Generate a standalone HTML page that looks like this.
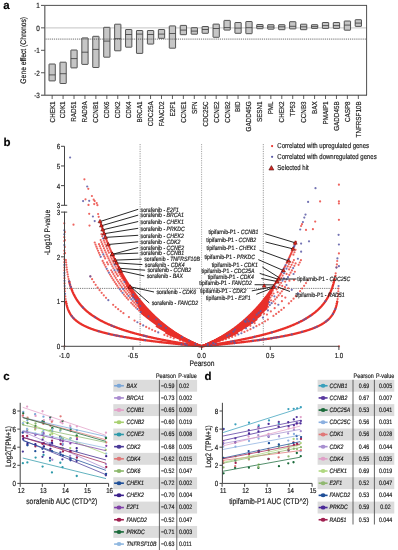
<!DOCTYPE html>
<html><head><meta charset="utf-8"><style>
html,body{margin:0;padding:0;background:#fff;}
body{width:398px;height:550px;overflow:hidden;}
svg{display:block;font-family:"Liberation Sans", sans-serif;will-change:transform;text-rendering:geometricPrecision;}
text{stroke:#1a1a1a;stroke-width:0.15px;}

</style></head><body>
<svg width="398" height="550" viewBox="0 0 398 550">
<text font-size="11.5" text-anchor="start" fill="#000" style="font-weight:bold;" transform="translate(3.30,9.00) scale(1,1.0)">a</text>
<text font-size="11.5" text-anchor="start" fill="#000" style="font-weight:bold;" transform="translate(3.50,146.10) scale(1,1.0)">b</text>
<text font-size="11.5" text-anchor="start" fill="#000" style="font-weight:bold;" transform="translate(3.30,380.00) scale(1,1.0)">c</text>
<text font-size="11.5" text-anchor="start" fill="#000" style="font-weight:bold;" transform="translate(204.40,379.80) scale(1,1.0)">d</text>
<line x1="45.50" y1="27.85" x2="366.60" y2="27.85" stroke="#cfcfcf" stroke-width="1.3"/>
<rect x="49.00" y="64.00" width="6.3" height="16.90" rx="0.4" fill="#c6c6c6" stroke="#444" stroke-width="0.9"/>
<line x1="49.00" y1="74.90" x2="55.30" y2="74.90" stroke="#3a3a3a" stroke-width="0.8"/>
<rect x="59.94" y="62.20" width="6.3" height="21.30" rx="0.4" fill="#c6c6c6" stroke="#444" stroke-width="0.9"/>
<line x1="59.94" y1="73.70" x2="66.23" y2="73.70" stroke="#3a3a3a" stroke-width="0.8"/>
<rect x="70.87" y="50.00" width="6.3" height="17.90" rx="0.4" fill="#c6c6c6" stroke="#444" stroke-width="0.9"/>
<line x1="70.87" y1="58.60" x2="77.17" y2="58.60" stroke="#3a3a3a" stroke-width="0.8"/>
<rect x="81.81" y="37.90" width="6.3" height="26.50" rx="0.4" fill="#c6c6c6" stroke="#444" stroke-width="0.9"/>
<line x1="81.81" y1="52.20" x2="88.11" y2="52.20" stroke="#3a3a3a" stroke-width="0.8"/>
<rect x="92.74" y="36.30" width="6.3" height="31.20" rx="0.4" fill="#c6c6c6" stroke="#444" stroke-width="0.9"/>
<line x1="92.74" y1="49.40" x2="99.04" y2="49.40" stroke="#3a3a3a" stroke-width="0.8"/>
<rect x="103.68" y="27.30" width="6.3" height="29.90" rx="0.4" fill="#c6c6c6" stroke="#444" stroke-width="0.9"/>
<line x1="103.68" y1="41.10" x2="109.98" y2="41.10" stroke="#3a3a3a" stroke-width="0.8"/>
<rect x="114.61" y="24.20" width="6.3" height="26.60" rx="0.4" fill="#c6c6c6" stroke="#444" stroke-width="0.9"/>
<line x1="114.61" y1="38.70" x2="120.91" y2="38.70" stroke="#3a3a3a" stroke-width="0.8"/>
<rect x="125.55" y="29.50" width="6.3" height="17.70" rx="0.4" fill="#c6c6c6" stroke="#444" stroke-width="0.9"/>
<line x1="125.55" y1="34.50" x2="131.84" y2="34.50" stroke="#3a3a3a" stroke-width="0.8"/>
<rect x="136.48" y="30.50" width="6.3" height="22.90" rx="0.4" fill="#c6c6c6" stroke="#444" stroke-width="0.9"/>
<line x1="136.48" y1="34.10" x2="142.78" y2="34.10" stroke="#3a3a3a" stroke-width="0.8"/>
<rect x="147.42" y="30.50" width="6.3" height="13.60" rx="0.4" fill="#c6c6c6" stroke="#444" stroke-width="0.9"/>
<line x1="147.42" y1="34.50" x2="153.72" y2="34.50" stroke="#3a3a3a" stroke-width="0.8"/>
<rect x="158.35" y="29.50" width="6.3" height="8.80" rx="0.4" fill="#c6c6c6" stroke="#444" stroke-width="0.9"/>
<line x1="158.35" y1="34.10" x2="164.65" y2="34.10" stroke="#3a3a3a" stroke-width="0.8"/>
<rect x="169.29" y="25.90" width="6.3" height="22.30" rx="0.4" fill="#c6c6c6" stroke="#444" stroke-width="0.9"/>
<line x1="169.29" y1="33.50" x2="175.59" y2="33.50" stroke="#3a3a3a" stroke-width="0.8"/>
<rect x="180.22" y="25.40" width="6.3" height="9.30" rx="0.4" fill="#c6c6c6" stroke="#444" stroke-width="0.9"/>
<line x1="180.22" y1="30.10" x2="186.52" y2="30.10" stroke="#3a3a3a" stroke-width="0.8"/>
<rect x="191.16" y="27.70" width="6.3" height="6.50" rx="0.4" fill="#c6c6c6" stroke="#444" stroke-width="0.9"/>
<line x1="191.16" y1="31.10" x2="197.45" y2="31.10" stroke="#3a3a3a" stroke-width="0.8"/>
<rect x="202.09" y="26.50" width="6.3" height="6.80" rx="0.4" fill="#c6c6c6" stroke="#444" stroke-width="0.9"/>
<line x1="202.09" y1="29.50" x2="208.39" y2="29.50" stroke="#3a3a3a" stroke-width="0.8"/>
<rect x="213.03" y="24.10" width="6.3" height="13.20" rx="0.4" fill="#c6c6c6" stroke="#444" stroke-width="0.9"/>
<line x1="213.03" y1="28.50" x2="219.32" y2="28.50" stroke="#3a3a3a" stroke-width="0.8"/>
<rect x="223.96" y="20.40" width="6.3" height="9.70" rx="0.4" fill="#c6c6c6" stroke="#444" stroke-width="0.9"/>
<line x1="223.96" y1="27.60" x2="230.26" y2="27.60" stroke="#3a3a3a" stroke-width="0.8"/>
<rect x="234.90" y="22.50" width="6.3" height="10.80" rx="0.4" fill="#c6c6c6" stroke="#444" stroke-width="0.9"/>
<line x1="234.90" y1="28.10" x2="241.19" y2="28.10" stroke="#3a3a3a" stroke-width="0.8"/>
<rect x="245.83" y="21.50" width="6.3" height="12.20" rx="0.4" fill="#c6c6c6" stroke="#444" stroke-width="0.9"/>
<line x1="245.83" y1="27.70" x2="252.13" y2="27.70" stroke="#3a3a3a" stroke-width="0.8"/>
<rect x="256.76" y="24.50" width="6.3" height="4.20" rx="0.4" fill="#c6c6c6" stroke="#444" stroke-width="0.9"/>
<line x1="256.76" y1="26.50" x2="263.06" y2="26.50" stroke="#3a3a3a" stroke-width="0.8"/>
<rect x="267.70" y="24.70" width="6.3" height="4.50" rx="0.4" fill="#c6c6c6" stroke="#444" stroke-width="0.9"/>
<line x1="267.70" y1="27.00" x2="274.00" y2="27.00" stroke="#3a3a3a" stroke-width="0.8"/>
<rect x="278.63" y="24.70" width="6.3" height="5.00" rx="0.4" fill="#c6c6c6" stroke="#444" stroke-width="0.9"/>
<line x1="278.63" y1="26.80" x2="284.94" y2="26.80" stroke="#3a3a3a" stroke-width="0.8"/>
<rect x="289.57" y="21.70" width="6.3" height="7.20" rx="0.4" fill="#c6c6c6" stroke="#444" stroke-width="0.9"/>
<line x1="289.57" y1="26.30" x2="295.87" y2="26.30" stroke="#3a3a3a" stroke-width="0.8"/>
<rect x="300.50" y="24.20" width="6.3" height="5.50" rx="0.4" fill="#c6c6c6" stroke="#444" stroke-width="0.9"/>
<line x1="300.50" y1="26.80" x2="306.81" y2="26.80" stroke="#3a3a3a" stroke-width="0.8"/>
<rect x="311.44" y="24.70" width="6.3" height="3.70" rx="0.4" fill="#c6c6c6" stroke="#444" stroke-width="0.9"/>
<line x1="311.44" y1="26.60" x2="317.74" y2="26.60" stroke="#3a3a3a" stroke-width="0.8"/>
<rect x="322.38" y="22.50" width="6.3" height="5.90" rx="0.4" fill="#c6c6c6" stroke="#444" stroke-width="0.9"/>
<line x1="322.38" y1="25.60" x2="328.68" y2="25.60" stroke="#3a3a3a" stroke-width="0.8"/>
<rect x="333.31" y="22.50" width="6.3" height="5.90" rx="0.4" fill="#c6c6c6" stroke="#444" stroke-width="0.9"/>
<line x1="333.31" y1="25.60" x2="339.61" y2="25.60" stroke="#3a3a3a" stroke-width="0.8"/>
<rect x="344.25" y="21.00" width="6.3" height="9.20" rx="0.4" fill="#c6c6c6" stroke="#444" stroke-width="0.9"/>
<line x1="344.25" y1="25.10" x2="350.55" y2="25.10" stroke="#3a3a3a" stroke-width="0.8"/>
<rect x="355.18" y="19.70" width="6.3" height="6.70" rx="0.4" fill="#c6c6c6" stroke="#444" stroke-width="0.9"/>
<line x1="355.18" y1="23.10" x2="361.48" y2="23.10" stroke="#3a3a3a" stroke-width="0.8"/>
<line x1="45.50" y1="39.08" x2="366.60" y2="39.08" stroke="#4a4a4a" stroke-width="0.8" stroke-dasharray="1.2,0.9"/>
<line x1="41.00" y1="5.40" x2="367.00" y2="5.40" stroke="#3c3c3c" stroke-width="0.9"/>
<line x1="366.60" y1="5.40" x2="366.60" y2="95.20" stroke="#3c3c3c" stroke-width="0.9"/>
<line x1="41.00" y1="95.20" x2="367.00" y2="95.20" stroke="#3c3c3c" stroke-width="1.0"/>
<line x1="44.80" y1="5.40" x2="44.80" y2="95.20" stroke="#6a6a6a" stroke-width="1.3"/>
<line x1="41.00" y1="27.85" x2="44.80" y2="27.85" stroke="#444" stroke-width="0.9"/>
<line x1="41.00" y1="50.30" x2="44.80" y2="50.30" stroke="#444" stroke-width="0.9"/>
<line x1="41.00" y1="72.75" x2="44.80" y2="72.75" stroke="#444" stroke-width="0.9"/>
<text font-size="6.4" text-anchor="end" fill="#1a1a1a" style="" transform="translate(39.90,8.30) scale(1,1.2)">1</text>
<text font-size="6.4" text-anchor="end" fill="#1a1a1a" style="" transform="translate(39.90,30.75) scale(1,1.2)">0</text>
<text font-size="6.4" text-anchor="end" fill="#1a1a1a" style="" transform="translate(39.90,53.20) scale(1,1.2)">-1</text>
<text font-size="6.4" text-anchor="end" fill="#1a1a1a" style="" transform="translate(39.90,75.65) scale(1,1.2)">-2</text>
<text font-size="6.4" text-anchor="end" fill="#1a1a1a" style="" transform="translate(39.90,98.10) scale(1,1.2)">-3</text>
<line x1="52.15" y1="95.20" x2="52.15" y2="99.00" stroke="#333" stroke-width="0.8"/>
<text font-size="6.3" text-anchor="end" fill="#1a1a1a" style="" transform="translate(54.55,101.40) rotate(-90) scale(1,1.15)">CHEK1</text>
<line x1="63.09" y1="95.20" x2="63.09" y2="99.00" stroke="#333" stroke-width="0.8"/>
<text font-size="6.3" text-anchor="end" fill="#1a1a1a" style="" transform="translate(65.48,101.40) rotate(-90) scale(1,1.15)">CDK1</text>
<line x1="74.02" y1="95.20" x2="74.02" y2="99.00" stroke="#333" stroke-width="0.8"/>
<text font-size="6.3" text-anchor="end" fill="#1a1a1a" style="" transform="translate(76.42,101.40) rotate(-90) scale(1,1.15)">RAD51</text>
<line x1="84.95" y1="95.20" x2="84.95" y2="99.00" stroke="#333" stroke-width="0.8"/>
<text font-size="6.3" text-anchor="end" fill="#1a1a1a" style="" transform="translate(87.36,101.40) rotate(-90) scale(1,1.15)">RAD9A</text>
<line x1="95.89" y1="95.20" x2="95.89" y2="99.00" stroke="#333" stroke-width="0.8"/>
<text font-size="6.3" text-anchor="end" fill="#1a1a1a" style="" transform="translate(98.29,101.40) rotate(-90) scale(1,1.15)">CCNB1</text>
<line x1="106.83" y1="95.20" x2="106.83" y2="99.00" stroke="#333" stroke-width="0.8"/>
<text font-size="6.3" text-anchor="end" fill="#1a1a1a" style="" transform="translate(109.23,101.40) rotate(-90) scale(1,1.15)">CDK6</text>
<line x1="117.76" y1="95.20" x2="117.76" y2="99.00" stroke="#333" stroke-width="0.8"/>
<text font-size="6.3" text-anchor="end" fill="#1a1a1a" style="" transform="translate(120.16,101.40) rotate(-90) scale(1,1.15)">CDK2</text>
<line x1="128.69" y1="95.20" x2="128.69" y2="99.00" stroke="#333" stroke-width="0.8"/>
<text font-size="6.3" text-anchor="end" fill="#1a1a1a" style="" transform="translate(131.09,101.40) rotate(-90) scale(1,1.15)">CDK4</text>
<line x1="139.63" y1="95.20" x2="139.63" y2="99.00" stroke="#333" stroke-width="0.8"/>
<text font-size="6.3" text-anchor="end" fill="#1a1a1a" style="" transform="translate(142.03,101.40) rotate(-90) scale(1,1.15)">BRCA1</text>
<line x1="150.56" y1="95.20" x2="150.56" y2="99.00" stroke="#333" stroke-width="0.8"/>
<text font-size="6.3" text-anchor="end" fill="#1a1a1a" style="" transform="translate(152.97,101.40) rotate(-90) scale(1,1.15)">CDC25A</text>
<line x1="161.50" y1="95.20" x2="161.50" y2="99.00" stroke="#333" stroke-width="0.8"/>
<text font-size="6.3" text-anchor="end" fill="#1a1a1a" style="" transform="translate(163.90,101.40) rotate(-90) scale(1,1.15)">FANCD2</text>
<line x1="172.44" y1="95.20" x2="172.44" y2="99.00" stroke="#333" stroke-width="0.8"/>
<text font-size="6.3" text-anchor="end" fill="#1a1a1a" style="" transform="translate(174.84,101.40) rotate(-90) scale(1,1.15)">E2F1</text>
<line x1="183.37" y1="95.20" x2="183.37" y2="99.00" stroke="#333" stroke-width="0.8"/>
<text font-size="6.3" text-anchor="end" fill="#1a1a1a" style="" transform="translate(185.77,101.40) rotate(-90) scale(1,1.15)">CCNE1</text>
<line x1="194.31" y1="95.20" x2="194.31" y2="99.00" stroke="#333" stroke-width="0.8"/>
<text font-size="6.3" text-anchor="end" fill="#1a1a1a" style="" transform="translate(196.71,101.40) rotate(-90) scale(1,1.15)">SFN</text>
<line x1="205.24" y1="95.20" x2="205.24" y2="99.00" stroke="#333" stroke-width="0.8"/>
<text font-size="6.3" text-anchor="end" fill="#1a1a1a" style="" transform="translate(207.64,101.40) rotate(-90) scale(1,1.15)">CDC25C</text>
<line x1="216.18" y1="95.20" x2="216.18" y2="99.00" stroke="#333" stroke-width="0.8"/>
<text font-size="6.3" text-anchor="end" fill="#1a1a1a" style="" transform="translate(218.58,101.40) rotate(-90) scale(1,1.15)">CCNE2</text>
<line x1="227.11" y1="95.20" x2="227.11" y2="99.00" stroke="#333" stroke-width="0.8"/>
<text font-size="6.3" text-anchor="end" fill="#1a1a1a" style="" transform="translate(229.51,101.40) rotate(-90) scale(1,1.15)">CCNB2</text>
<line x1="238.05" y1="95.20" x2="238.05" y2="99.00" stroke="#333" stroke-width="0.8"/>
<text font-size="6.3" text-anchor="end" fill="#1a1a1a" style="" transform="translate(240.45,101.40) rotate(-90) scale(1,1.15)">BID</text>
<line x1="248.98" y1="95.20" x2="248.98" y2="99.00" stroke="#333" stroke-width="0.8"/>
<text font-size="6.3" text-anchor="end" fill="#1a1a1a" style="" transform="translate(251.38,101.40) rotate(-90) scale(1,1.15)">GADD45G</text>
<line x1="259.92" y1="95.20" x2="259.92" y2="99.00" stroke="#333" stroke-width="0.8"/>
<text font-size="6.3" text-anchor="end" fill="#1a1a1a" style="" transform="translate(262.31,101.40) rotate(-90) scale(1,1.15)">SESN1</text>
<line x1="270.85" y1="95.20" x2="270.85" y2="99.00" stroke="#333" stroke-width="0.8"/>
<text font-size="6.3" text-anchor="end" fill="#1a1a1a" style="" transform="translate(273.25,101.40) rotate(-90) scale(1,1.15)">PML</text>
<line x1="281.79" y1="95.20" x2="281.79" y2="99.00" stroke="#333" stroke-width="0.8"/>
<text font-size="6.3" text-anchor="end" fill="#1a1a1a" style="" transform="translate(284.19,101.40) rotate(-90) scale(1,1.15)">CHEK2</text>
<line x1="292.72" y1="95.20" x2="292.72" y2="99.00" stroke="#333" stroke-width="0.8"/>
<text font-size="6.3" text-anchor="end" fill="#1a1a1a" style="" transform="translate(295.12,101.40) rotate(-90) scale(1,1.15)">TP53</text>
<line x1="303.66" y1="95.20" x2="303.66" y2="99.00" stroke="#333" stroke-width="0.8"/>
<text font-size="6.3" text-anchor="end" fill="#1a1a1a" style="" transform="translate(306.06,101.40) rotate(-90) scale(1,1.15)">CCNB3</text>
<line x1="314.59" y1="95.20" x2="314.59" y2="99.00" stroke="#333" stroke-width="0.8"/>
<text font-size="6.3" text-anchor="end" fill="#1a1a1a" style="" transform="translate(316.99,101.40) rotate(-90) scale(1,1.15)">BAX</text>
<line x1="325.52" y1="95.20" x2="325.52" y2="99.00" stroke="#333" stroke-width="0.8"/>
<text font-size="6.3" text-anchor="end" fill="#1a1a1a" style="" transform="translate(327.92,101.40) rotate(-90) scale(1,1.15)">PMAIP1</text>
<line x1="336.46" y1="95.20" x2="336.46" y2="99.00" stroke="#333" stroke-width="0.8"/>
<text font-size="6.3" text-anchor="end" fill="#1a1a1a" style="" transform="translate(338.86,101.40) rotate(-90) scale(1,1.15)">GADD45B</text>
<line x1="347.39" y1="95.20" x2="347.39" y2="99.00" stroke="#333" stroke-width="0.8"/>
<text font-size="6.3" text-anchor="end" fill="#1a1a1a" style="" transform="translate(349.79,101.40) rotate(-90) scale(1,1.15)">CASP8</text>
<line x1="358.33" y1="95.20" x2="358.33" y2="99.00" stroke="#333" stroke-width="0.8"/>
<text font-size="6.3" text-anchor="end" fill="#1a1a1a" style="" transform="translate(360.73,101.40) rotate(-90) scale(1,1.15)">TNFRSF10B</text>
<text font-size="6.75" text-anchor="middle" fill="#1a1a1a" style="" transform="translate(25.90,50.30) rotate(-90) scale(1,1.2)">Gene effect (Chronos)</text>
<line x1="140.10" y1="144.00" x2="140.10" y2="346.30" stroke="#9a9a9a" stroke-width="1.0" stroke-dasharray="1.2,1.1"/>
<line x1="263.30" y1="144.00" x2="263.30" y2="346.30" stroke="#9a9a9a" stroke-width="1.0" stroke-dasharray="1.2,1.1"/>
<line x1="201.60" y1="144.00" x2="201.60" y2="346.30" stroke="#a8a8a8" stroke-width="1.0" stroke-dasharray="1.2,1.1"/>
<line x1="64.50" y1="288.40" x2="339.00" y2="288.40" stroke="#6a6a6a" stroke-width="0.9" stroke-dasharray="1.2,1.0"/>
<polyline points="201.60,346.30 200.70,346.22 199.80,346.14 198.90,346.06 198.01,345.97 197.12,345.89 196.23,345.81 195.35,345.73 194.46,345.65 193.59,345.56 192.71,345.48 191.84,345.40 190.97,345.32 190.10,345.23 189.24,345.15 188.38,345.07 187.52,344.99 186.67,344.90 185.82,344.82 184.97,344.74 184.12,344.65 183.28,344.57 182.44,344.49 181.60,344.40 180.77,344.32 179.94,344.23 179.11,344.15 178.29,344.07 177.47,343.98 176.65,343.90 175.83,343.81 175.02,343.73 174.21,343.64 173.41,343.56 172.60,343.47 171.80,343.39 171.01,343.30 170.21,343.22 169.42,343.13 168.63,343.04 167.85,342.96 167.07,342.87 166.29,342.78 165.51,342.70 164.74,342.61 163.97,342.52 163.20,342.43 162.44,342.35 161.68,342.26 160.92,342.17 160.16,342.08 159.41,341.99 158.66,341.90 157.92,341.82 157.17,341.73 156.43,341.64 155.70,341.55 154.96,341.46 154.23,341.37 153.51,341.28 152.78,341.19 152.06,341.10 151.34,341.00 150.62,340.91 149.91,340.82 149.20,340.73 148.50,340.64 147.79,340.55 147.09,340.45 146.39,340.36 145.70,340.27 145.01,340.17 144.32,340.08 143.63,339.99 142.95,339.89 142.27,339.80 141.59,339.70 140.92,339.61 140.25,339.51 139.58,339.42 138.92,339.32 138.26,339.22 137.60,339.13 136.94,339.03 136.29,338.93 135.64,338.84 134.99,338.74 134.35,338.64 133.71,338.54 133.07,338.44 132.44,338.34 131.81,338.24 131.18,338.14 130.55,338.04 129.93,337.94 129.31,337.84 128.70,337.74 128.08,337.64 127.47,337.54 126.87,337.43 126.26,337.33 125.66,337.23 125.06,337.12 124.47,337.02 123.87,336.92 123.29,336.81 122.70,336.71 122.12,336.60 121.54,336.49 120.96,336.39 120.38,336.28 119.81,336.17 119.25,336.07 118.68,335.96 118.12,335.85 117.56,335.74 117.00,335.63 116.45,335.52 115.90,335.41 115.35,335.30 114.81,335.19 114.27,335.08 113.73,334.96 113.20,334.85 112.66,334.74 112.14,334.62 111.61,334.51 111.09,334.39 110.57,334.28 110.05,334.16 109.54,334.04 109.03,333.93 108.52,333.81 108.01,333.69 107.51,333.57 107.01,333.45 106.52,333.33 106.02,333.21 105.53,333.09 105.05,332.97 104.56,332.85 104.08,332.72 103.61,332.60 103.13,332.48 102.66,332.35 102.19,332.23 101.73,332.10 101.26,331.97 100.80,331.85 100.35,331.72 99.89,331.59 99.44,331.46 98.99,331.33 98.55,331.20 98.11,331.07 97.67,330.93 97.23,330.80 96.80,330.67 96.37,330.53 95.95,330.40 95.52,330.26 95.10,330.12 94.69,329.98 94.27,329.85 93.86,329.71 93.45,329.57 93.05,329.42 92.64,329.28 92.24,329.14 91.85,329.00 91.45,328.85 91.06,328.71 90.68,328.56 90.29,328.41 89.91,328.26 89.53,328.11 89.16,327.96 88.79,327.81 88.42,327.66 88.05,327.51 87.69,327.35 87.33,327.20 86.97,327.04 86.62,326.88 86.27,326.73 85.92,326.57 85.57,326.41 85.23,326.24 84.89,326.08 84.56,325.92 84.22,325.75 83.89,325.59 83.57,325.42 83.24,325.25 82.92,325.08 82.60,324.91 82.29,324.74 81.98,324.56 81.67,324.39 81.36,324.21 81.06,324.03 80.76,323.85 80.46,323.67 80.17,323.49 79.88,323.31 79.59,323.12 79.30,322.94 79.02,322.75 78.74,322.56 78.47,322.37 78.20,322.18 77.93,321.98 77.66,321.79 77.40,321.59 77.13,321.39 76.88,321.19 76.62,320.99 76.37,320.79 76.12,320.58 75.88,320.38 75.63,320.17 75.39,319.96 75.16,319.75 74.92,319.53 74.69,319.32 74.47,319.10 74.24,318.88 74.02,318.66 73.80,318.43 73.59,318.21 73.37,317.98 73.16,317.75 72.96,317.52 72.75,317.29 72.55,317.05 72.36,316.81 72.16,316.57 71.97,316.33 71.78,316.09 71.60,315.84 71.41,315.59 71.24,315.34 71.06,315.09 70.89,314.84 70.72,314.58 70.55,314.32 70.38,314.06 70.22,313.80 70.06,313.53 69.91,313.27 69.76,313.00 69.61,312.73 69.46,312.45 69.32,312.18 69.18,311.90 69.04,311.62 68.91,311.34 68.78,311.06 68.65,310.78 68.52,310.49 68.40,310.21 68.28,309.92 68.17,309.63 68.05,309.34 67.94,309.05 67.84,308.76 67.73,308.47 67.63,308.18 67.53,307.89 67.44,307.60 67.35,307.31 67.26,307.02 67.17,306.73 67.09,306.45 67.01,306.16 66.93,305.88 66.86,305.61 66.79,305.33 66.72,305.06 66.65,304.80 66.59,304.54 66.53,304.29 66.48,304.04 66.43,303.80 66.38,303.57 66.33,303.35 66.29,303.14 66.25,302.94 66.21,302.75 66.17,302.57 66.14,302.40 66.11,302.25 66.09,302.11 66.06,301.99 66.04,301.88 66.03,301.78 66.01,301.71 66.00,301.65 66.00,301.60 65.99,301.58 65.99,301.57" fill="none" stroke="#e8302a" stroke-width="2.3" stroke-linejoin="round" stroke-linecap="round"/>
<polyline points="201.60,346.30 202.50,346.22 203.40,346.14 204.30,346.06 205.19,345.97 206.08,345.89 206.97,345.81 207.85,345.73 208.74,345.65 209.61,345.56 210.49,345.48 211.36,345.40 212.23,345.32 213.10,345.23 213.96,345.15 214.82,345.07 215.68,344.99 216.53,344.90 217.38,344.82 218.23,344.74 219.08,344.65 219.92,344.57 220.76,344.49 221.60,344.40 222.43,344.32 223.26,344.23 224.09,344.15 224.91,344.07 225.73,343.98 226.55,343.90 227.37,343.81 228.18,343.73 228.99,343.64 229.79,343.56 230.60,343.47 231.40,343.39 232.19,343.30 232.99,343.22 233.78,343.13 234.57,343.04 235.35,342.96 236.13,342.87 236.91,342.78 237.69,342.70 238.46,342.61 239.23,342.52 240.00,342.43 240.76,342.35 241.52,342.26 242.28,342.17 243.04,342.08 243.79,341.99 244.54,341.90 245.28,341.82 246.03,341.73 246.77,341.64 247.50,341.55 248.24,341.46 248.97,341.37 249.69,341.28 250.42,341.19 251.14,341.10 251.86,341.00 252.58,340.91 253.29,340.82 254.00,340.73 254.70,340.64 255.41,340.55 256.11,340.45 256.81,340.36 257.50,340.27 258.19,340.17 258.88,340.08 259.57,339.99 260.25,339.89 260.93,339.80 261.61,339.70 262.28,339.61 262.95,339.51 263.62,339.42 264.28,339.32 264.94,339.22 265.60,339.13 266.26,339.03 266.91,338.93 267.56,338.84 268.21,338.74 268.85,338.64 269.49,338.54 270.13,338.44 270.76,338.34 271.39,338.24 272.02,338.14 272.65,338.04 273.27,337.94 273.89,337.84 274.50,337.74 275.12,337.64 275.73,337.54 276.33,337.43 276.94,337.33 277.54,337.23 278.14,337.12 278.73,337.02 279.33,336.92 279.91,336.81 280.50,336.71 281.08,336.60 281.66,336.49 282.24,336.39 282.82,336.28 283.39,336.17 283.95,336.07 284.52,335.96 285.08,335.85 285.64,335.74 286.20,335.63 286.75,335.52 287.30,335.41 287.85,335.30 288.39,335.19 288.93,335.08 289.47,334.96 290.00,334.85 290.54,334.74 291.06,334.62 291.59,334.51 292.11,334.39 292.63,334.28 293.15,334.16 293.66,334.04 294.17,333.93 294.68,333.81 295.19,333.69 295.69,333.57 296.19,333.45 296.68,333.33 297.18,333.21 297.67,333.09 298.15,332.97 298.64,332.85 299.12,332.72 299.59,332.60 300.07,332.48 300.54,332.35 301.01,332.23 301.47,332.10 301.94,331.97 302.40,331.85 302.85,331.72 303.31,331.59 303.76,331.46 304.21,331.33 304.65,331.20 305.09,331.07 305.53,330.93 305.97,330.80 306.40,330.67 306.83,330.53 307.25,330.40 307.68,330.26 308.10,330.12 308.51,329.98 308.93,329.85 309.34,329.71 309.75,329.57 310.15,329.42 310.56,329.28 310.96,329.14 311.35,329.00 311.75,328.85 312.14,328.71 312.52,328.56 312.91,328.41 313.29,328.26 313.67,328.11 314.04,327.96 314.41,327.81 314.78,327.66 315.15,327.51 315.51,327.35 315.87,327.20 316.23,327.04 316.58,326.88 316.93,326.73 317.28,326.57 317.63,326.41 317.97,326.24 318.31,326.08 318.64,325.92 318.98,325.75 319.31,325.59 319.63,325.42 319.96,325.25 320.28,325.08 320.60,324.91 320.91,324.74 321.22,324.56 321.53,324.39 321.84,324.21 322.14,324.03 322.44,323.85 322.74,323.67 323.03,323.49 323.32,323.31 323.61,323.12 323.90,322.94 324.18,322.75 324.46,322.56 324.73,322.37 325.00,322.18 325.27,321.98 325.54,321.79 325.80,321.59 326.07,321.39 326.32,321.19 326.58,320.99 326.83,320.79 327.08,320.58 327.32,320.38 327.57,320.17 327.81,319.96 328.04,319.75 328.28,319.53 328.51,319.32 328.73,319.10 328.96,318.88 329.18,318.66 329.40,318.43 329.61,318.21 329.83,317.98 330.04,317.75 330.24,317.52 330.45,317.29 330.65,317.05 330.84,316.81 331.04,316.57 331.23,316.33 331.42,316.09 331.60,315.84 331.79,315.59 331.96,315.34 332.14,315.09 332.31,314.84 332.48,314.58 332.65,314.32 332.82,314.06 332.98,313.80 333.14,313.53 333.29,313.27 333.44,313.00 333.59,312.73 333.74,312.45 333.88,312.18 334.02,311.90 334.16,311.62 334.29,311.34 334.42,311.06 334.55,310.78 334.68,310.49 334.80,310.21 334.92,309.92 335.03,309.63 335.15,309.34 335.26,309.05 335.36,308.76 335.47,308.47 335.57,308.18 335.67,307.89 335.76,307.60 335.85,307.31 335.94,307.02 336.03,306.73 336.11,306.45 336.19,306.16 336.27,305.88 336.34,305.61 336.41,305.33 336.48,305.06 336.55,304.80 336.61,304.54 336.67,304.29 336.72,304.04 336.77,303.80 336.82,303.57 336.87,303.35 336.91,303.14 336.95,302.94 336.99,302.75 337.03,302.57 337.06,302.40 337.09,302.25 337.11,302.11 337.14,301.99 337.16,301.88 337.17,301.78 337.19,301.71 337.20,301.65 337.20,301.60 337.21,301.58 337.21,301.57" fill="none" stroke="#e8302a" stroke-width="2.3" stroke-linejoin="round" stroke-linecap="round"/>
<polyline points="201.60,346.30 200.72,346.17 199.84,346.05 198.96,345.92 198.09,345.80 197.22,345.67 196.36,345.54 195.49,345.42 194.63,345.29 193.77,345.16 192.92,345.03 192.07,344.90 191.22,344.77 190.37,344.64 189.53,344.51 188.69,344.38 187.85,344.25 187.02,344.12 186.19,343.99 185.36,343.85 184.53,343.72 183.71,343.59 182.89,343.45 182.07,343.32 181.26,343.19 180.45,343.05 179.64,342.91 178.84,342.78 178.03,342.64 177.23,342.50 176.44,342.37 175.65,342.23 174.86,342.09 174.07,341.95 173.28,341.81 172.50,341.67 171.72,341.53 170.95,341.39 170.18,341.25 169.41,341.11 168.64,340.97 167.88,340.82 167.12,340.68 166.36,340.54 165.60,340.39 164.85,340.25 164.10,340.10 163.36,339.96 162.61,339.81 161.87,339.66 161.14,339.52 160.40,339.37 159.67,339.22 158.94,339.07 158.22,338.92 157.49,338.77 156.77,338.62 156.06,338.47 155.34,338.32 154.63,338.17 153.93,338.01 153.22,337.86 152.52,337.71 151.82,337.55 151.12,337.40 150.43,337.24 149.74,337.09 149.05,336.93 148.37,336.77 147.69,336.61 147.01,336.45 146.33,336.30 145.66,336.14 144.99,335.97 144.33,335.81 143.66,335.65 143.00,335.49 142.34,335.33 141.69,335.16 141.04,335.00 140.39,334.83 139.74,334.67 139.10,334.50 138.46,334.33 137.82,334.17 137.19,334.00 136.56,333.83 135.93,333.66 135.30,333.49 134.68,333.32 134.06,333.15 133.44,332.97 132.83,332.80 132.22,332.63 131.61,332.45 131.01,332.28 130.41,332.10 129.81,331.92 129.21,331.75 128.62,331.57 128.03,331.39 127.44,331.21 126.86,331.03 126.28,330.85 125.70,330.67 125.12,330.48 124.55,330.30 123.98,330.12 123.41,329.93 122.85,329.74 122.29,329.56 121.73,329.37 121.18,329.18 120.63,328.99 120.08,328.80 119.53,328.61 118.99,328.42 118.45,328.23 117.91,328.03 117.38,327.84 116.85,327.64 116.32,327.45 115.79,327.25 115.27,327.05 114.75,326.85 114.23,326.65 113.72,326.45 113.21,326.25 112.70,326.05 112.20,325.84 111.70,325.64 111.20,325.43 110.70,325.23 110.21,325.02 109.72,324.81 109.23,324.60 108.75,324.39 108.27,324.18 107.79,323.97 107.31,323.75 106.84,323.54 106.37,323.32 105.90,323.11 105.44,322.89 104.98,322.67 104.52,322.45 104.07,322.23 103.62,322.01 103.17,321.78 102.72,321.56 102.28,321.33 101.84,321.11 101.40,320.88 100.97,320.65 100.54,320.42 100.11,320.19 99.68,319.96 99.26,319.73 98.84,319.49 98.43,319.26 98.01,319.02 97.60,318.78 97.19,318.54 96.79,318.30 96.39,318.06 95.99,317.82 95.59,317.57 95.20,317.33 94.81,317.08 94.42,316.83 94.04,316.58 93.66,316.33 93.28,316.08 92.90,315.83 92.53,315.57 92.16,315.32 91.80,315.06 91.43,314.80 91.07,314.54 90.71,314.28 90.36,314.02 90.01,313.75 89.66,313.49 89.31,313.22 88.97,312.95 88.63,312.69 88.29,312.41 87.96,312.14 87.63,311.87 87.30,311.59 86.98,311.32 86.65,311.04 86.33,310.76 86.02,310.48 85.70,310.20 85.39,309.91 85.09,309.63 84.78,309.34 84.48,309.05 84.18,308.76 83.89,308.47 83.59,308.18 83.30,307.88 83.02,307.59 82.73,307.29 82.45,306.99 82.17,306.69 81.90,306.39 81.63,306.09 81.36,305.78 81.09,305.48 80.83,305.17 80.57,304.86 80.31,304.55 80.05,304.24 79.80,303.93 79.55,303.61 79.31,303.30 79.07,302.98 78.83,302.66 78.59,302.34 78.35,302.02 78.12,301.70 77.90,301.38 77.67,301.05 77.45,300.73 77.23,300.40 77.01,300.07 76.80,299.75 76.59,299.42 76.38,299.09 76.18,298.75 75.98,298.42 75.78,298.09 75.58,297.75 75.39,297.42 75.20,297.08 75.01,296.75 74.83,296.41 74.65,296.07 74.47,295.74 74.29,295.40 74.12,295.06 73.95,294.72 73.79,294.39 73.62,294.05 73.46,293.71 73.30,293.38 73.15,293.04 73.00,292.70 72.85,292.37 72.70,292.04 72.56,291.70 72.42,291.37 72.29,291.04 72.15,290.71 72.02,290.39 71.89,290.06 71.77,289.74 71.65,289.42 71.53,289.10 71.41,288.79 71.30,288.47 71.19,288.16 71.08,287.86 70.97,287.56 70.87,287.26 70.77,286.97 70.68,286.68 70.59,286.39 70.50,286.11 70.41,285.84 70.33,285.57 70.24,285.31 70.17,285.05 70.09,284.80 70.02,284.56 69.95,284.32 69.88,284.09 69.82,283.87 69.76,283.66 69.70,283.45 69.65,283.26 69.60,283.07 69.55,282.89 69.50,282.72 69.46,282.56 69.42,282.41 69.38,282.27 69.35,282.14 69.32,282.02 69.29,281.91 69.27,281.81 69.24,281.73 69.22,281.65 69.21,281.59 69.20,281.54 69.18,281.49 69.18,281.46 69.17,281.45 69.17,281.44" fill="none" stroke="#e8302a" stroke-width="2.3" stroke-linejoin="round" stroke-linecap="round"/>
<polyline points="201.60,346.30 202.48,346.17 203.37,346.05 204.25,345.92 205.12,345.80 206.00,345.67 206.87,345.54 207.73,345.41 208.60,345.28 209.46,345.16 210.32,345.03 211.17,344.90 212.02,344.77 212.87,344.64 213.72,344.50 214.56,344.37 215.40,344.24 216.24,344.11 217.08,343.98 217.91,343.84 218.74,343.71 219.56,343.58 220.39,343.44 221.21,343.31 222.02,343.17 222.84,343.04 223.65,342.90 224.46,342.76 225.26,342.63 226.06,342.49 226.86,342.35 227.66,342.21 228.45,342.07 229.24,341.93 230.03,341.79 230.81,341.65 231.60,341.51 232.37,341.37 233.15,341.23 233.92,341.09 234.69,340.94 235.46,340.80 236.22,340.66 236.98,340.51 237.74,340.37 238.50,340.22 239.25,340.07 240.00,339.93 240.74,339.78 241.49,339.63 242.23,339.48 242.96,339.34 243.70,339.19 244.43,339.04 245.16,338.89 245.88,338.74 246.60,338.58 247.32,338.43 248.04,338.28 248.75,338.13 249.46,337.97 250.17,337.82 250.88,337.66 251.58,337.51 252.28,337.35 252.97,337.20 253.67,337.04 254.36,336.88 255.04,336.72 255.73,336.56 256.41,336.40 257.09,336.24 257.76,336.08 258.43,335.92 259.10,335.76 259.77,335.59 260.43,335.43 261.09,335.27 261.75,335.10 262.40,334.94 263.06,334.77 263.70,334.60 264.35,334.44 264.99,334.27 265.63,334.10 266.27,333.93 266.90,333.76 267.53,333.59 268.16,333.42 268.79,333.24 269.41,333.07 270.03,332.90 270.64,332.72 271.26,332.55 271.87,332.37 272.47,332.20 273.08,332.02 273.68,331.84 274.28,331.66 274.87,331.48 275.47,331.30 276.06,331.12 276.64,330.94 277.23,330.75 277.81,330.57 278.38,330.39 278.96,330.20 279.53,330.01 280.10,329.83 280.66,329.64 281.23,329.45 281.79,329.26 282.34,329.07 282.90,328.88 283.45,328.69 284.00,328.49 284.54,328.30 285.08,328.11 285.62,327.91 286.16,327.71 286.69,327.52 287.22,327.32 287.75,327.12 288.28,326.92 288.80,326.72 289.32,326.51 289.83,326.31 290.34,326.11 290.85,325.90 291.36,325.70 291.86,325.49 292.36,325.28 292.86,325.07 293.36,324.86 293.85,324.65 294.34,324.44 294.82,324.23 295.31,324.01 295.79,323.80 296.26,323.58 296.74,323.36 297.21,323.15 297.68,322.93 298.14,322.71 298.61,322.48 299.07,322.26 299.52,322.04 299.98,321.81 300.43,321.59 300.87,321.36 301.32,321.13 301.76,320.90 302.20,320.67 302.63,320.44 303.07,320.20 303.50,319.97 303.92,319.73 304.35,319.50 304.77,319.26 305.19,319.02 305.60,318.78 306.02,318.54 306.42,318.29 306.83,318.05 307.23,317.80 307.63,317.56 308.03,317.31 308.43,317.06 308.82,316.81 309.21,316.55 309.59,316.30 309.97,316.05 310.35,315.79 310.73,315.53 311.10,315.27 311.48,315.01 311.84,314.75 312.21,314.48 312.57,314.22 312.93,313.95 313.28,313.68 313.64,313.41 313.99,313.14 314.34,312.87 314.68,312.60 315.02,312.32 315.36,312.04 315.69,311.76 316.03,311.48 316.36,311.20 316.68,310.92 317.01,310.63 317.33,310.35 317.64,310.06 317.96,309.77 318.27,309.48 318.58,309.19 318.89,308.89 319.19,308.60 319.49,308.30 319.79,308.00 320.08,307.70 320.37,307.39 320.66,307.09 320.94,306.78 321.23,306.48 321.50,306.17 321.78,305.86 322.05,305.54 322.32,305.23 322.59,304.91 322.86,304.60 323.12,304.28 323.38,303.96 323.63,303.63 323.88,303.31 324.13,302.98 324.38,302.66 324.62,302.33 324.87,302.00 325.10,301.66 325.34,301.33 325.57,301.00 325.80,300.66 326.03,300.32 326.25,299.98 326.47,299.64 326.69,299.30 326.90,298.95 327.11,298.61 327.32,298.26 327.52,297.92 327.73,297.57 327.93,297.22 328.12,296.87 328.32,296.51 328.51,296.16 328.69,295.81 328.88,295.45 329.06,295.10 329.24,294.74 329.42,294.38 329.59,294.03 329.76,293.67 329.93,293.31 330.09,292.95 330.25,292.59 330.41,292.24 330.56,291.88 330.72,291.52 330.86,291.16 331.01,290.81 331.15,290.45 331.29,290.09 331.43,289.74 331.57,289.39 331.70,289.04 331.83,288.69 331.95,288.34 332.07,287.99 332.19,287.65 332.31,287.31 332.42,286.97 332.54,286.63 332.64,286.30 332.75,285.97 332.85,285.65 332.95,285.33 333.05,285.01 333.14,284.70 333.23,284.39 333.32,284.09 333.40,283.80 333.48,283.51 333.56,283.23 333.63,282.95 333.71,282.68 333.78,282.42 333.84,282.17 333.91,281.92 333.97,281.68 334.02,281.46 334.08,281.24 334.13,281.03 334.18,280.83 334.23,280.64 334.27,280.46 334.31,280.29 334.35,280.13 334.38,279.99 334.41,279.85 334.44,279.73 334.46,279.62 334.49,279.53 334.51,279.44 334.52,279.37 334.53,279.31 334.54,279.26 334.55,279.23 334.56,279.21 334.56,279.21" fill="none" stroke="#e8302a" stroke-width="2.3" stroke-linejoin="round" stroke-linecap="round"/>
<polyline points="201.60,346.30 201.20,346.17 200.80,346.03 200.40,345.90 200.01,345.77 199.61,345.63 199.22,345.50 198.83,345.36 198.44,345.23 198.05,345.09 197.66,344.96 197.27,344.82 196.88,344.68 196.50,344.55 196.12,344.41 195.74,344.27 195.36,344.13 194.98,343.99 194.60,343.85 194.22,343.71 193.85,343.57 193.48,343.43 193.10,343.29 192.73,343.15 192.36,343.01 191.99,342.87 191.63,342.73 191.26,342.58 190.90,342.44 190.53,342.30 190.17,342.15 189.81,342.01 189.45,341.87 189.10,341.72 188.74,341.58 188.39,341.43 188.03,341.29 187.68,341.14 187.33,341.00 186.98,340.85 186.63,340.70 186.28,340.56 185.94,340.41 185.60,340.26 185.25,340.12 184.91,339.97 184.57,339.82 184.23,339.67 183.89,339.52 183.56,339.38 183.22,339.23 182.89,339.08 182.56,338.93 182.23,338.78 181.90,338.63 181.57,338.48 181.24,338.33 180.92,338.18 180.59,338.03 180.27,337.88 179.95,337.73 179.63,337.58 179.31,337.43 178.99,337.28 178.68,337.13 178.36,336.98 178.05,336.83 177.74,336.68 177.43,336.52 177.12,336.37 176.81,336.22 176.50,336.07 176.20,335.92 175.89,335.77 175.59,335.61 175.29,335.46 174.99,335.31 174.69,335.16 174.39,335.01 174.10,334.86 173.80,334.70 173.51,334.55 173.22,334.40 172.93,334.25 172.64,334.10 172.35,333.94 172.06,333.79 171.78,333.64 171.49,333.49 171.21,333.34 170.93,333.18 170.65,333.03 170.37,332.88 170.09,332.73 169.82,332.58 169.54,332.43 169.27,332.27 169.00,332.12 168.73,331.97 168.46,331.82 168.19,331.67 167.92,331.52 167.66,331.37 167.39,331.22 167.13,331.07 166.87,330.92 166.61,330.77 166.35,330.62 166.09,330.47 165.84,330.32 165.58,330.17 165.33,330.02 165.08,329.87 164.83,329.72 164.58,329.57 164.33,329.42 164.08,329.27 163.84,329.12 163.59,328.98 163.35,328.83 163.11,328.68 162.87,328.53 162.63,328.39 162.39,328.24 162.16,328.09 161.92,327.95 161.69,327.80 161.46,327.66 161.23,327.51 161.00,327.37 160.77,327.22 160.54,327.08 160.32,326.93 160.10,326.79 159.87,326.65 159.65,326.50 159.43,326.36 159.21,326.22 159.00,326.08 158.78,325.93 158.57,325.79 158.35,325.65 158.14,325.51 157.93,325.37 157.72,325.23 157.51,325.09 157.31,324.95 157.10,324.82 156.90,324.68 156.70,324.54 156.49,324.40 156.29,324.27 156.10,324.13 155.90,324.00 155.70,323.86 155.51,323.73 155.32,323.59 155.12,323.46 154.93,323.33 154.74,323.19 154.56,323.06 154.37,322.93 154.19,322.80 154.00,322.67 153.82,322.54 153.64,322.41 153.46,322.28 153.28,322.15 153.10,322.03 152.93,321.90 152.75,321.77 152.58,321.65 152.41,321.52 152.24,321.40 152.07,321.27 151.90,321.15 151.73,321.03 151.57,320.91 151.41,320.78 151.24,320.66 151.08,320.54 150.92,320.43 150.76,320.31 150.61,320.19 150.45,320.07 150.30,319.96 150.14,319.84 149.99,319.72 149.84,319.61 149.69,319.50 149.55,319.38 149.40,319.27 149.25,319.16 149.11,319.05 148.97,318.94 148.83,318.83 148.69,318.72 148.55,318.62 148.41,318.51 148.28,318.40 148.14,318.30 148.01,318.19 147.88,318.09 147.75,317.99 147.62,317.89 147.49,317.78 147.36,317.68 147.24,317.59 147.12,317.49 146.99,317.39 146.87,317.29 146.75,317.20 146.63,317.10 146.52,317.01 146.40,316.91 146.29,316.82 146.17,316.73 146.06,316.64 145.95,316.55 145.84,316.46 145.74,316.37 145.63,316.29 145.53,316.20 145.42,316.12 145.32,316.03 145.22,315.95 145.12,315.87 145.02,315.79 144.92,315.71 144.83,315.63 144.73,315.55 144.64,315.47 144.55,315.40 144.46,315.32 144.37,315.25 144.28,315.17 144.20,315.10 144.11,315.03 144.03,314.96 143.95,314.89 143.87,314.82 143.79,314.76 143.71,314.69 143.63,314.62 143.56,314.56 143.48,314.50 143.41,314.44 143.34,314.38 143.27,314.32 143.20,314.26 143.13,314.20 143.06,314.14 143.00,314.09 142.94,314.03 142.87,313.98 142.81,313.93 142.75,313.88 142.70,313.83 142.64,313.78 142.58,313.73 142.53,313.68 142.48,313.64 142.42,313.59 142.37,313.55 142.33,313.51 142.28,313.47 142.23,313.43 142.19,313.39 142.14,313.35 142.10,313.31 142.06,313.28 142.02,313.24 141.98,313.21 141.95,313.18 141.91,313.15 141.88,313.12 141.84,313.09 141.81,313.06 141.78,313.04 141.75,313.01 141.73,312.99 141.70,312.96 141.68,312.94 141.65,312.92 141.63,312.90 141.61,312.88 141.59,312.87 141.57,312.85 141.56,312.84 141.54,312.82 141.53,312.81 141.51,312.80 141.50,312.79 141.49,312.78 141.48,312.77 141.48,312.77 141.47,312.76 141.47,312.76 141.46,312.75 141.46,312.75 141.46,312.75" fill="none" stroke="#e8302a" stroke-width="2.0" stroke-linejoin="round" stroke-linecap="round"/>
<polyline points="201.60,346.30 201.19,346.16 200.79,346.02 200.38,345.88 199.98,345.74 199.58,345.60 199.18,345.46 198.78,345.32 198.39,345.18 197.99,345.04 197.60,344.90 197.20,344.75 196.81,344.61 196.42,344.46 196.03,344.32 195.65,344.17 195.26,344.03 194.88,343.88 194.49,343.74 194.11,343.59 193.73,343.44 193.35,343.30 192.97,343.15 192.60,343.00 192.22,342.85 191.85,342.70 191.47,342.55 191.10,342.40 190.73,342.25 190.37,342.10 190.00,341.95 189.63,341.80 189.27,341.65 188.90,341.49 188.54,341.34 188.18,341.19 187.82,341.04 187.47,340.88 187.11,340.73 186.76,340.58 186.40,340.42 186.05,340.27 185.70,340.11 185.35,339.96 185.00,339.80 184.65,339.64 184.31,339.49 183.97,339.33 183.62,339.18 183.28,339.02 182.94,338.86 182.60,338.70 182.27,338.55 181.93,338.39 181.60,338.23 181.26,338.07 180.93,337.91 180.60,337.76 180.27,337.60 179.94,337.44 179.62,337.28 179.29,337.12 178.97,336.96 178.65,336.80 178.33,336.64 178.01,336.48 177.69,336.32 177.37,336.16 177.06,336.00 176.74,335.84 176.43,335.68 176.12,335.52 175.81,335.36 175.50,335.19 175.19,335.03 174.88,334.87 174.58,334.71 174.28,334.55 173.98,334.39 173.67,334.23 173.38,334.06 173.08,333.90 172.78,333.74 172.49,333.58 172.19,333.42 171.90,333.26 171.61,333.10 171.32,332.93 171.03,332.77 170.74,332.61 170.46,332.45 170.17,332.29 169.89,332.13 169.61,331.96 169.33,331.80 169.05,331.64 168.77,331.48 168.50,331.32 168.22,331.16 167.95,331.00 167.68,330.83 167.41,330.67 167.14,330.51 166.87,330.35 166.60,330.19 166.34,330.03 166.07,329.87 165.81,329.71 165.55,329.55 165.29,329.39 165.03,329.23 164.77,329.07 164.52,328.91 164.26,328.75 164.01,328.59 163.76,328.43 163.51,328.28 163.26,328.12 163.01,327.96 162.76,327.80 162.52,327.64 162.28,327.49 162.03,327.33 161.79,327.17 161.55,327.02 161.32,326.86 161.08,326.70 160.84,326.55 160.61,326.39 160.38,326.24 160.14,326.08 159.91,325.93 159.69,325.77 159.46,325.62 159.23,325.47 159.01,325.31 158.79,325.16 158.56,325.01 158.34,324.86 158.12,324.70 157.91,324.55 157.69,324.40 157.47,324.25 157.26,324.10 157.05,323.95 156.84,323.80 156.63,323.65 156.42,323.51 156.21,323.36 156.01,323.21 155.80,323.06 155.60,322.92 155.40,322.77 155.20,322.63 155.00,322.48 154.80,322.34 154.61,322.19 154.41,322.05 154.22,321.91 154.03,321.76 153.84,321.62 153.65,321.48 153.46,321.34 153.27,321.20 153.09,321.06 152.90,320.92 152.72,320.79 152.54,320.65 152.36,320.51 152.18,320.37 152.00,320.24 151.83,320.10 151.65,319.97 151.48,319.84 151.31,319.70 151.14,319.57 150.97,319.44 150.80,319.31 150.64,319.18 150.47,319.05 150.31,318.92 150.14,318.79 149.98,318.66 149.82,318.54 149.67,318.41 149.51,318.28 149.35,318.16 149.20,318.04 149.05,317.91 148.90,317.79 148.75,317.67 148.60,317.55 148.45,317.43 148.30,317.31 148.16,317.19 148.02,317.07 147.88,316.96 147.73,316.84 147.60,316.73 147.46,316.61 147.32,316.50 147.19,316.39 147.05,316.28 146.92,316.17 146.79,316.06 146.66,315.95 146.53,315.84 146.41,315.73 146.28,315.63 146.16,315.52 146.03,315.42 145.91,315.31 145.79,315.21 145.67,315.11 145.55,315.01 145.44,314.91 145.32,314.81 145.21,314.71 145.10,314.62 144.99,314.52 144.88,314.43 144.77,314.33 144.66,314.24 144.56,314.15 144.46,314.06 144.35,313.97 144.25,313.88 144.15,313.79 144.05,313.71 143.96,313.62 143.86,313.54 143.77,313.45 143.67,313.37 143.58,313.29 143.49,313.21 143.40,313.13 143.32,313.05 143.23,312.98 143.14,312.90 143.06,312.83 142.98,312.75 142.90,312.68 142.82,312.61 142.74,312.54 142.66,312.47 142.59,312.40 142.52,312.34 142.44,312.27 142.37,312.21 142.30,312.14 142.23,312.08 142.17,312.02 142.10,311.96 142.04,311.90 141.97,311.84 141.91,311.79 141.85,311.73 141.79,311.68 141.73,311.62 141.68,311.57 141.62,311.52 141.57,311.47 141.52,311.42 141.47,311.38 141.42,311.33 141.37,311.29 141.32,311.24 141.28,311.20 141.23,311.16 141.19,311.12 141.15,311.08 141.11,311.05 141.07,311.01 141.03,310.98 141.00,310.94 140.96,310.91 140.93,310.88 140.90,310.85 140.87,310.82 140.84,310.80 140.81,310.77 140.78,310.74 140.76,310.72 140.73,310.70 140.71,310.68 140.69,310.66 140.67,310.64 140.65,310.62 140.63,310.61 140.62,310.59 140.60,310.58 140.59,310.57 140.58,310.56 140.57,310.55 140.56,310.54 140.55,310.53 140.55,310.53 140.54,310.52 140.54,310.52 140.54,310.52 140.54,310.52" fill="none" stroke="#e8302a" stroke-width="2.0" stroke-linejoin="round" stroke-linecap="round"/>
<polyline points="201.60,346.30 201.19,346.16 200.78,346.01 200.37,345.87 199.96,345.72 199.55,345.57 199.15,345.43 198.74,345.28 198.34,345.13 197.94,344.98 197.54,344.83 197.14,344.69 196.75,344.54 196.35,344.38 195.96,344.23 195.56,344.08 195.17,343.93 194.78,343.78 194.39,343.62 194.01,343.47 193.62,343.32 193.24,343.16 192.85,343.01 192.47,342.85 192.09,342.70 191.71,342.54 191.33,342.38 190.96,342.23 190.58,342.07 190.21,341.91 189.84,341.75 189.47,341.59 189.10,341.43 188.73,341.27 188.36,341.11 188.00,340.95 187.63,340.79 187.27,340.63 186.91,340.47 186.55,340.31 186.19,340.14 185.84,339.98 185.48,339.82 185.13,339.66 184.77,339.49 184.42,339.33 184.07,339.16 183.72,339.00 183.37,338.83 183.03,338.67 182.68,338.50 182.34,338.34 182.00,338.17 181.66,338.00 181.32,337.84 180.98,337.67 180.65,337.50 180.31,337.34 179.98,337.17 179.64,337.00 179.31,336.83 178.98,336.66 178.66,336.50 178.33,336.33 178.00,336.16 177.68,335.99 177.36,335.82 177.04,335.65 176.72,335.48 176.40,335.31 176.08,335.14 175.76,334.97 175.45,334.80 175.14,334.63 174.83,334.46 174.52,334.29 174.21,334.12 173.90,333.95 173.59,333.78 173.29,333.61 172.99,333.43 172.68,333.26 172.38,333.09 172.08,332.92 171.79,332.75 171.49,332.58 171.19,332.41 170.90,332.24 170.61,332.06 170.32,331.89 170.03,331.72 169.74,331.55 169.45,331.38 169.17,331.21 168.88,331.04 168.60,330.86 168.32,330.69 168.04,330.52 167.76,330.35 167.48,330.18 167.21,330.01 166.93,329.84 166.66,329.67 166.39,329.50 166.12,329.33 165.85,329.15 165.58,328.98 165.31,328.81 165.05,328.64 164.79,328.47 164.52,328.30 164.26,328.13 164.00,327.96 163.75,327.80 163.49,327.63 163.23,327.46 162.98,327.29 162.73,327.12 162.48,326.95 162.23,326.78 161.98,326.62 161.73,326.45 161.49,326.28 161.24,326.11 161.00,325.95 160.76,325.78 160.52,325.61 160.28,325.45 160.04,325.28 159.81,325.12 159.57,324.95 159.34,324.79 159.11,324.62 158.88,324.46 158.65,324.30 158.42,324.13 158.19,323.97 157.97,323.81 157.75,323.64 157.52,323.48 157.30,323.32 157.08,323.16 156.86,323.00 156.65,322.84 156.43,322.68 156.22,322.52 156.01,322.36 155.80,322.20 155.59,322.05 155.38,321.89 155.17,321.73 154.96,321.58 154.76,321.42 154.56,321.26 154.36,321.11 154.16,320.96 153.96,320.80 153.76,320.65 153.56,320.50 153.37,320.34 153.17,320.19 152.98,320.04 152.79,319.89 152.60,319.74 152.42,319.59 152.23,319.44 152.04,319.30 151.86,319.15 151.68,319.00 151.50,318.86 151.32,318.71 151.14,318.57 150.96,318.42 150.79,318.28 150.61,318.14 150.44,318.00 150.27,317.86 150.10,317.71 149.93,317.58 149.76,317.44 149.60,317.30 149.43,317.16 149.27,317.02 149.11,316.89 148.95,316.75 148.79,316.62 148.63,316.49 148.48,316.35 148.32,316.22 148.17,316.09 148.02,315.96 147.87,315.83 147.72,315.70 147.57,315.58 147.42,315.45 147.28,315.32 147.13,315.20 146.99,315.07 146.85,314.95 146.71,314.83 146.57,314.71 146.43,314.59 146.30,314.47 146.17,314.35 146.03,314.23 145.90,314.11 145.77,314.00 145.64,313.88 145.52,313.77 145.39,313.66 145.26,313.55 145.14,313.43 145.02,313.32 144.90,313.22 144.78,313.11 144.66,313.00 144.55,312.90 144.43,312.79 144.32,312.69 144.21,312.58 144.10,312.48 143.99,312.38 143.88,312.28 143.77,312.18 143.67,312.09 143.56,311.99 143.46,311.90 143.36,311.80 143.26,311.71 143.16,311.62 143.06,311.53 142.97,311.44 142.87,311.35 142.78,311.26 142.69,311.18 142.60,311.09 142.51,311.01 142.42,310.93 142.34,310.84 142.25,310.76 142.17,310.68 142.09,310.61 142.01,310.53 141.93,310.45 141.85,310.38 141.77,310.31 141.70,310.24 141.63,310.17 141.55,310.10 141.48,310.03 141.41,309.96 141.34,309.90 141.28,309.83 141.21,309.77 141.15,309.71 141.09,309.65 141.02,309.59 140.96,309.53 140.91,309.47 140.85,309.42 140.79,309.36 140.74,309.31 140.69,309.26 140.63,309.21 140.58,309.16 140.54,309.11 140.49,309.06 140.44,309.02 140.40,308.97 140.35,308.93 140.31,308.89 140.27,308.85 140.23,308.81 140.19,308.78 140.16,308.74 140.12,308.70 140.09,308.67 140.06,308.64 140.03,308.61 140.00,308.58 139.97,308.55 139.94,308.53 139.92,308.50 139.89,308.48 139.87,308.45 139.85,308.43 139.83,308.41 139.81,308.39 139.79,308.38 139.78,308.36 139.76,308.35 139.75,308.33 139.74,308.32 139.73,308.31 139.72,308.30 139.71,308.30 139.70,308.29 139.70,308.29 139.70,308.28 139.69,308.28 139.69,308.28" fill="none" stroke="#e8302a" stroke-width="2.0" stroke-linejoin="round" stroke-linecap="round"/>
<polyline points="201.60,346.30 201.18,346.15 200.77,346.00 200.35,345.85 199.94,345.70 199.53,345.55 199.12,345.39 198.71,345.24 198.30,345.09 197.90,344.93 197.49,344.78 197.09,344.62 196.69,344.46 196.29,344.31 195.89,344.15 195.49,343.99 195.09,343.83 194.70,343.67 194.30,343.51 193.91,343.35 193.52,343.19 193.13,343.03 192.74,342.87 192.36,342.71 191.97,342.54 191.59,342.38 191.21,342.22 190.82,342.05 190.45,341.89 190.07,341.72 189.69,341.56 189.32,341.39 188.94,341.22 188.57,341.06 188.20,340.89 187.83,340.72 187.46,340.55 187.09,340.38 186.73,340.21 186.36,340.04 186.00,339.87 185.64,339.70 185.28,339.53 184.92,339.36 184.56,339.19 184.21,339.02 183.85,338.84 183.50,338.67 183.15,338.50 182.80,338.32 182.45,338.15 182.10,337.98 181.75,337.80 181.41,337.63 181.07,337.45 180.72,337.28 180.38,337.10 180.04,336.92 179.71,336.75 179.37,336.57 179.03,336.39 178.70,336.22 178.37,336.04 178.04,335.86 177.71,335.68 177.38,335.51 177.05,335.33 176.73,335.15 176.40,334.97 176.08,334.79 175.76,334.61 175.44,334.43 175.12,334.25 174.81,334.07 174.49,333.89 174.18,333.71 173.86,333.53 173.55,333.35 173.24,333.17 172.93,332.99 172.63,332.81 172.32,332.63 172.02,332.45 171.71,332.27 171.41,332.09 171.11,331.91 170.81,331.73 170.52,331.55 170.22,331.37 169.93,331.18 169.63,331.00 169.34,330.82 169.05,330.64 168.76,330.46 168.47,330.28 168.19,330.10 167.90,329.92 167.62,329.73 167.34,329.55 167.06,329.37 166.78,329.19 166.50,329.01 166.22,328.83 165.95,328.65 165.67,328.47 165.40,328.29 165.13,328.11 164.86,327.93 164.59,327.75 164.33,327.57 164.06,327.39 163.80,327.21 163.53,327.03 163.27,326.85 163.01,326.67 162.75,326.49 162.50,326.31 162.24,326.13 161.99,325.95 161.73,325.77 161.48,325.60 161.23,325.42 160.98,325.24 160.74,325.06 160.49,324.89 160.25,324.71 160.00,324.53 159.76,324.36 159.52,324.18 159.28,324.01 159.05,323.83 158.81,323.65 158.58,323.48 158.34,323.31 158.11,323.13 157.88,322.96 157.65,322.79 157.42,322.61 157.20,322.44 156.97,322.27 156.75,322.10 156.53,321.93 156.30,321.76 156.09,321.59 155.87,321.42 155.65,321.25 155.44,321.08 155.22,320.91 155.01,320.74 154.80,320.57 154.59,320.41 154.38,320.24 154.17,320.07 153.97,319.91 153.76,319.74 153.56,319.58 153.36,319.42 153.16,319.25 152.96,319.09 152.76,318.93 152.57,318.77 152.37,318.61 152.18,318.45 151.99,318.29 151.80,318.13 151.61,317.97 151.42,317.81 151.24,317.66 151.05,317.50 150.87,317.35 150.69,317.19 150.51,317.04 150.33,316.88 150.15,316.73 149.98,316.58 149.80,316.43 149.63,316.28 149.45,316.13 149.28,315.98 149.12,315.83 148.95,315.68 148.78,315.54 148.62,315.39 148.45,315.25 148.29,315.10 148.13,314.96 147.97,314.82 147.81,314.68 147.65,314.54 147.50,314.40 147.35,314.26 147.19,314.12 147.04,313.98 146.89,313.85 146.74,313.71 146.60,313.58 146.45,313.44 146.31,313.31 146.16,313.18 146.02,313.05 145.88,312.92 145.74,312.79 145.61,312.66 145.47,312.54 145.34,312.41 145.20,312.29 145.07,312.16 144.94,312.04 144.81,311.92 144.69,311.80 144.56,311.68 144.43,311.56 144.31,311.44 144.19,311.33 144.07,311.21 143.95,311.10 143.83,310.98 143.72,310.87 143.60,310.76 143.49,310.65 143.38,310.54 143.26,310.43 143.16,310.33 143.05,310.22 142.94,310.12 142.84,310.02 142.73,309.91 142.63,309.81 142.53,309.71 142.43,309.62 142.33,309.52 142.23,309.42 142.14,309.33 142.04,309.24 141.95,309.14 141.86,309.05 141.77,308.96 141.68,308.88 141.60,308.79 141.51,308.70 141.43,308.62 141.34,308.53 141.26,308.45 141.18,308.37 141.10,308.29 141.02,308.21 140.95,308.14 140.87,308.06 140.80,307.99 140.73,307.92 140.66,307.84 140.59,307.77 140.52,307.70 140.46,307.64 140.39,307.57 140.33,307.51 140.27,307.44 140.21,307.38 140.15,307.32 140.09,307.26 140.03,307.20 139.98,307.15 139.92,307.09 139.87,307.04 139.82,306.98 139.77,306.93 139.72,306.88 139.68,306.83 139.63,306.79 139.59,306.74 139.54,306.70 139.50,306.66 139.46,306.61 139.43,306.57 139.39,306.54 139.35,306.50 139.32,306.46 139.29,306.43 139.26,306.40 139.23,306.36 139.20,306.33 139.17,306.31 139.14,306.28 139.12,306.25 139.10,306.23 139.07,306.21 139.05,306.19 139.04,306.17 139.02,306.15 139.00,306.13 138.99,306.12 138.97,306.10 138.96,306.09 138.95,306.08 138.94,306.07 138.94,306.06 138.93,306.05 138.92,306.05 138.92,306.05 138.92,306.04 138.92,306.04" fill="none" stroke="#e8302a" stroke-width="2.0" stroke-linejoin="round" stroke-linecap="round"/>
<polyline points="201.60,346.30 201.16,346.14 200.73,345.98 200.30,345.82 199.87,345.66 199.44,345.49 199.01,345.33 198.58,345.16 198.16,345.00 197.74,344.83 197.31,344.67 196.89,344.50 196.47,344.33 196.06,344.16 195.64,343.99 195.23,343.82 194.81,343.65 194.40,343.48 193.99,343.31 193.58,343.14 193.17,342.96 192.77,342.79 192.36,342.61 191.96,342.44 191.56,342.26 191.16,342.09 190.76,341.91 190.36,341.73 189.97,341.55 189.57,341.37 189.18,341.19 188.79,341.01 188.40,340.83 188.01,340.65 187.62,340.47 187.24,340.29 186.85,340.10 186.47,339.92 186.09,339.74 185.71,339.55 185.33,339.37 184.95,339.18 184.58,338.99 184.20,338.81 183.83,338.62 183.46,338.43 183.09,338.24 182.72,338.06 182.35,337.87 181.99,337.68 181.62,337.49 181.26,337.30 180.90,337.11 180.54,336.92 180.18,336.72 179.83,336.53 179.47,336.34 179.12,336.15 178.76,335.95 178.41,335.76 178.06,335.57 177.72,335.37 177.37,335.18 177.03,334.98 176.68,334.79 176.34,334.59 176.00,334.40 175.66,334.20 175.32,334.01 174.99,333.81 174.65,333.61 174.32,333.42 173.99,333.22 173.65,333.02 173.33,332.82 173.00,332.62 172.67,332.43 172.35,332.23 172.02,332.03 171.70,331.83 171.38,331.63 171.06,331.43 170.75,331.23 170.43,331.03 170.11,330.83 169.80,330.63 169.49,330.43 169.18,330.23 168.87,330.03 168.56,329.83 168.26,329.63 167.95,329.43 167.65,329.23 167.35,329.03 167.05,328.83 166.75,328.63 166.45,328.43 166.16,328.23 165.86,328.03 165.57,327.83 165.28,327.63 164.99,327.43 164.70,327.23 164.41,327.03 164.13,326.83 163.85,326.63 163.56,326.43 163.28,326.23 163.00,326.03 162.72,325.82 162.45,325.62 162.17,325.43 161.90,325.23 161.63,325.03 161.35,324.83 161.08,324.63 160.82,324.43 160.55,324.23 160.29,324.03 160.02,323.83 159.76,323.63 159.50,323.43 159.24,323.24 158.98,323.04 158.72,322.84 158.47,322.64 158.22,322.45 157.96,322.25 157.71,322.05 157.46,321.86 157.22,321.66 156.97,321.47 156.73,321.27 156.48,321.08 156.24,320.88 156.00,320.69 155.76,320.50 155.52,320.30 155.29,320.11 155.05,319.92 154.82,319.73 154.59,319.53 154.36,319.34 154.13,319.15 153.90,318.96 153.68,318.77 153.45,318.58 153.23,318.39 153.01,318.21 152.79,318.02 152.57,317.83 152.35,317.64 152.13,317.46 151.92,317.27 151.71,317.09 151.50,316.90 151.29,316.72 151.08,316.54 150.87,316.35 150.67,316.17 150.46,315.99 150.26,315.81 150.06,315.63 149.86,315.45 149.66,315.27 149.46,315.09 149.27,314.92 149.07,314.74 148.88,314.57 148.69,314.39 148.50,314.22 148.31,314.04 148.13,313.87 147.94,313.70 147.76,313.53 147.57,313.36 147.39,313.19 147.21,313.02 147.04,312.85 146.86,312.68 146.68,312.52 146.51,312.35 146.34,312.19 146.17,312.02 146.00,311.86 145.83,311.70 145.66,311.54 145.50,311.38 145.34,311.22 145.17,311.06 145.01,310.90 144.85,310.75 144.70,310.59 144.54,310.44 144.39,310.29 144.23,310.13 144.08,309.98 143.93,309.83 143.78,309.68 143.63,309.54 143.49,309.39 143.34,309.24 143.20,309.10 143.06,308.96 142.92,308.81 142.78,308.67 142.64,308.53 142.51,308.39 142.37,308.26 142.24,308.12 142.11,307.98 141.98,307.85 141.85,307.72 141.72,307.58 141.60,307.45 141.47,307.32 141.35,307.20 141.23,307.07 141.11,306.94 140.99,306.82 140.87,306.69 140.76,306.57 140.64,306.45 140.53,306.33 140.42,306.21 140.31,306.10 140.20,305.98 140.09,305.87 139.99,305.75 139.89,305.64 139.78,305.53 139.68,305.42 139.58,305.32 139.48,305.21 139.39,305.11 139.29,305.00 139.20,304.90 139.11,304.80 139.02,304.70 138.93,304.60 138.84,304.51 138.75,304.41 138.67,304.32 138.58,304.23 138.50,304.14 138.42,304.05 138.34,303.96 138.26,303.87 138.19,303.79 138.11,303.71 138.04,303.62 137.97,303.54 137.90,303.47 137.83,303.39 137.76,303.31 137.69,303.24 137.63,303.17 137.57,303.10 137.51,303.03 137.44,302.96 137.39,302.89 137.33,302.83 137.27,302.77 137.22,302.70 137.17,302.64 137.11,302.59 137.06,302.53 137.01,302.47 136.97,302.42 136.92,302.37 136.88,302.32 136.83,302.27 136.79,302.22 136.75,302.18 136.71,302.13 136.68,302.09 136.64,302.05 136.61,302.01 136.58,301.97 136.54,301.94 136.51,301.90 136.49,301.87 136.46,301.84 136.43,301.81 136.41,301.78 136.39,301.76 136.37,301.73 136.35,301.71 136.33,301.69 136.31,301.67 136.30,301.65 136.28,301.64 136.27,301.62 136.26,301.61 136.25,301.60 136.24,301.59 136.24,301.58 136.23,301.58 136.23,301.57 136.22,301.57 136.22,301.57" fill="none" stroke="#e8302a" stroke-width="2.0" stroke-linejoin="round" stroke-linecap="round"/>
<polyline points="201.60,346.30 201.14,346.13 200.68,345.95 200.22,345.77 199.76,345.60 199.30,345.42 198.85,345.24 198.39,345.06 197.94,344.88 197.49,344.70 197.04,344.52 196.60,344.33 196.15,344.15 195.71,343.96 195.26,343.78 194.82,343.59 194.38,343.40 193.95,343.21 193.51,343.02 193.07,342.83 192.64,342.64 192.21,342.45 191.78,342.26 191.35,342.06 190.92,341.87 190.50,341.67 190.07,341.48 189.65,341.28 189.23,341.08 188.81,340.89 188.39,340.69 187.98,340.49 187.56,340.29 187.15,340.08 186.74,339.88 186.33,339.68 185.92,339.48 185.51,339.27 185.11,339.07 184.70,338.86 184.30,338.65 183.90,338.45 183.50,338.24 183.10,338.03 182.71,337.82 182.31,337.61 181.92,337.40 181.53,337.19 181.14,336.98 180.75,336.77 180.36,336.55 179.97,336.34 179.59,336.13 179.21,335.91 178.83,335.70 178.45,335.48 178.07,335.27 177.69,335.05 177.32,334.83 176.95,334.62 176.58,334.40 176.21,334.18 175.84,333.96 175.47,333.74 175.11,333.52 174.74,333.30 174.38,333.08 174.02,332.86 173.66,332.64 173.30,332.41 172.95,332.19 172.59,331.97 172.24,331.75 171.89,331.52 171.54,331.30 171.19,331.07 170.84,330.85 170.50,330.62 170.15,330.40 169.81,330.17 169.47,329.95 169.13,329.72 168.79,329.50 168.46,329.27 168.12,329.04 167.79,328.81 167.46,328.59 167.13,328.36 166.80,328.13 166.47,327.90 166.15,327.67 165.83,327.45 165.50,327.22 165.18,326.99 164.86,326.76 164.55,326.53 164.23,326.30 163.92,326.07 163.60,325.84 163.29,325.61 162.98,325.38 162.67,325.15 162.37,324.92 162.06,324.69 161.76,324.46 161.46,324.23 161.16,324.00 160.86,323.77 160.56,323.55 160.26,323.32 159.97,323.09 159.68,322.86 159.39,322.63 159.10,322.40 158.81,322.17 158.52,321.94 158.24,321.71 157.95,321.48 157.67,321.25 157.39,321.02 157.11,320.79 156.84,320.56 156.56,320.34 156.29,320.11 156.01,319.88 155.74,319.65 155.47,319.42 155.20,319.20 154.94,318.97 154.67,318.74 154.41,318.52 154.15,318.29 153.89,318.07 153.63,317.84 153.37,317.61 153.12,317.39 152.86,317.17 152.61,316.94 152.36,316.72 152.11,316.49 151.86,316.27 151.61,316.05 151.37,315.83 151.13,315.61 150.88,315.38 150.64,315.16 150.41,314.94 150.17,314.72 149.93,314.50 149.70,314.29 149.47,314.07 149.24,313.85 149.01,313.63 148.78,313.42 148.55,313.20 148.33,312.99 148.10,312.77 147.88,312.56 147.66,312.35 147.44,312.13 147.23,311.92 147.01,311.71 146.80,311.50 146.58,311.29 146.37,311.08 146.16,310.87 145.96,310.67 145.75,310.46 145.55,310.25 145.34,310.05 145.14,309.84 144.94,309.64 144.74,309.44 144.55,309.24 144.35,309.03 144.16,308.84 143.96,308.64 143.77,308.44 143.58,308.24 143.40,308.04 143.21,307.85 143.03,307.65 142.84,307.46 142.66,307.27 142.48,307.08 142.30,306.89 142.13,306.70 141.95,306.51 141.78,306.32 141.60,306.14 141.43,305.95 141.26,305.77 141.10,305.58 140.93,305.40 140.77,305.22 140.60,305.04 140.44,304.86 140.28,304.69 140.12,304.51 139.97,304.34 139.81,304.16 139.66,303.99 139.51,303.82 139.36,303.65 139.21,303.48 139.06,303.32 138.91,303.15 138.77,302.98 138.63,302.82 138.48,302.66 138.34,302.50 138.21,302.34 138.07,302.18 137.93,302.03 137.80,301.87 137.67,301.72 137.54,301.56 137.41,301.41 137.28,301.26 137.16,301.12 137.03,300.97 136.91,300.83 136.79,300.68 136.67,300.54 136.55,300.40 136.43,300.26 136.32,300.12 136.20,299.99 136.09,299.85 135.98,299.72 135.87,299.59 135.77,299.46 135.66,299.33 135.56,299.21 135.45,299.08 135.35,298.96 135.25,298.84 135.15,298.72 135.06,298.60 134.96,298.48 134.87,298.37 134.78,298.26 134.69,298.14 134.60,298.03 134.51,297.93 134.42,297.82 134.34,297.72 134.26,297.61 134.18,297.51 134.10,297.41 134.02,297.32 133.94,297.22 133.87,297.13 133.79,297.04 133.72,296.95 133.65,296.86 133.58,296.77 133.52,296.69 133.45,296.60 133.39,296.52 133.32,296.44 133.26,296.37 133.20,296.29 133.15,296.22 133.09,296.15 133.03,296.08 132.98,296.01 132.93,295.94 132.88,295.88 132.83,295.82 132.78,295.76 132.74,295.70 132.69,295.64 132.65,295.59 132.61,295.53 132.57,295.48 132.53,295.43 132.50,295.39 132.46,295.34 132.43,295.30 132.40,295.26 132.37,295.22 132.34,295.18 132.31,295.15 132.29,295.12 132.26,295.09 132.24,295.06 132.22,295.03 132.20,295.00 132.18,294.98 132.17,294.96 132.15,294.94 132.14,294.92 132.13,294.91 132.12,294.90 132.11,294.89 132.10,294.88 132.10,294.87 132.09,294.86 132.09,294.86 132.09,294.86" fill="none" stroke="#e8302a" stroke-width="2.0" stroke-linejoin="round" stroke-linecap="round"/>
<polyline points="201.60,346.30 201.10,346.11 200.61,345.92 200.12,345.72 199.62,345.53 199.13,345.33 198.65,345.14 198.16,344.94 197.67,344.74 197.19,344.54 196.71,344.33 196.23,344.13 195.75,343.93 195.28,343.72 194.80,343.52 194.33,343.31 193.86,343.10 193.39,342.89 192.92,342.68 192.45,342.47 191.99,342.25 191.52,342.04 191.06,341.82 190.60,341.61 190.14,341.39 189.69,341.17 189.23,340.95 188.78,340.73 188.33,340.51 187.88,340.29 187.43,340.07 186.98,339.84 186.54,339.62 186.09,339.39 185.65,339.16 185.21,338.93 184.77,338.70 184.34,338.47 183.90,338.24 183.47,338.01 183.04,337.78 182.60,337.54 182.18,337.31 181.75,337.07 181.32,336.84 180.90,336.60 180.48,336.36 180.06,336.12 179.64,335.88 179.22,335.64 178.81,335.40 178.39,335.16 177.98,334.92 177.57,334.67 177.16,334.43 176.76,334.18 176.35,333.94 175.95,333.69 175.55,333.44 175.15,333.19 174.75,332.94 174.35,332.69 173.95,332.44 173.56,332.19 173.17,331.94 172.78,331.69 172.39,331.44 172.00,331.18 171.62,330.93 171.23,330.67 170.85,330.42 170.47,330.16 170.09,329.90 169.72,329.65 169.34,329.39 168.97,329.13 168.59,328.87 168.22,328.61 167.85,328.35 167.49,328.09 167.12,327.83 166.76,327.57 166.40,327.31 166.04,327.05 165.68,326.79 165.32,326.52 164.96,326.26 164.61,326.00 164.26,325.73 163.91,325.47 163.56,325.20 163.21,324.94 162.87,324.67 162.52,324.41 162.18,324.14 161.84,323.87 161.50,323.61 161.16,323.34 160.83,323.07 160.49,322.81 160.16,322.54 159.83,322.27 159.50,322.00 159.17,321.74 158.85,321.47 158.52,321.20 158.20,320.93 157.88,320.66 157.56,320.39 157.24,320.12 156.93,319.86 156.61,319.59 156.30,319.32 155.99,319.05 155.68,318.78 155.37,318.51 155.07,318.24 154.76,317.97 154.46,317.70 154.16,317.43 153.86,317.17 153.56,316.90 153.27,316.63 152.97,316.36 152.68,316.09 152.39,315.82 152.10,315.55 151.81,315.29 151.53,315.02 151.24,314.75 150.96,314.48 150.68,314.22 150.40,313.95 150.12,313.68 149.85,313.42 149.57,313.15 149.30,312.88 149.03,312.62 148.76,312.35 148.49,312.09 148.23,311.83 147.96,311.56 147.70,311.30 147.44,311.03 147.18,310.77 146.92,310.51 146.66,310.25 146.41,309.99 146.16,309.73 145.91,309.47 145.66,309.21 145.41,308.95 145.16,308.69 144.92,308.43 144.68,308.17 144.43,307.92 144.19,307.66 143.96,307.41 143.72,307.15 143.49,306.90 143.25,306.64 143.02,306.39 142.79,306.14 142.56,305.89 142.34,305.64 142.11,305.39 141.89,305.14 141.67,304.89 141.45,304.65 141.23,304.40 141.02,304.16 140.80,303.91 140.59,303.67 140.38,303.43 140.17,303.18 139.96,302.94 139.75,302.70 139.55,302.47 139.34,302.23 139.14,301.99 138.94,301.76 138.75,301.52 138.55,301.29 138.35,301.06 138.16,300.83 137.97,300.60 137.78,300.37 137.59,300.14 137.41,299.91 137.22,299.69 137.04,299.47 136.86,299.24 136.68,299.02 136.50,298.80 136.32,298.58 136.15,298.37 135.97,298.15 135.80,297.94 135.63,297.72 135.46,297.51 135.30,297.30 135.13,297.09 134.97,296.88 134.81,296.68 134.65,296.47 134.49,296.27 134.33,296.07 134.18,295.87 134.02,295.67 133.87,295.47 133.72,295.28 133.57,295.08 133.43,294.89 133.28,294.70 133.14,294.51 133.00,294.33 132.86,294.14 132.72,293.96 132.58,293.77 132.45,293.59 132.31,293.42 132.18,293.24 132.05,293.06 131.92,292.89 131.80,292.72 131.67,292.55 131.55,292.38 131.43,292.22 131.31,292.05 131.19,291.89 131.07,291.73 130.95,291.57 130.84,291.41 130.73,291.26 130.62,291.11 130.51,290.96 130.40,290.81 130.30,290.66 130.19,290.52 130.09,290.37 129.99,290.23 129.89,290.09 129.80,289.96 129.70,289.82 129.61,289.69 129.52,289.56 129.43,289.43 129.34,289.31 129.25,289.18 129.16,289.06 129.08,288.94 129.00,288.82 128.92,288.71 128.84,288.59 128.76,288.48 128.69,288.38 128.61,288.27 128.54,288.16 128.47,288.06 128.40,287.96 128.33,287.87 128.27,287.77 128.21,287.68 128.14,287.59 128.08,287.50 128.02,287.41 127.97,287.33 127.91,287.25 127.86,287.17 127.81,287.09 127.75,287.02 127.71,286.95 127.66,286.88 127.61,286.81 127.57,286.75 127.53,286.68 127.49,286.62 127.45,286.57 127.41,286.51 127.37,286.46 127.34,286.41 127.31,286.36 127.28,286.31 127.25,286.27 127.22,286.23 127.20,286.19 127.17,286.16 127.15,286.12 127.13,286.09 127.11,286.06 127.09,286.04 127.08,286.01 127.06,285.99 127.05,285.98 127.04,285.96 127.03,285.95 127.02,285.93 127.02,285.93 127.01,285.92 127.01,285.92 127.01,285.91" fill="none" stroke="#e8302a" stroke-width="2.0" stroke-linejoin="round" stroke-linecap="round"/>
<polyline points="201.60,346.30 201.05,346.08 200.50,345.87 199.95,345.65 199.41,345.42 198.87,345.20 198.33,344.98 197.79,344.75 197.25,344.52 196.71,344.29 196.18,344.06 195.65,343.83 195.12,343.59 194.59,343.36 194.06,343.12 193.54,342.88 193.02,342.64 192.50,342.40 191.98,342.16 191.46,341.91 190.94,341.66 190.43,341.41 189.92,341.17 189.41,340.91 188.90,340.66 188.40,340.41 187.89,340.15 187.39,339.89 186.89,339.64 186.39,339.38 185.89,339.11 185.40,338.85 184.90,338.59 184.41,338.32 183.92,338.05 183.44,337.79 182.95,337.52 182.47,337.24 181.98,336.97 181.50,336.70 181.02,336.42 180.55,336.15 180.07,335.87 179.60,335.59 179.13,335.31 178.66,335.03 178.19,334.75 177.73,334.46 177.26,334.18 176.80,333.89 176.34,333.60 175.88,333.31 175.43,333.02 174.97,332.73 174.52,332.44 174.07,332.15 173.62,331.85 173.17,331.56 172.72,331.26 172.28,330.96 171.84,330.66 171.40,330.36 170.96,330.06 170.52,329.76 170.09,329.45 169.66,329.15 169.23,328.84 168.80,328.54 168.37,328.23 167.95,327.92 167.52,327.61 167.10,327.30 166.68,326.99 166.26,326.68 165.85,326.37 165.43,326.05 165.02,325.74 164.61,325.42 164.20,325.10 163.79,324.79 163.39,324.47 162.99,324.15 162.58,323.83 162.18,323.51 161.79,323.19 161.39,322.87 161.00,322.54 160.60,322.22 160.21,321.90 159.83,321.57 159.44,321.25 159.05,320.92 158.67,320.59 158.29,320.27 157.91,319.94 157.53,319.61 157.16,319.28 156.78,318.95 156.41,318.62 156.04,318.29 155.67,317.96 155.31,317.62 154.94,317.29 154.58,316.96 154.22,316.63 153.86,316.29 153.50,315.96 153.15,315.62 152.79,315.29 152.44,314.95 152.09,314.62 151.74,314.28 151.40,313.95 151.05,313.61 150.71,313.27 150.37,312.94 150.03,312.60 149.69,312.26 149.36,311.92 149.02,311.59 148.69,311.25 148.36,310.91 148.03,310.57 147.71,310.23 147.38,309.89 147.06,309.56 146.74,309.22 146.42,308.88 146.11,308.54 145.79,308.20 145.48,307.86 145.17,307.53 144.86,307.19 144.55,306.85 144.24,306.51 143.94,306.17 143.64,305.84 143.34,305.50 143.04,305.16 142.74,304.82 142.45,304.49 142.15,304.15 141.86,303.81 141.57,303.48 141.28,303.14 141.00,302.81 140.72,302.47 140.43,302.14 140.15,301.80 139.87,301.47 139.60,301.14 139.32,300.80 139.05,300.47 138.78,300.14 138.51,299.81 138.24,299.48 137.98,299.15 137.71,298.82 137.45,298.49 137.19,298.16 136.93,297.83 136.68,297.51 136.42,297.18 136.17,296.86 135.92,296.53 135.67,296.21 135.42,295.89 135.18,295.57 134.94,295.25 134.69,294.93 134.45,294.61 134.22,294.29 133.98,293.97 133.75,293.66 133.51,293.34 133.28,293.03 133.05,292.71 132.83,292.40 132.60,292.09 132.38,291.78 132.16,291.48 131.94,291.17 131.72,290.86 131.51,290.56 131.29,290.26 131.08,289.95 130.87,289.65 130.66,289.35 130.45,289.06 130.25,288.76 130.05,288.47 129.84,288.17 129.64,287.88 129.45,287.59 129.25,287.30 129.06,287.01 128.87,286.73 128.68,286.45 128.49,286.16 128.30,285.88 128.12,285.60 127.93,285.33 127.75,285.05 127.57,284.78 127.40,284.51 127.22,284.24 127.05,283.97 126.88,283.70 126.71,283.44 126.54,283.17 126.37,282.91 126.21,282.66 126.04,282.40 125.88,282.15 125.72,281.89 125.57,281.64 125.41,281.39 125.26,281.15 125.11,280.91 124.96,280.66 124.81,280.42 124.66,280.19 124.52,279.95 124.38,279.72 124.24,279.49 124.10,279.26 123.96,279.04 123.83,278.81 123.69,278.59 123.56,278.37 123.43,278.16 123.30,277.94 123.18,277.73 123.05,277.52 122.93,277.32 122.81,277.11 122.69,276.91 122.58,276.72 122.46,276.52 122.35,276.33 122.24,276.14 122.13,275.95 122.02,275.77 121.92,275.58 121.81,275.40 121.71,275.23 121.61,275.05 121.51,274.88 121.41,274.71 121.32,274.55 121.23,274.39 121.14,274.23 121.05,274.07 120.96,273.92 120.87,273.77 120.79,273.62 120.71,273.47 120.63,273.33 120.55,273.19 120.48,273.06 120.40,272.93 120.33,272.80 120.26,272.67 120.19,272.55 120.12,272.43 120.06,272.31 119.99,272.19 119.93,272.08 119.87,271.98 119.81,271.87 119.76,271.77 119.70,271.67 119.65,271.58 119.60,271.48 119.55,271.40 119.51,271.31 119.46,271.23 119.42,271.15 119.38,271.07 119.34,271.00 119.30,270.93 119.26,270.87 119.23,270.81 119.20,270.75 119.17,270.69 119.14,270.64 119.11,270.59 119.09,270.54 119.06,270.50 119.04,270.46 119.02,270.43 119.01,270.40 118.99,270.37 118.98,270.34 118.96,270.32 118.95,270.30 118.95,270.29 118.94,270.27 118.93,270.27 118.93,270.26 118.93,270.26" fill="none" stroke="#e8302a" stroke-width="2.0" stroke-linejoin="round" stroke-linecap="round"/>
<polyline points="201.60,346.30 201.00,346.06 200.40,345.82 199.81,345.57 199.21,345.32 198.62,345.07 198.03,344.82 197.45,344.57 196.86,344.31 196.28,344.06 195.70,343.80 195.12,343.53 194.54,343.27 193.97,343.00 193.39,342.74 192.82,342.47 192.25,342.19 191.68,341.92 191.12,341.64 190.56,341.37 190.00,341.09 189.44,340.80 188.88,340.52 188.32,340.23 187.77,339.94 187.22,339.65 186.67,339.36 186.12,339.07 185.58,338.77 185.03,338.47 184.49,338.17 183.95,337.87 183.42,337.57 182.88,337.26 182.35,336.96 181.82,336.65 181.29,336.34 180.76,336.02 180.23,335.71 179.71,335.39 179.19,335.07 178.67,334.75 178.15,334.43 177.64,334.11 177.13,333.78 176.61,333.46 176.11,333.13 175.60,332.80 175.09,332.47 174.59,332.13 174.09,331.80 173.59,331.46 173.09,331.12 172.60,330.78 172.10,330.44 171.61,330.09 171.12,329.75 170.64,329.40 170.15,329.05 169.67,328.70 169.19,328.35 168.71,328.00 168.23,327.64 167.75,327.29 167.28,326.93 166.81,326.57 166.34,326.21 165.87,325.85 165.41,325.48 164.95,325.12 164.48,324.75 164.02,324.39 163.57,324.02 163.11,323.65 162.66,323.27 162.21,322.90 161.76,322.53 161.31,322.15 160.87,321.77 160.42,321.40 159.98,321.02 159.54,320.64 159.11,320.25 158.67,319.87 158.24,319.49 157.81,319.10 157.38,318.71 156.95,318.33 156.52,317.94 156.10,317.55 155.68,317.16 155.26,316.76 154.84,316.37 154.43,315.98 154.02,315.58 153.60,315.18 153.20,314.79 152.79,314.39 152.38,313.99 151.98,313.59 151.58,313.19 151.18,312.79 150.78,312.38 150.39,311.98 149.99,311.58 149.60,311.17 149.21,310.76 148.83,310.36 148.44,309.95 148.06,309.54 147.68,309.13 147.30,308.72 146.92,308.31 146.55,307.90 146.17,307.49 145.80,307.08 145.43,306.67 145.06,306.25 144.70,305.84 144.34,305.42 143.98,305.01 143.62,304.59 143.26,304.18 142.90,303.76 142.55,303.35 142.20,302.93 141.85,302.51 141.50,302.09 141.16,301.68 140.81,301.26 140.47,300.84 140.13,300.42 139.80,300.00 139.46,299.58 139.13,299.17 138.80,298.75 138.47,298.33 138.14,297.91 137.82,297.49 137.49,297.07 137.17,296.65 136.85,296.23 136.54,295.81 136.22,295.39 135.91,294.97 135.60,294.55 135.29,294.14 134.98,293.72 134.68,293.30 134.37,292.88 134.07,292.46 133.77,292.05 133.47,291.63 133.18,291.21 132.89,290.80 132.60,290.38 132.31,289.97 132.02,289.55 131.73,289.14 131.45,288.72 131.17,288.31 130.89,287.90 130.61,287.49 130.34,287.07 130.07,286.66 129.79,286.25 129.53,285.85 129.26,285.44 128.99,285.03 128.73,284.62 128.47,284.22 128.21,283.81 127.95,283.41 127.70,283.01 127.44,282.61 127.19,282.21 126.94,281.81 126.70,281.41 126.45,281.01 126.21,280.62 125.97,280.22 125.73,279.83 125.49,279.44 125.26,279.05 125.02,278.66 124.79,278.27 124.56,277.88 124.34,277.50 124.11,277.12 123.89,276.74 123.67,276.36 123.45,275.98 123.23,275.60 123.02,275.23 122.80,274.85 122.59,274.48 122.38,274.11 122.17,273.74 121.97,273.38 121.77,273.02 121.57,272.65 121.37,272.29 121.17,271.94 120.97,271.58 120.78,271.23 120.59,270.88 120.40,270.53 120.21,270.18 120.03,269.84 119.85,269.49 119.66,269.15 119.49,268.82 119.31,268.48 119.13,268.15 118.96,267.82 118.79,267.49 118.62,267.17 118.45,266.84 118.29,266.52 118.13,266.21 117.96,265.89 117.80,265.58 117.65,265.27 117.49,264.96 117.34,264.66 117.19,264.36 117.04,264.06 116.89,263.77 116.75,263.48 116.60,263.19 116.46,262.90 116.32,262.62 116.19,262.34 116.05,262.07 115.92,261.80 115.79,261.53 115.66,261.26 115.53,261.00 115.41,260.74 115.28,260.48 115.16,260.23 115.04,259.98 114.93,259.74 114.81,259.49 114.70,259.26 114.59,259.02 114.48,258.79 114.37,258.56 114.27,258.34 114.16,258.12 114.06,257.90 113.96,257.69 113.87,257.48 113.77,257.27 113.68,257.07 113.59,256.88 113.50,256.68 113.41,256.49 113.33,256.31 113.24,256.13 113.16,255.95 113.08,255.77 113.01,255.61 112.93,255.44 112.86,255.28 112.79,255.12 112.72,254.97 112.65,254.82 112.59,254.68 112.52,254.53 112.46,254.40 112.40,254.27 112.35,254.14 112.29,254.02 112.24,253.90 112.19,253.78 112.14,253.67 112.09,253.57 112.05,253.47 112.00,253.37 111.96,253.28 111.92,253.19 111.89,253.10 111.85,253.02 111.82,252.95 111.79,252.88 111.76,252.81 111.73,252.75 111.71,252.70 111.68,252.64 111.66,252.60 111.64,252.55 111.63,252.51 111.61,252.48 111.60,252.45 111.59,252.42 111.58,252.40 111.57,252.39 111.57,252.38 111.56,252.37 111.56,252.37" fill="none" stroke="#e8302a" stroke-width="2.0" stroke-linejoin="round" stroke-linecap="round"/>
<polyline points="201.60,346.30 201.97,346.19 202.33,346.07 202.69,345.96 203.06,345.84 203.42,345.73 203.78,345.61 204.14,345.50 204.49,345.38 204.85,345.27 205.21,345.15 205.56,345.03 205.91,344.92 206.26,344.80 206.61,344.68 206.96,344.57 207.31,344.45 207.66,344.33 208.00,344.21 208.35,344.10 208.69,343.98 209.03,343.86 209.37,343.74 209.71,343.62 210.05,343.50 210.39,343.38 210.72,343.26 211.06,343.14 211.39,343.02 211.72,342.90 212.05,342.78 212.38,342.66 212.71,342.54 213.04,342.42 213.36,342.30 213.69,342.18 214.01,342.06 214.33,341.94 214.65,341.82 214.97,341.69 215.29,341.57 215.61,341.45 215.93,341.33 216.24,341.21 216.55,341.08 216.87,340.96 217.18,340.84 217.49,340.72 217.80,340.60 218.10,340.47 218.41,340.35 218.71,340.23 219.02,340.10 219.32,339.98 219.62,339.86 219.92,339.73 220.22,339.61 220.52,339.49 220.82,339.37 221.11,339.24 221.40,339.12 221.70,338.99 221.99,338.87 222.28,338.75 222.57,338.62 222.86,338.50 223.14,338.38 223.43,338.25 223.71,338.13 224.00,338.01 224.28,337.88 224.56,337.76 224.84,337.64 225.12,337.51 225.39,337.39 225.67,337.27 225.94,337.14 226.22,337.02 226.49,336.90 226.76,336.77 227.03,336.65 227.30,336.53 227.56,336.40 227.83,336.28 228.09,336.16 228.36,336.03 228.62,335.91 228.88,335.79 229.14,335.67 229.40,335.54 229.66,335.42 229.91,335.30 230.17,335.18 230.42,335.05 230.67,334.93 230.93,334.81 231.18,334.69 231.42,334.57 231.67,334.45 231.92,334.32 232.16,334.20 232.41,334.08 232.65,333.96 232.89,333.84 233.13,333.72 233.37,333.60 233.61,333.48 233.84,333.36 234.08,333.24 234.31,333.12 234.55,333.00 234.78,332.88 235.01,332.76 235.24,332.64 235.47,332.52 235.69,332.41 235.92,332.29 236.14,332.17 236.37,332.05 236.59,331.94 236.81,331.82 237.03,331.70 237.25,331.58 237.46,331.47 237.68,331.35 237.89,331.24 238.11,331.12 238.32,331.01 238.53,330.89 238.74,330.78 238.95,330.66 239.16,330.55 239.36,330.43 239.57,330.32 239.77,330.21 239.97,330.09 240.17,329.98 240.37,329.87 240.57,329.76 240.77,329.65 240.97,329.53 241.16,329.42 241.35,329.31 241.55,329.20 241.74,329.09 241.93,328.98 242.12,328.88 242.30,328.77 242.49,328.66 242.68,328.55 242.86,328.44 243.04,328.34 243.22,328.23 243.40,328.12 243.58,328.02 243.76,327.91 243.94,327.81 244.11,327.70 244.29,327.60 244.46,327.50 244.63,327.39 244.80,327.29 244.97,327.19 245.14,327.09 245.31,326.99 245.47,326.89 245.64,326.79 245.80,326.69 245.96,326.59 246.12,326.49 246.28,326.39 246.44,326.29 246.60,326.19 246.75,326.10 246.91,326.00 247.06,325.91 247.21,325.81 247.37,325.72 247.52,325.62 247.66,325.53 247.81,325.44 247.96,325.34 248.10,325.25 248.25,325.16 248.39,325.07 248.53,324.98 248.67,324.89 248.81,324.80 248.95,324.71 249.08,324.63 249.22,324.54 249.35,324.45 249.48,324.37 249.62,324.28 249.75,324.20 249.87,324.11 250.00,324.03 250.13,323.95 250.25,323.86 250.38,323.78 250.50,323.70 250.62,323.62 250.74,323.54 250.86,323.46 250.98,323.38 251.10,323.31 251.21,323.23 251.33,323.15 251.44,323.08 251.55,323.00 251.66,322.93 251.77,322.85 251.88,322.78 251.99,322.71 252.09,322.64 252.20,322.57 252.30,322.50 252.40,322.43 252.50,322.36 252.60,322.29 252.70,322.22 252.80,322.16 252.89,322.09 252.99,322.03 253.08,321.96 253.18,321.90 253.27,321.84 253.36,321.77 253.44,321.71 253.53,321.65 253.62,321.59 253.70,321.53 253.79,321.47 253.87,321.42 253.95,321.36 254.03,321.30 254.11,321.25 254.19,321.20 254.26,321.14 254.34,321.09 254.41,321.04 254.49,320.99 254.56,320.94 254.63,320.89 254.70,320.84 254.76,320.79 254.83,320.74 254.90,320.70 254.96,320.65 255.02,320.61 255.09,320.56 255.15,320.52 255.21,320.48 255.26,320.44 255.32,320.39 255.38,320.35 255.43,320.32 255.48,320.28 255.54,320.24 255.59,320.20 255.64,320.17 255.68,320.13 255.73,320.10 255.78,320.07 255.82,320.04 255.86,320.00 255.91,319.97 255.95,319.94 255.99,319.92 256.03,319.89 256.06,319.86 256.10,319.84 256.13,319.81 256.17,319.79 256.20,319.76 256.23,319.74 256.26,319.72 256.29,319.70 256.32,319.68 256.34,319.66 256.37,319.64 256.39,319.62 256.42,319.61 256.44,319.59 256.46,319.58 256.48,319.56 256.49,319.55 256.51,319.54 256.53,319.53 256.54,319.52 256.55,319.51 256.56,319.50 256.57,319.49 256.58,319.48 256.59,319.48 256.60,319.47 256.60,319.47 256.61,319.47 256.61,319.46 256.61,319.46 256.61,319.46" fill="none" stroke="#e8302a" stroke-width="2.0" stroke-linejoin="round" stroke-linecap="round"/>
<polyline points="201.60,346.30 201.99,346.17 202.39,346.05 202.78,345.92 203.17,345.79 203.55,345.67 203.94,345.54 204.33,345.41 204.71,345.28 205.09,345.15 205.48,345.02 205.86,344.89 206.24,344.76 206.61,344.63 206.99,344.50 207.36,344.37 207.74,344.24 208.11,344.10 208.48,343.97 208.85,343.84 209.22,343.71 209.59,343.57 209.95,343.44 210.32,343.31 210.68,343.17 211.04,343.04 211.40,342.90 211.76,342.77 212.12,342.63 212.48,342.50 212.83,342.36 213.19,342.23 213.54,342.09 213.89,341.95 214.24,341.82 214.59,341.68 214.94,341.54 215.29,341.40 215.63,341.27 215.97,341.13 216.32,340.99 216.66,340.85 217.00,340.71 217.33,340.58 217.67,340.44 218.01,340.30 218.34,340.16 218.67,340.02 219.01,339.88 219.34,339.74 219.67,339.60 219.99,339.46 220.32,339.32 220.65,339.18 220.97,339.04 221.29,338.90 221.61,338.76 221.93,338.62 222.25,338.47 222.57,338.33 222.89,338.19 223.20,338.05 223.51,337.91 223.83,337.77 224.14,337.63 224.45,337.48 224.75,337.34 225.06,337.20 225.37,337.06 225.67,336.92 225.97,336.77 226.27,336.63 226.57,336.49 226.87,336.35 227.17,336.21 227.47,336.06 227.76,335.92 228.06,335.78 228.35,335.64 228.64,335.49 228.93,335.35 229.22,335.21 229.50,335.07 229.79,334.92 230.08,334.78 230.36,334.64 230.64,334.50 230.92,334.36 231.20,334.21 231.48,334.07 231.75,333.93 232.03,333.79 232.30,333.65 232.58,333.50 232.85,333.36 233.12,333.22 233.39,333.08 233.65,332.94 233.92,332.80 234.18,332.65 234.45,332.51 234.71,332.37 234.97,332.23 235.23,332.09 235.49,331.95 235.75,331.81 236.00,331.67 236.26,331.53 236.51,331.39 236.76,331.25 237.01,331.11 237.26,330.97 237.51,330.83 237.75,330.69 238.00,330.56 238.24,330.42 238.48,330.28 238.73,330.14 238.97,330.00 239.20,329.86 239.44,329.73 239.68,329.59 239.91,329.45 240.14,329.32 240.38,329.18 240.61,329.04 240.84,328.91 241.06,328.77 241.29,328.64 241.52,328.50 241.74,328.37 241.96,328.23 242.18,328.10 242.40,327.97 242.62,327.83 242.84,327.70 243.06,327.57 243.27,327.44 243.49,327.30 243.70,327.17 243.91,327.04 244.12,326.91 244.33,326.78 244.53,326.65 244.74,326.52 244.94,326.39 245.15,326.26 245.35,326.13 245.55,326.01 245.75,325.88 245.94,325.75 246.14,325.63 246.34,325.50 246.53,325.37 246.72,325.25 246.91,325.12 247.10,325.00 247.29,324.88 247.48,324.75 247.67,324.63 247.85,324.51 248.03,324.39 248.22,324.26 248.40,324.14 248.58,324.02 248.75,323.90 248.93,323.78 249.11,323.67 249.28,323.55 249.45,323.43 249.62,323.31 249.79,323.20 249.96,323.08 250.13,322.97 250.30,322.85 250.46,322.74 250.62,322.62 250.79,322.51 250.95,322.40 251.11,322.29 251.27,322.18 251.42,322.07 251.58,321.96 251.73,321.85 251.89,321.74 252.04,321.63 252.19,321.52 252.34,321.42 252.49,321.31 252.63,321.21 252.78,321.10 252.92,321.00 253.06,320.90 253.20,320.79 253.34,320.69 253.48,320.59 253.62,320.49 253.76,320.39 253.89,320.29 254.02,320.20 254.16,320.10 254.29,320.00 254.42,319.91 254.54,319.81 254.67,319.72 254.80,319.63 254.92,319.53 255.04,319.44 255.17,319.35 255.29,319.26 255.40,319.17 255.52,319.08 255.64,319.00 255.75,318.91 255.87,318.82 255.98,318.74 256.09,318.65 256.20,318.57 256.31,318.49 256.42,318.41 256.52,318.33 256.63,318.25 256.73,318.17 256.83,318.09 256.93,318.01 257.03,317.93 257.13,317.86 257.23,317.78 257.32,317.71 257.41,317.64 257.51,317.56 257.60,317.49 257.69,317.42 257.78,317.35 257.86,317.29 257.95,317.22 258.04,317.15 258.12,317.09 258.20,317.02 258.28,316.96 258.36,316.90 258.44,316.83 258.52,316.77 258.59,316.71 258.67,316.65 258.74,316.60 258.81,316.54 258.88,316.48 258.95,316.43 259.02,316.37 259.08,316.32 259.15,316.27 259.21,316.22 259.27,316.17 259.34,316.12 259.40,316.07 259.45,316.02 259.51,315.98 259.57,315.93 259.62,315.89 259.68,315.85 259.73,315.80 259.78,315.76 259.83,315.72 259.87,315.68 259.92,315.65 259.97,315.61 260.01,315.57 260.05,315.54 260.09,315.51 260.13,315.47 260.17,315.44 260.21,315.41 260.25,315.38 260.28,315.35 260.32,315.33 260.35,315.30 260.38,315.27 260.41,315.25 260.44,315.23 260.46,315.20 260.49,315.18 260.51,315.16 260.54,315.14 260.56,315.13 260.58,315.11 260.60,315.09 260.62,315.08 260.63,315.07 260.65,315.05 260.66,315.04 260.67,315.03 260.68,315.02 260.69,315.02 260.70,315.01 260.71,315.00 260.72,315.00 260.72,314.99 260.72,314.99 260.73,314.99 260.73,314.99" fill="none" stroke="#e8302a" stroke-width="2.0" stroke-linejoin="round" stroke-linecap="round"/>
<polyline points="201.60,346.30 202.03,346.16 202.46,346.01 202.89,345.87 203.32,345.72 203.75,345.58 204.17,345.43 204.60,345.29 205.02,345.14 205.44,344.99 205.86,344.84 206.28,344.70 206.70,344.55 207.11,344.40 207.53,344.25 207.94,344.10 208.35,343.95 208.76,343.79 209.17,343.64 209.57,343.49 209.98,343.34 210.38,343.18 210.79,343.03 211.19,342.88 211.59,342.72 211.98,342.57 212.38,342.41 212.78,342.25 213.17,342.10 213.56,341.94 213.95,341.78 214.34,341.62 214.73,341.47 215.12,341.31 215.50,341.15 215.88,340.99 216.27,340.83 216.65,340.67 217.03,340.51 217.40,340.35 217.78,340.19 218.16,340.03 218.53,339.86 218.90,339.70 219.27,339.54 219.64,339.38 220.01,339.21 220.37,339.05 220.74,338.89 221.10,338.72 221.46,338.56 221.83,338.39 222.18,338.23 222.54,338.06 222.90,337.90 223.25,337.73 223.61,337.56 223.96,337.40 224.31,337.23 224.66,337.06 225.00,336.90 225.35,336.73 225.69,336.56 226.04,336.39 226.38,336.23 226.72,336.06 227.06,335.89 227.40,335.72 227.73,335.55 228.07,335.38 228.40,335.22 228.73,335.05 229.06,334.88 229.39,334.71 229.72,334.54 230.04,334.37 230.37,334.20 230.69,334.03 231.01,333.86 231.33,333.69 231.65,333.52 231.97,333.35 232.28,333.18 232.60,333.01 232.91,332.84 233.22,332.67 233.53,332.50 233.84,332.33 234.15,332.15 234.45,331.98 234.76,331.81 235.06,331.64 235.36,331.47 235.66,331.30 235.96,331.13 236.26,330.96 236.55,330.79 236.84,330.62 237.14,330.45 237.43,330.28 237.72,330.11 238.01,329.94 238.29,329.77 238.58,329.60 238.86,329.43 239.14,329.26 239.43,329.09 239.71,328.92 239.98,328.75 240.26,328.58 240.54,328.41 240.81,328.24 241.08,328.07 241.35,327.90 241.62,327.73 241.89,327.56 242.16,327.39 242.42,327.23 242.68,327.06 242.95,326.89 243.21,326.72 243.47,326.55 243.72,326.39 243.98,326.22 244.24,326.05 244.49,325.89 244.74,325.72 244.99,325.56 245.24,325.39 245.49,325.22 245.74,325.06 245.98,324.89 246.22,324.73 246.47,324.57 246.71,324.40 246.95,324.24 247.18,324.08 247.42,323.91 247.65,323.75 247.89,323.59 248.12,323.43 248.35,323.27 248.58,323.11 248.81,322.95 249.03,322.79 249.26,322.63 249.48,322.47 249.70,322.31 249.92,322.15 250.14,321.99 250.36,321.84 250.58,321.68 250.79,321.52 251.00,321.37 251.21,321.21 251.42,321.06 251.63,320.90 251.84,320.75 252.05,320.60 252.25,320.44 252.45,320.29 252.66,320.14 252.86,319.99 253.05,319.84 253.25,319.69 253.45,319.54 253.64,319.39 253.83,319.25 254.03,319.10 254.22,318.95 254.40,318.81 254.59,318.66 254.78,318.52 254.96,318.37 255.14,318.23 255.33,318.09 255.51,317.95 255.68,317.81 255.86,317.66 256.04,317.53 256.21,317.39 256.38,317.25 256.55,317.11 256.72,316.97 256.89,316.84 257.06,316.70 257.22,316.57 257.39,316.44 257.55,316.30 257.71,316.17 257.87,316.04 258.03,315.91 258.19,315.78 258.34,315.65 258.50,315.52 258.65,315.40 258.80,315.27 258.95,315.15 259.10,315.02 259.24,314.90 259.39,314.78 259.53,314.66 259.67,314.54 259.82,314.42 259.95,314.30 260.09,314.18 260.23,314.06 260.36,313.95 260.50,313.83 260.63,313.72 260.76,313.61 260.89,313.49 261.02,313.38 261.14,313.27 261.27,313.16 261.39,313.06 261.52,312.95 261.64,312.84 261.75,312.74 261.87,312.64 261.99,312.53 262.10,312.43 262.22,312.33 262.33,312.23 262.44,312.13 262.55,312.04 262.66,311.94 262.76,311.85 262.87,311.75 262.97,311.66 263.07,311.57 263.17,311.48 263.27,311.39 263.37,311.30 263.47,311.21 263.56,311.13 263.65,311.04 263.75,310.96 263.84,310.88 263.92,310.80 264.01,310.72 264.10,310.64 264.18,310.56 264.27,310.48 264.35,310.41 264.43,310.33 264.51,310.26 264.58,310.19 264.66,310.12 264.73,310.05 264.81,309.98 264.88,309.92 264.95,309.85 265.02,309.79 265.08,309.73 265.15,309.66 265.21,309.60 265.28,309.55 265.34,309.49 265.40,309.43 265.46,309.38 265.51,309.32 265.57,309.27 265.62,309.22 265.68,309.17 265.73,309.12 265.78,309.07 265.83,309.03 265.87,308.98 265.92,308.94 265.96,308.90 266.00,308.86 266.05,308.82 266.09,308.78 266.12,308.75 266.16,308.71 266.20,308.68 266.23,308.64 266.26,308.61 266.29,308.58 266.32,308.56 266.35,308.53 266.38,308.50 266.40,308.48 266.43,308.46 266.45,308.44 266.47,308.42 266.49,308.40 266.51,308.38 266.52,308.36 266.54,308.35 266.55,308.34 266.57,308.32 266.58,308.31 266.59,308.30 266.59,308.30 266.60,308.29 266.61,308.29 266.61,308.28 266.61,308.28 266.61,308.28" fill="none" stroke="#e8302a" stroke-width="2.0" stroke-linejoin="round" stroke-linecap="round"/>
<polyline points="201.60,346.30 202.04,346.15 202.47,346.00 202.91,345.85 203.34,345.70 203.77,345.55 204.20,345.40 204.63,345.25 205.05,345.09 205.48,344.94 205.90,344.79 206.33,344.63 206.75,344.48 207.17,344.32 207.58,344.16 208.00,344.01 208.42,343.85 208.83,343.69 209.24,343.53 209.65,343.37 210.06,343.21 210.47,343.05 210.88,342.89 211.28,342.73 211.68,342.57 212.09,342.41 212.49,342.24 212.88,342.08 213.28,341.92 213.68,341.75 214.07,341.59 214.47,341.42 214.86,341.26 215.25,341.09 215.64,340.92 216.02,340.76 216.41,340.59 216.79,340.42 217.18,340.25 217.56,340.09 217.94,339.92 218.32,339.75 218.69,339.58 219.07,339.41 219.44,339.24 219.82,339.07 220.19,338.89 220.56,338.72 220.93,338.55 221.29,338.38 221.66,338.20 222.02,338.03 222.39,337.86 222.75,337.68 223.11,337.51 223.46,337.34 223.82,337.16 224.18,336.99 224.53,336.81 224.88,336.64 225.23,336.46 225.58,336.28 225.93,336.11 226.28,335.93 226.62,335.75 226.97,335.58 227.31,335.40 227.65,335.22 227.99,335.04 228.33,334.87 228.66,334.69 229.00,334.51 229.33,334.33 229.66,334.15 229.99,333.97 230.32,333.80 230.65,333.62 230.97,333.44 231.30,333.26 231.62,333.08 231.94,332.90 232.26,332.72 232.58,332.54 232.90,332.36 233.22,332.18 233.53,332.00 233.84,331.82 234.15,331.64 234.46,331.46 234.77,331.28 235.08,331.10 235.39,330.92 235.69,330.74 235.99,330.56 236.29,330.37 236.59,330.19 236.89,330.01 237.19,329.83 237.48,329.65 237.78,329.47 238.07,329.29 238.36,329.11 238.65,328.93 238.94,328.75 239.23,328.57 239.51,328.39 239.80,328.21 240.08,328.03 240.36,327.85 240.64,327.67 240.92,327.49 241.19,327.31 241.47,327.13 241.74,326.95 242.01,326.77 242.28,326.60 242.55,326.42 242.82,326.24 243.09,326.06 243.35,325.88 243.61,325.71 243.88,325.53 244.14,325.35 244.40,325.17 244.65,325.00 244.91,324.82 245.16,324.64 245.42,324.47 245.67,324.29 245.92,324.12 246.17,323.94 246.41,323.77 246.66,323.59 246.90,323.42 247.15,323.24 247.39,323.07 247.63,322.90 247.87,322.72 248.10,322.55 248.34,322.38 248.57,322.21 248.81,322.04 249.04,321.87 249.27,321.70 249.50,321.53 249.72,321.36 249.95,321.19 250.17,321.02 250.40,320.85 250.62,320.68 250.84,320.52 251.05,320.35 251.27,320.18 251.49,320.02 251.70,319.85 251.91,319.69 252.12,319.52 252.33,319.36 252.54,319.20 252.75,319.03 252.95,318.87 253.15,318.71 253.36,318.55 253.56,318.39 253.76,318.23 253.95,318.07 254.15,317.91 254.35,317.76 254.54,317.60 254.73,317.44 254.92,317.29 255.11,317.13 255.30,316.98 255.48,316.83 255.67,316.67 255.85,316.52 256.03,316.37 256.21,316.22 256.39,316.07 256.57,315.92 256.74,315.78 256.92,315.63 257.09,315.48 257.26,315.34 257.43,315.19 257.60,315.05 257.77,314.90 257.93,314.76 258.10,314.62 258.26,314.48 258.42,314.34 258.58,314.20 258.74,314.06 258.90,313.93 259.05,313.79 259.21,313.65 259.36,313.52 259.51,313.39 259.66,313.25 259.81,313.12 259.95,312.99 260.10,312.86 260.24,312.73 260.38,312.61 260.53,312.48 260.66,312.35 260.80,312.23 260.94,312.10 261.07,311.98 261.21,311.86 261.34,311.74 261.47,311.62 261.60,311.50 261.73,311.38 261.85,311.27 261.98,311.15 262.10,311.04 262.22,310.93 262.34,310.81 262.46,310.70 262.58,310.59 262.70,310.49 262.81,310.38 262.92,310.27 263.03,310.17 263.14,310.06 263.25,309.96 263.36,309.86 263.47,309.76 263.57,309.66 263.67,309.56 263.77,309.47 263.87,309.37 263.97,309.28 264.07,309.18 264.17,309.09 264.26,309.00 264.35,308.91 264.44,308.82 264.53,308.74 264.62,308.65 264.71,308.57 264.79,308.48 264.88,308.40 264.96,308.32 265.04,308.24 265.12,308.16 265.20,308.09 265.28,308.01 265.35,307.94 265.42,307.87 265.50,307.80 265.57,307.73 265.64,307.66 265.70,307.59 265.77,307.53 265.84,307.46 265.90,307.40 265.96,307.34 266.02,307.28 266.08,307.22 266.14,307.16 266.19,307.10 266.25,307.05 266.30,307.00 266.35,306.94 266.40,306.89 266.45,306.85 266.50,306.80 266.55,306.75 266.59,306.71 266.63,306.66 266.68,306.62 266.72,306.58 266.75,306.54 266.79,306.50 266.83,306.47 266.86,306.43 266.89,306.40 266.93,306.37 266.96,306.34 266.98,306.31 267.01,306.28 267.04,306.26 267.06,306.23 267.08,306.21 267.10,306.19 267.12,306.17 267.14,306.15 267.16,306.13 267.17,306.12 267.19,306.10 267.20,306.09 267.21,306.08 267.22,306.07 267.23,306.06 267.24,306.05 267.24,306.05 267.24,306.05 267.25,306.04 267.25,306.04" fill="none" stroke="#e8302a" stroke-width="2.0" stroke-linejoin="round" stroke-linecap="round"/>
<polyline points="201.60,346.30 202.04,346.15 202.48,345.99 202.92,345.84 203.35,345.68 203.79,345.52 204.22,345.37 204.65,345.21 205.09,345.05 205.51,344.89 205.94,344.73 206.37,344.57 206.79,344.41 207.22,344.24 207.64,344.08 208.06,343.92 208.48,343.75 208.89,343.59 209.31,343.42 209.72,343.26 210.14,343.09 210.55,342.92 210.96,342.76 211.37,342.59 211.77,342.42 212.18,342.25 212.58,342.08 212.99,341.91 213.39,341.74 213.79,341.57 214.18,341.40 214.58,341.22 214.98,341.05 215.37,340.88 215.76,340.70 216.15,340.53 216.54,340.35 216.93,340.18 217.32,340.00 217.70,339.83 218.09,339.65 218.47,339.47 218.85,339.30 219.23,339.12 219.60,338.94 219.98,338.76 220.35,338.58 220.73,338.40 221.10,338.22 221.47,338.04 221.84,337.86 222.21,337.68 222.57,337.50 222.94,337.31 223.30,337.13 223.66,336.95 224.02,336.76 224.38,336.58 224.74,336.40 225.09,336.21 225.44,336.03 225.80,335.84 226.15,335.66 226.50,335.47 226.85,335.29 227.19,335.10 227.54,334.92 227.88,334.73 228.22,334.54 228.56,334.36 228.90,334.17 229.24,333.98 229.58,333.79 229.91,333.61 230.25,333.42 230.58,333.23 230.91,333.04 231.24,332.85 231.56,332.66 231.89,332.47 232.22,332.29 232.54,332.10 232.86,331.91 233.18,331.72 233.50,331.53 233.82,331.34 234.13,331.15 234.45,330.96 234.76,330.77 235.07,330.58 235.38,330.39 235.69,330.20 235.99,330.01 236.30,329.82 236.60,329.63 236.91,329.44 237.21,329.25 237.51,329.06 237.81,328.87 238.10,328.67 238.40,328.48 238.69,328.29 238.98,328.10 239.27,327.91 239.56,327.72 239.85,327.53 240.14,327.34 240.42,327.15 240.70,326.96 240.99,326.77 241.27,326.58 241.55,326.39 241.82,326.21 242.10,326.02 242.37,325.83 242.65,325.64 242.92,325.45 243.19,325.26 243.46,325.07 243.72,324.88 243.99,324.70 244.25,324.51 244.52,324.32 244.78,324.13 245.04,323.95 245.30,323.76 245.55,323.57 245.81,323.39 246.06,323.20 246.32,323.01 246.57,322.83 246.82,322.64 247.06,322.46 247.31,322.27 247.56,322.09 247.80,321.91 248.04,321.72 248.28,321.54 248.52,321.36 248.76,321.18 248.99,320.99 249.23,320.81 249.46,320.63 249.69,320.45 249.92,320.27 250.15,320.09 250.38,319.91 250.61,319.73 250.83,319.56 251.05,319.38 251.28,319.20 251.50,319.02 251.71,318.85 251.93,318.67 252.15,318.50 252.36,318.32 252.57,318.15 252.79,317.97 253.00,317.80 253.20,317.63 253.41,317.46 253.62,317.29 253.82,317.12 254.02,316.95 254.22,316.78 254.42,316.61 254.62,316.44 254.82,316.27 255.01,316.11 255.21,315.94 255.40,315.78 255.59,315.61 255.78,315.45 255.96,315.29 256.15,315.12 256.34,314.96 256.52,314.80 256.70,314.64 256.88,314.48 257.06,314.33 257.24,314.17 257.41,314.01 257.59,313.86 257.76,313.70 257.93,313.55 258.10,313.40 258.27,313.24 258.44,313.09 258.60,312.94 258.77,312.79 258.93,312.64 259.09,312.50 259.25,312.35 259.41,312.20 259.57,312.06 259.72,311.91 259.87,311.77 260.03,311.63 260.18,311.49 260.33,311.35 260.48,311.21 260.62,311.07 260.77,310.93 260.91,310.80 261.05,310.66 261.19,310.53 261.33,310.40 261.47,310.27 261.61,310.14 261.74,310.01 261.87,309.88 262.01,309.75 262.14,309.62 262.26,309.50 262.39,309.38 262.52,309.25 262.64,309.13 262.76,309.01 262.89,308.89 263.01,308.77 263.12,308.66 263.24,308.54 263.36,308.43 263.47,308.31 263.58,308.20 263.70,308.09 263.80,307.98 263.91,307.87 264.02,307.77 264.12,307.66 264.23,307.56 264.33,307.46 264.43,307.35 264.53,307.25 264.63,307.15 264.73,307.06 264.82,306.96 264.91,306.86 265.01,306.77 265.10,306.68 265.19,306.59 265.27,306.50 265.36,306.41 265.44,306.32 265.53,306.24 265.61,306.15 265.69,306.07 265.77,305.99 265.84,305.91 265.92,305.83 265.99,305.75 266.07,305.68 266.14,305.60 266.21,305.53 266.28,305.46 266.34,305.39 266.41,305.32 266.47,305.25 266.54,305.19 266.60,305.12 266.66,305.06 266.72,305.00 266.77,304.94 266.83,304.88 266.88,304.82 266.93,304.77 266.98,304.71 267.03,304.66 267.08,304.61 267.13,304.56 267.17,304.51 267.22,304.47 267.26,304.42 267.30,304.38 267.34,304.34 267.37,304.30 267.41,304.26 267.45,304.22 267.48,304.19 267.51,304.15 267.54,304.12 267.57,304.09 267.60,304.06 267.62,304.03 267.65,304.01 267.67,303.98 267.69,303.96 267.71,303.94 267.73,303.92 267.75,303.90 267.76,303.89 267.78,303.87 267.79,303.86 267.80,303.85 267.81,303.83 267.82,303.83 267.82,303.82 267.83,303.81 267.83,303.81 267.83,303.81 267.83,303.81" fill="none" stroke="#e8302a" stroke-width="2.0" stroke-linejoin="round" stroke-linecap="round"/>
<polyline points="201.60,346.30 202.04,346.14 202.49,345.98 202.93,345.82 203.37,345.66 203.81,345.50 204.24,345.33 204.68,345.17 205.11,345.00 205.55,344.84 205.98,344.67 206.41,344.51 206.84,344.34 207.26,344.17 207.69,344.00 208.11,343.83 208.53,343.66 208.95,343.49 209.37,343.32 209.79,343.15 210.21,342.97 210.62,342.80 211.04,342.63 211.45,342.45 211.86,342.28 212.27,342.10 212.67,341.92 213.08,341.75 213.48,341.57 213.89,341.39 214.29,341.21 214.69,341.03 215.09,340.85 215.48,340.67 215.88,340.49 216.27,340.31 216.67,340.12 217.06,339.94 217.45,339.76 217.83,339.57 218.22,339.39 218.61,339.20 218.99,339.02 219.37,338.83 219.75,338.65 220.13,338.46 220.51,338.27 220.88,338.08 221.26,337.90 221.63,337.71 222.00,337.52 222.37,337.33 222.74,337.14 223.11,336.95 223.48,336.76 223.84,336.57 224.20,336.37 224.57,336.18 224.93,335.99 225.28,335.80 225.64,335.60 226.00,335.41 226.35,335.22 226.70,335.02 227.05,334.83 227.40,334.63 227.75,334.44 228.10,334.24 228.44,334.05 228.79,333.85 229.13,333.65 229.47,333.46 229.81,333.26 230.14,333.06 230.48,332.87 230.82,332.67 231.15,332.47 231.48,332.27 231.81,332.08 232.14,331.88 232.47,331.68 232.79,331.48 233.12,331.28 233.44,331.08 233.76,330.88 234.08,330.68 234.40,330.48 234.72,330.28 235.03,330.09 235.34,329.89 235.66,329.69 235.97,329.49 236.28,329.29 236.59,329.09 236.89,328.89 237.20,328.69 237.50,328.48 237.80,328.28 238.10,328.08 238.40,327.88 238.70,327.68 239.00,327.48 239.29,327.28 239.58,327.08 239.87,326.88 240.16,326.68 240.45,326.48 240.74,326.28 241.03,326.08 241.31,325.88 241.59,325.68 241.87,325.48 242.15,325.28 242.43,325.08 242.71,324.89 242.98,324.69 243.26,324.49 243.53,324.29 243.80,324.09 244.07,323.89 244.34,323.69 244.60,323.50 244.87,323.30 245.13,323.10 245.40,322.90 245.66,322.71 245.91,322.51 246.17,322.31 246.43,322.12 246.68,321.92 246.94,321.72 247.19,321.53 247.44,321.33 247.69,321.14 247.93,320.94 248.18,320.75 248.42,320.56 248.66,320.36 248.91,320.17 249.15,319.98 249.38,319.79 249.62,319.60 249.86,319.40 250.09,319.21 250.32,319.02 250.55,318.83 250.78,318.64 251.01,318.46 251.24,318.27 251.46,318.08 251.68,317.89 251.91,317.70 252.13,317.52 252.35,317.33 252.56,317.15 252.78,316.96 252.99,316.78 253.21,316.60 253.42,316.41 253.63,316.23 253.84,316.05 254.04,315.87 254.25,315.69 254.45,315.51 254.66,315.33 254.86,315.15 255.06,314.97 255.25,314.80 255.45,314.62 255.65,314.45 255.84,314.27 256.03,314.10 256.22,313.92 256.41,313.75 256.60,313.58 256.79,313.41 256.97,313.24 257.15,313.07 257.34,312.90 257.52,312.73 257.69,312.57 257.87,312.40 258.05,312.24 258.22,312.07 258.39,311.91 258.57,311.75 258.74,311.59 258.90,311.43 259.07,311.27 259.24,311.11 259.40,310.95 259.56,310.79 259.72,310.64 259.88,310.48 260.04,310.33 260.20,310.18 260.35,310.03 260.51,309.88 260.66,309.73 260.81,309.58 260.96,309.43 261.11,309.28 261.25,309.14 261.40,309.00 261.54,308.85 261.68,308.71 261.82,308.57 261.96,308.43 262.10,308.29 262.23,308.15 262.37,308.02 262.50,307.88 262.63,307.75 262.76,307.62 262.89,307.49 263.02,307.36 263.14,307.23 263.27,307.10 263.39,306.97 263.51,306.85 263.63,306.72 263.75,306.60 263.86,306.48 263.98,306.36 264.09,306.24 264.21,306.12 264.32,306.01 264.42,305.89 264.53,305.78 264.64,305.67 264.74,305.56 264.85,305.45 264.95,305.34 265.05,305.23 265.15,305.13 265.24,305.02 265.34,304.92 265.43,304.82 265.53,304.72 265.62,304.62 265.71,304.52 265.80,304.43 265.88,304.34 265.97,304.24 266.05,304.15 266.13,304.06 266.22,303.97 266.29,303.89 266.37,303.80 266.45,303.72 266.52,303.64 266.60,303.56 266.67,303.48 266.74,303.40 266.81,303.32 266.88,303.25 266.94,303.18 267.01,303.11 267.07,303.04 267.13,302.97 267.19,302.90 267.25,302.84 267.31,302.77 267.36,302.71 267.42,302.65 267.47,302.59 267.52,302.54 267.57,302.48 267.62,302.43 267.67,302.37 267.71,302.32 267.75,302.27 267.80,302.23 267.84,302.18 267.88,302.14 267.92,302.09 267.95,302.05 267.99,302.01 268.02,301.98 268.05,301.94 268.08,301.91 268.11,301.87 268.14,301.84 268.16,301.81 268.19,301.79 268.21,301.76 268.23,301.73 268.25,301.71 268.27,301.69 268.29,301.67 268.30,301.65 268.32,301.64 268.33,301.62 268.34,301.61 268.35,301.60 268.36,301.59 268.37,301.58 268.37,301.58 268.38,301.57 268.38,301.57 268.38,301.57" fill="none" stroke="#e8302a" stroke-width="2.0" stroke-linejoin="round" stroke-linecap="round"/>
<polyline points="201.60,346.30 202.05,346.14 202.49,345.97 202.94,345.80 203.38,345.64 203.82,345.47 204.26,345.30 204.70,345.13 205.14,344.96 205.58,344.79 206.01,344.62 206.44,344.44 206.88,344.27 207.30,344.10 207.73,343.92 208.16,343.75 208.59,343.57 209.01,343.39 209.43,343.21 209.85,343.04 210.27,342.86 210.69,342.68 211.11,342.50 211.52,342.31 211.93,342.13 212.35,341.95 212.76,341.77 213.17,341.58 213.57,341.40 213.98,341.21 214.38,341.03 214.79,340.84 215.19,340.65 215.59,340.46 215.99,340.28 216.38,340.09 216.78,339.90 217.17,339.71 217.57,339.51 217.96,339.32 218.35,339.13 218.73,338.94 219.12,338.75 219.51,338.55 219.89,338.36 220.27,338.16 220.65,337.97 221.03,337.77 221.41,337.58 221.78,337.38 222.16,337.18 222.53,336.98 222.90,336.78 223.27,336.59 223.64,336.39 224.01,336.19 224.38,335.99 224.74,335.79 225.10,335.59 225.46,335.38 225.82,335.18 226.18,334.98 226.54,334.78 226.89,334.58 227.25,334.37 227.60,334.17 227.95,333.96 228.30,333.76 228.65,333.56 228.99,333.35 229.34,333.15 229.68,332.94 230.02,332.73 230.36,332.53 230.70,332.32 231.04,332.12 231.37,331.91 231.71,331.70 232.04,331.49 232.37,331.29 232.70,331.08 233.03,330.87 233.36,330.66 233.68,330.45 234.00,330.24 234.33,330.04 234.65,329.83 234.97,329.62 235.28,329.41 235.60,329.20 235.92,328.99 236.23,328.78 236.54,328.57 236.85,328.36 237.16,328.15 237.47,327.94 237.77,327.73 238.08,327.52 238.38,327.31 238.68,327.10 238.98,326.89 239.28,326.68 239.58,326.47 239.87,326.26 240.16,326.05 240.46,325.84 240.75,325.63 241.04,325.42 241.32,325.21 241.61,325.00 241.90,324.79 242.18,324.58 242.46,324.37 242.74,324.16 243.02,323.95 243.30,323.74 243.57,323.53 243.85,323.32 244.12,323.11 244.39,322.91 244.66,322.70 244.93,322.49 245.20,322.28 245.46,322.07 245.73,321.87 245.99,321.66 246.25,321.45 246.51,321.24 246.77,321.04 247.02,320.83 247.28,320.63 247.53,320.42 247.78,320.21 248.03,320.01 248.28,319.81 248.53,319.60 248.78,319.40 249.02,319.19 249.26,318.99 249.51,318.79 249.75,318.59 249.98,318.38 250.22,318.18 250.46,317.98 250.69,317.78 250.92,317.58 251.15,317.38 251.38,317.18 251.61,316.98 251.84,316.79 252.06,316.59 252.29,316.39 252.51,316.20 252.73,316.00 252.95,315.80 253.17,315.61 253.38,315.42 253.60,315.22 253.81,315.03 254.02,314.84 254.23,314.65 254.44,314.45 254.65,314.26 254.85,314.08 255.06,313.89 255.26,313.70 255.46,313.51 255.66,313.32 255.86,313.14 256.06,312.95 256.25,312.77 256.44,312.59 256.64,312.40 256.83,312.22 257.02,312.04 257.20,311.86 257.39,311.68 257.57,311.50 257.76,311.32 257.94,311.15 258.12,310.97 258.30,310.80 258.48,310.62 258.65,310.45 258.82,310.28 259.00,310.10 259.17,309.93 259.34,309.76 259.51,309.60 259.67,309.43 259.84,309.26 260.00,309.10 260.16,308.93 260.33,308.77 260.48,308.61 260.64,308.45 260.80,308.29 260.95,308.13 261.11,307.97 261.26,307.81 261.41,307.66 261.56,307.50 261.70,307.35 261.85,307.20 261.99,307.04 262.14,306.89 262.28,306.75 262.42,306.60 262.56,306.45 262.69,306.31 262.83,306.16 262.96,306.02 263.10,305.88 263.23,305.74 263.36,305.60 263.48,305.46 263.61,305.32 263.73,305.19 263.86,305.06 263.98,304.92 264.10,304.79 264.22,304.66 264.34,304.53 264.45,304.41 264.57,304.28 264.68,304.16 264.79,304.03 264.90,303.91 265.01,303.79 265.12,303.67 265.22,303.56 265.33,303.44 265.43,303.33 265.53,303.21 265.63,303.10 265.73,302.99 265.82,302.88 265.92,302.78 266.01,302.67 266.10,302.57 266.19,302.46 266.28,302.36 266.37,302.26 266.46,302.17 266.54,302.07 266.62,301.97 266.70,301.88 266.78,301.79 266.86,301.70 266.94,301.61 267.02,301.52 267.09,301.44 267.16,301.36 267.23,301.27 267.30,301.19 267.37,301.11 267.44,301.04 267.50,300.96 267.57,300.89 267.63,300.82 267.69,300.74 267.75,300.68 267.81,300.61 267.86,300.54 267.92,300.48 267.97,300.42 268.02,300.36 268.07,300.30 268.12,300.24 268.17,300.18 268.21,300.13 268.26,300.08 268.30,300.03 268.34,299.98 268.38,299.93 268.42,299.89 268.45,299.85 268.49,299.80 268.52,299.76 268.56,299.73 268.59,299.69 268.61,299.65 268.64,299.62 268.67,299.59 268.69,299.56 268.72,299.53 268.74,299.51 268.76,299.48 268.78,299.46 268.79,299.44 268.81,299.42 268.82,299.41 268.84,299.39 268.85,299.38 268.86,299.37 268.87,299.36 268.87,299.35 268.88,299.34 268.88,299.34 268.88,299.33 268.88,299.33" fill="none" stroke="#e8302a" stroke-width="2.0" stroke-linejoin="round" stroke-linecap="round"/>
<polyline points="201.60,346.30 202.05,346.13 202.50,345.96 202.95,345.79 203.39,345.62 203.84,345.44 204.28,345.27 204.73,345.09 205.17,344.92 205.60,344.74 206.04,344.56 206.48,344.39 206.91,344.21 207.34,344.03 207.78,343.84 208.21,343.66 208.63,343.48 209.06,343.30 209.49,343.11 209.91,342.93 210.33,342.74 210.75,342.56 211.17,342.37 211.59,342.18 212.01,341.99 212.42,341.80 212.84,341.61 213.25,341.42 213.66,341.23 214.07,341.04 214.47,340.84 214.88,340.65 215.28,340.46 215.69,340.26 216.09,340.07 216.49,339.87 216.89,339.67 217.28,339.47 217.68,339.28 218.07,339.08 218.46,338.88 218.85,338.68 219.24,338.48 219.63,338.28 220.02,338.07 220.40,337.87 220.79,337.67 221.17,337.46 221.55,337.26 221.93,337.05 222.30,336.85 222.68,336.64 223.05,336.44 223.43,336.23 223.80,336.02 224.17,335.81 224.53,335.61 224.90,335.40 225.27,335.19 225.63,334.98 225.99,334.77 226.35,334.56 226.71,334.35 227.07,334.13 227.43,333.92 227.78,333.71 228.13,333.50 228.49,333.28 228.84,333.07 229.18,332.86 229.53,332.64 229.88,332.43 230.22,332.21 230.56,332.00 230.90,331.78 231.24,331.57 231.58,331.35 231.92,331.13 232.25,330.92 232.59,330.70 232.92,330.48 233.25,330.27 233.58,330.05 233.91,329.83 234.23,329.61 234.56,329.39 234.88,329.18 235.20,328.96 235.52,328.74 235.84,328.52 236.16,328.30 236.47,328.08 236.79,327.86 237.10,327.64 237.41,327.42 237.72,327.20 238.03,326.98 238.33,326.76 238.64,326.54 238.94,326.32 239.24,326.10 239.54,325.88 239.84,325.66 240.14,325.44 240.44,325.22 240.73,325.00 241.02,324.78 241.31,324.56 241.60,324.34 241.89,324.12 242.18,323.90 242.46,323.68 242.75,323.46 243.03,323.24 243.31,323.02 243.59,322.80 243.87,322.58 244.14,322.36 244.42,322.14 244.69,321.93 244.96,321.71 245.23,321.49 245.50,321.27 245.77,321.05 246.04,320.83 246.30,320.62 246.56,320.40 246.82,320.18 247.08,319.97 247.34,319.75 247.60,319.53 247.85,319.32 248.11,319.10 248.36,318.89 248.61,318.67 248.86,318.46 249.11,318.24 249.35,318.03 249.60,317.82 249.84,317.60 250.08,317.39 250.32,317.18 250.56,316.97 250.80,316.76 251.04,316.54 251.27,316.33 251.50,316.12 251.73,315.92 251.96,315.71 252.19,315.50 252.42,315.29 252.64,315.08 252.87,314.88 253.09,314.67 253.31,314.47 253.53,314.26 253.75,314.06 253.96,313.85 254.18,313.65 254.39,313.45 254.60,313.25 254.81,313.05 255.02,312.85 255.23,312.65 255.43,312.45 255.64,312.25 255.84,312.05 256.04,311.86 256.24,311.66 256.44,311.47 256.63,311.27 256.83,311.08 257.02,310.89 257.21,310.69 257.40,310.50 257.59,310.31 257.78,310.13 257.97,309.94 258.15,309.75 258.33,309.56 258.52,309.38 258.70,309.19 258.87,309.01 259.05,308.83 259.23,308.65 259.40,308.47 259.57,308.29 259.74,308.11 259.91,307.93 260.08,307.75 260.25,307.58 260.41,307.40 260.58,307.23 260.74,307.06 260.90,306.89 261.06,306.72 261.21,306.55 261.37,306.38 261.52,306.21 261.68,306.05 261.83,305.88 261.98,305.72 262.13,305.56 262.27,305.40 262.42,305.24 262.56,305.08 262.70,304.92 262.85,304.77 262.98,304.61 263.12,304.46 263.26,304.31 263.39,304.16 263.53,304.01 263.66,303.86 263.79,303.71 263.92,303.57 264.04,303.42 264.17,303.28 264.29,303.14 264.42,303.00 264.54,302.86 264.66,302.73 264.78,302.59 264.89,302.46 265.01,302.32 265.12,302.19 265.23,302.06 265.34,301.93 265.45,301.81 265.56,301.68 265.67,301.56 265.77,301.44 265.88,301.32 265.98,301.20 266.08,301.08 266.18,300.96 266.27,300.85 266.37,300.73 266.46,300.62 266.56,300.51 266.65,300.41 266.74,300.30 266.82,300.19 266.91,300.09 267.00,299.99 267.08,299.89 267.16,299.79 267.24,299.69 267.32,299.60 267.40,299.50 267.47,299.41 267.55,299.32 267.62,299.23 267.69,299.15 267.76,299.06 267.83,298.98 267.90,298.90 267.96,298.82 268.03,298.74 268.09,298.66 268.15,298.59 268.21,298.52 268.27,298.44 268.33,298.38 268.38,298.31 268.43,298.24 268.49,298.18 268.54,298.12 268.59,298.06 268.63,298.00 268.68,297.94 268.72,297.89 268.77,297.83 268.81,297.78 268.85,297.73 268.89,297.68 268.92,297.64 268.96,297.59 268.99,297.55 269.02,297.51 269.06,297.47 269.08,297.44 269.11,297.40 269.14,297.37 269.16,297.34 269.19,297.31 269.21,297.28 269.23,297.26 269.25,297.23 269.27,297.21 269.28,297.19 269.30,297.17 269.31,297.16 269.32,297.14 269.33,297.13 269.34,297.12 269.34,297.11 269.35,297.11 269.35,297.10 269.36,297.10 269.36,297.10" fill="none" stroke="#e8302a" stroke-width="2.0" stroke-linejoin="round" stroke-linecap="round"/>
<polyline points="201.60,346.30 202.07,346.12 202.53,345.94 202.99,345.76 203.45,345.58 203.91,345.40 204.37,345.21 204.82,345.03 205.28,344.84 205.73,344.65 206.18,344.46 206.63,344.28 207.08,344.09 207.52,343.89 207.97,343.70 208.41,343.51 208.85,343.32 209.29,343.12 209.73,342.93 210.17,342.73 210.61,342.53 211.04,342.33 211.47,342.13 211.90,341.93 212.33,341.73 212.76,341.53 213.19,341.33 213.61,341.13 214.03,340.92 214.46,340.72 214.88,340.51 215.29,340.30 215.71,340.10 216.13,339.89 216.54,339.68 216.95,339.47 217.36,339.26 217.77,339.05 218.18,338.83 218.59,338.62 218.99,338.41 219.39,338.19 219.80,337.98 220.20,337.76 220.59,337.55 220.99,337.33 221.39,337.11 221.78,336.89 222.17,336.67 222.56,336.45 222.95,336.23 223.34,336.01 223.72,335.79 224.11,335.57 224.49,335.34 224.87,335.12 225.25,334.90 225.63,334.67 226.01,334.44 226.38,334.22 226.75,333.99 227.13,333.77 227.50,333.54 227.87,333.31 228.23,333.08 228.60,332.85 228.96,332.62 229.33,332.39 229.69,332.16 230.05,331.93 230.40,331.70 230.76,331.47 231.11,331.24 231.47,331.00 231.82,330.77 232.17,330.54 232.52,330.30 232.87,330.07 233.21,329.83 233.56,329.60 233.90,329.36 234.24,329.13 234.58,328.89 234.92,328.66 235.25,328.42 235.59,328.18 235.92,327.95 236.25,327.71 236.58,327.47 236.91,327.23 237.24,327.00 237.56,326.76 237.88,326.52 238.21,326.28 238.53,326.04 238.85,325.80 239.16,325.56 239.48,325.33 239.79,325.09 240.11,324.85 240.42,324.61 240.73,324.37 241.04,324.13 241.34,323.89 241.65,323.65 241.95,323.41 242.25,323.17 242.55,322.93 242.85,322.69 243.15,322.45 243.45,322.21 243.74,321.97 244.03,321.73 244.32,321.49 244.61,321.25 244.90,321.01 245.19,320.77 245.47,320.53 245.76,320.29 246.04,320.05 246.32,319.81 246.60,319.58 246.88,319.34 247.15,319.10 247.43,318.86 247.70,318.62 247.97,318.38 248.24,318.15 248.51,317.91 248.77,317.67 249.04,317.44 249.30,317.20 249.56,316.96 249.82,316.73 250.08,316.49 250.34,316.26 250.59,316.02 250.85,315.79 251.10,315.55 251.35,315.32 251.60,315.09 251.85,314.85 252.09,314.62 252.34,314.39 252.58,314.16 252.82,313.93 253.06,313.70 253.30,313.47 253.54,313.24 253.77,313.01 254.01,312.78 254.24,312.55 254.47,312.33 254.70,312.10 254.92,311.87 255.15,311.65 255.38,311.42 255.60,311.20 255.82,310.98 256.04,310.75 256.26,310.53 256.47,310.31 256.69,310.09 256.90,309.87 257.11,309.65 257.32,309.43 257.53,309.22 257.74,309.00 257.95,308.78 258.15,308.57 258.35,308.36 258.55,308.14 258.75,307.93 258.95,307.72 259.15,307.51 259.34,307.30 259.54,307.09 259.73,306.88 259.92,306.68 260.11,306.47 260.29,306.26 260.48,306.06 260.66,305.86 260.85,305.66 261.03,305.46 261.21,305.26 261.38,305.06 261.56,304.86 261.74,304.66 261.91,304.47 262.08,304.27 262.25,304.08 262.42,303.89 262.59,303.70 262.75,303.51 262.91,303.32 263.08,303.13 263.24,302.95 263.40,302.76 263.55,302.58 263.71,302.40 263.86,302.22 264.02,302.04 264.17,301.86 264.32,301.68 264.47,301.51 264.61,301.33 264.76,301.16 264.90,300.99 265.05,300.82 265.19,300.65 265.32,300.48 265.46,300.32 265.60,300.15 265.73,299.99 265.86,299.83 266.00,299.67 266.13,299.51 266.25,299.35 266.38,299.20 266.51,299.05 266.63,298.89 266.75,298.74 266.87,298.59 266.99,298.45 267.11,298.30 267.22,298.16 267.34,298.01 267.45,297.87 267.56,297.73 267.67,297.60 267.78,297.46 267.88,297.33 267.99,297.19 268.09,297.06 268.19,296.93 268.29,296.80 268.39,296.68 268.49,296.56 268.59,296.43 268.68,296.31 268.77,296.19 268.86,296.08 268.95,295.96 269.04,295.85 269.13,295.74 269.21,295.63 269.29,295.52 269.37,295.41 269.45,295.31 269.53,295.21 269.61,295.11 269.69,295.01 269.76,294.91 269.83,294.82 269.90,294.72 269.97,294.63 270.04,294.54 270.10,294.46 270.17,294.37 270.23,294.29 270.29,294.21 270.35,294.13 270.41,294.05 270.47,293.98 270.52,293.90 270.58,293.83 270.63,293.76 270.68,293.69 270.73,293.63 270.78,293.57 270.82,293.50 270.87,293.44 270.91,293.39 270.95,293.33 270.99,293.28 271.03,293.23 271.06,293.18 271.10,293.13 271.13,293.09 271.16,293.04 271.19,293.00 271.22,292.96 271.25,292.93 271.28,292.89 271.30,292.86 271.32,292.83 271.34,292.80 271.36,292.78 271.38,292.75 271.40,292.73 271.41,292.71 271.42,292.69 271.44,292.68 271.45,292.66 271.45,292.65 271.46,292.64 271.47,292.63 271.47,292.63 271.47,292.63 271.47,292.62" fill="none" stroke="#e8302a" stroke-width="2.0" stroke-linejoin="round" stroke-linecap="round"/>
<polyline points="201.60,346.30 202.08,346.11 202.55,345.92 203.03,345.73 203.50,345.54 203.97,345.35 204.44,345.16 204.91,344.96 205.38,344.77 205.84,344.57 206.30,344.37 206.77,344.17 207.23,343.97 207.69,343.77 208.14,343.57 208.60,343.36 209.05,343.16 209.50,342.95 209.95,342.75 210.40,342.54 210.85,342.33 211.30,342.12 211.74,341.91 212.18,341.70 212.62,341.49 213.06,341.27 213.50,341.06 213.94,340.84 214.37,340.62 214.80,340.41 215.24,340.19 215.67,339.97 216.09,339.75 216.52,339.53 216.95,339.30 217.37,339.08 217.79,338.86 218.21,338.63 218.63,338.41 219.05,338.18 219.46,337.95 219.88,337.72 220.29,337.49 220.70,337.26 221.11,337.03 221.52,336.80 221.92,336.57 222.33,336.34 222.73,336.10 223.13,335.87 223.53,335.63 223.93,335.40 224.32,335.16 224.72,334.92 225.11,334.68 225.50,334.44 225.89,334.20 226.28,333.96 226.67,333.72 227.05,333.48 227.44,333.24 227.82,332.99 228.20,332.75 228.58,332.51 228.96,332.26 229.33,332.02 229.71,331.77 230.08,331.52 230.45,331.28 230.82,331.03 231.19,330.78 231.55,330.53 231.92,330.28 232.28,330.03 232.64,329.78 233.00,329.53 233.36,329.28 233.71,329.03 234.07,328.78 234.42,328.52 234.77,328.27 235.12,328.02 235.47,327.76 235.82,327.51 236.16,327.25 236.51,327.00 236.85,326.74 237.19,326.49 237.53,326.23 237.87,325.98 238.20,325.72 238.54,325.46 238.87,325.21 239.20,324.95 239.53,324.69 239.86,324.43 240.18,324.17 240.51,323.92 240.83,323.66 241.15,323.40 241.47,323.14 241.79,322.88 242.11,322.62 242.42,322.36 242.74,322.10 243.05,321.84 243.36,321.59 243.67,321.33 243.97,321.07 244.28,320.81 244.58,320.55 244.88,320.29 245.19,320.03 245.48,319.77 245.78,319.51 246.08,319.25 246.37,318.99 246.66,318.73 246.96,318.47 247.25,318.21 247.53,317.95 247.82,317.69 248.10,317.43 248.39,317.17 248.67,316.92 248.95,316.66 249.23,316.40 249.50,316.14 249.78,315.88 250.05,315.63 250.32,315.37 250.59,315.11 250.86,314.85 251.13,314.60 251.40,314.34 251.66,314.09 251.92,313.83 252.18,313.58 252.44,313.32 252.70,313.07 252.96,312.81 253.21,312.56 253.46,312.31 253.71,312.05 253.96,311.80 254.21,311.55 254.46,311.30 254.70,311.05 254.95,310.80 255.19,310.55 255.43,310.30 255.67,310.05 255.90,309.80 256.14,309.56 256.37,309.31 256.60,309.06 256.83,308.82 257.06,308.57 257.29,308.33 257.52,308.09 257.74,307.85 257.96,307.60 258.18,307.36 258.40,307.12 258.62,306.88 258.84,306.64 259.05,306.41 259.26,306.17 259.48,305.93 259.69,305.70 259.89,305.46 260.10,305.23 260.30,305.00 260.51,304.77 260.71,304.54 260.91,304.31 261.11,304.08 261.31,303.85 261.50,303.62 261.69,303.40 261.89,303.17 262.08,302.95 262.27,302.73 262.45,302.51 262.64,302.29 262.82,302.07 263.01,301.85 263.19,301.63 263.37,301.42 263.54,301.20 263.72,300.99 263.90,300.78 264.07,300.57 264.24,300.36 264.41,300.15 264.58,299.94 264.75,299.74 264.91,299.54 265.07,299.33 265.24,299.13 265.40,298.93 265.55,298.73 265.71,298.53 265.87,298.34 266.02,298.14 266.17,297.95 266.32,297.76 266.47,297.57 266.62,297.38 266.77,297.19 266.91,297.01 267.05,296.83 267.19,296.64 267.33,296.46 267.47,296.28 267.61,296.11 267.74,295.93 267.88,295.76 268.01,295.58 268.14,295.41 268.27,295.24 268.39,295.07 268.52,294.91 268.64,294.74 268.76,294.58 268.88,294.42 269.00,294.26 269.12,294.10 269.24,293.95 269.35,293.80 269.46,293.64 269.57,293.49 269.68,293.35 269.79,293.20 269.90,293.05 270.00,292.91 270.10,292.77 270.21,292.63 270.30,292.50 270.40,292.36 270.50,292.23 270.59,292.10 270.69,291.97 270.78,291.84 270.87,291.72 270.96,291.59 271.04,291.47 271.13,291.35 271.21,291.23 271.30,291.12 271.38,291.01 271.46,290.90 271.53,290.79 271.61,290.68 271.68,290.58 271.76,290.47 271.83,290.37 271.90,290.27 271.96,290.18 272.03,290.08 272.09,289.99 272.16,289.90 272.22,289.81 272.28,289.73 272.34,289.65 272.39,289.56 272.45,289.49 272.50,289.41 272.55,289.33 272.60,289.26 272.65,289.19 272.70,289.12 272.75,289.06 272.79,289.00 272.83,288.93 272.87,288.88 272.91,288.82 272.95,288.76 272.98,288.71 273.02,288.66 273.05,288.62 273.08,288.57 273.11,288.53 273.14,288.49 273.17,288.45 273.19,288.41 273.21,288.38 273.24,288.35 273.26,288.32 273.27,288.29 273.29,288.27 273.31,288.25 273.32,288.23 273.33,288.21 273.34,288.19 273.35,288.18 273.36,288.17 273.36,288.16 273.37,288.16 273.37,288.15 273.37,288.15" fill="none" stroke="#e8302a" stroke-width="2.0" stroke-linejoin="round" stroke-linecap="round"/>
<polyline points="201.60,346.30 202.11,346.10 202.61,345.89 203.12,345.68 203.62,345.48 204.12,345.27 204.62,345.06 205.12,344.84 205.61,344.63 206.11,344.42 206.60,344.20 207.09,343.98 207.58,343.76 208.07,343.54 208.55,343.32 209.03,343.10 209.52,342.87 210.00,342.65 210.48,342.42 210.95,342.19 211.43,341.96 211.90,341.73 212.37,341.50 212.84,341.27 213.31,341.03 213.78,340.80 214.24,340.56 214.71,340.32 215.17,340.08 215.63,339.84 216.09,339.60 216.54,339.35 217.00,339.11 217.45,338.87 217.90,338.62 218.35,338.37 218.80,338.12 219.25,337.87 219.69,337.62 220.14,337.37 220.58,337.12 221.02,336.86 221.46,336.61 221.89,336.35 222.33,336.09 222.76,335.83 223.19,335.57 223.62,335.31 224.05,335.05 224.47,334.79 224.90,334.52 225.32,334.26 225.74,333.99 226.16,333.73 226.58,333.46 227.00,333.19 227.41,332.92 227.82,332.65 228.23,332.38 228.64,332.11 229.05,331.84 229.46,331.56 229.86,331.29 230.26,331.01 230.66,330.74 231.06,330.46 231.46,330.18 231.85,329.91 232.25,329.63 232.64,329.35 233.03,329.07 233.42,328.78 233.81,328.50 234.19,328.22 234.58,327.94 234.96,327.65 235.34,327.37 235.72,327.08 236.10,326.80 236.47,326.51 236.84,326.22 237.22,325.93 237.59,325.65 237.95,325.36 238.32,325.07 238.69,324.78 239.05,324.49 239.41,324.19 239.77,323.90 240.13,323.61 240.49,323.32 240.84,323.03 241.20,322.73 241.55,322.44 241.90,322.14 242.25,321.85 242.59,321.55 242.94,321.26 243.28,320.96 243.62,320.67 243.96,320.37 244.30,320.07 244.63,319.78 244.97,319.48 245.30,319.18 245.63,318.88 245.96,318.59 246.29,318.29 246.62,317.99 246.94,317.69 247.26,317.39 247.59,317.09 247.91,316.79 248.22,316.50 248.54,316.20 248.85,315.90 249.17,315.60 249.48,315.30 249.79,315.00 250.09,314.70 250.40,314.40 250.70,314.10 251.01,313.80 251.31,313.50 251.61,313.20 251.90,312.90 252.20,312.61 252.49,312.31 252.79,312.01 253.08,311.71 253.36,311.41 253.65,311.11 253.94,310.82 254.22,310.52 254.50,310.22 254.78,309.92 255.06,309.63 255.34,309.33 255.61,309.03 255.89,308.74 256.16,308.44 256.43,308.15 256.70,307.85 256.97,307.56 257.23,307.27 257.49,306.97 257.76,306.68 258.02,306.39 258.28,306.09 258.53,305.80 258.79,305.51 259.04,305.22 259.29,304.93 259.54,304.64 259.79,304.36 260.04,304.07 260.28,303.78 260.52,303.49 260.77,303.21 261.01,302.92 261.24,302.64 261.48,302.36 261.71,302.07 261.95,301.79 262.18,301.51 262.41,301.23 262.64,300.95 262.86,300.67 263.09,300.40 263.31,300.12 263.53,299.84 263.75,299.57 263.97,299.29 264.18,299.02 264.40,298.75 264.61,298.48 264.82,298.21 265.03,297.94 265.24,297.68 265.45,297.41 265.65,297.14 265.85,296.88 266.05,296.62 266.25,296.36 266.45,296.10 266.64,295.84 266.84,295.58 267.03,295.32 267.22,295.07 267.41,294.81 267.60,294.56 267.78,294.31 267.97,294.06 268.15,293.81 268.33,293.57 268.51,293.32 268.69,293.08 268.86,292.84 269.03,292.59 269.21,292.36 269.38,292.12 269.55,291.88 269.71,291.65 269.88,291.41 270.04,291.18 270.20,290.95 270.36,290.73 270.52,290.50 270.68,290.28 270.83,290.05 270.99,289.83 271.14,289.61 271.29,289.40 271.44,289.18 271.58,288.97 271.73,288.75 271.87,288.54 272.01,288.34 272.15,288.13 272.29,287.93 272.43,287.72 272.56,287.52 272.69,287.32 272.83,287.13 272.96,286.93 273.08,286.74 273.21,286.55 273.33,286.36 273.46,286.18 273.58,285.99 273.70,285.81 273.82,285.63 273.93,285.45 274.05,285.28 274.16,285.11 274.27,284.93 274.38,284.77 274.49,284.60 274.59,284.43 274.70,284.27 274.80,284.11 274.90,283.96 275.00,283.80 275.10,283.65 275.19,283.50 275.29,283.35 275.38,283.20 275.47,283.06 275.56,282.92 275.65,282.78 275.73,282.65 275.81,282.51 275.90,282.38 275.98,282.25 276.06,282.13 276.13,282.00 276.21,281.88 276.28,281.76 276.35,281.65 276.42,281.54 276.49,281.43 276.56,281.32 276.63,281.21 276.69,281.11 276.75,281.01 276.81,280.91 276.87,280.82 276.93,280.72 276.98,280.63 277.03,280.55 277.09,280.46 277.14,280.38 277.18,280.30 277.23,280.22 277.28,280.15 277.32,280.08 277.36,280.01 277.40,279.95 277.44,279.88 277.48,279.82 277.51,279.77 277.54,279.71 277.57,279.66 277.60,279.61 277.63,279.56 277.66,279.52 277.68,279.48 277.71,279.44 277.73,279.41 277.75,279.38 277.76,279.35 277.78,279.32 277.79,279.30 277.81,279.27 277.82,279.26 277.83,279.24 277.84,279.23 277.84,279.22 277.85,279.21 277.85,279.21 277.85,279.21" fill="none" stroke="#e8302a" stroke-width="2.0" stroke-linejoin="round" stroke-linecap="round"/>
<polyline points="201.60,346.30 201.36,346.23 201.13,346.16 200.89,346.10 200.66,346.03 200.43,345.96 200.19,345.89 199.96,345.82 199.73,345.75 199.50,345.69 199.27,345.62 199.04,345.55 198.81,345.48 198.59,345.41 198.36,345.34 198.13,345.28 197.91,345.21 197.69,345.14 197.46,345.07 197.24,345.00 197.02,344.93 196.80,344.87 196.58,344.80 196.36,344.73 196.14,344.66 195.92,344.59 195.71,344.53 195.49,344.46 195.27,344.39 195.06,344.32 194.85,344.25 194.63,344.19 194.42,344.12 194.21,344.05 194.00,343.98 193.79,343.91 193.58,343.85 193.37,343.78 193.17,343.71 192.96,343.64 192.75,343.58 192.55,343.51 192.34,343.44 192.14,343.37 191.94,343.31 191.74,343.24 191.54,343.17 191.34,343.11 191.14,343.04 190.94,342.97 190.74,342.91 190.54,342.84 190.35,342.77 190.15,342.71 189.96,342.64 189.76,342.57 189.57,342.51 189.38,342.44 189.18,342.37 188.99,342.31 188.80,342.24 188.61,342.18 188.43,342.11 188.24,342.05 188.05,341.98 187.87,341.91 187.68,341.85 187.50,341.78 187.31,341.72 187.13,341.65 186.95,341.59 186.77,341.52 186.59,341.46 186.41,341.39 186.23,341.33 186.05,341.27 185.87,341.20 185.70,341.14 185.52,341.07 185.34,341.01 185.17,340.95 185.00,340.88 184.82,340.82 184.65,340.76 184.48,340.69 184.31,340.63 184.14,340.57 183.97,340.50 183.81,340.44 183.64,340.38 183.47,340.32 183.31,340.25 183.14,340.19 182.98,340.13 182.82,340.07 182.65,340.01 182.49,339.95 182.33,339.88 182.17,339.82 182.01,339.76 181.85,339.70 181.70,339.64 181.54,339.58 181.38,339.52 181.23,339.46 181.07,339.40 180.92,339.34 180.77,339.28 180.61,339.22 180.46,339.16 180.31,339.10 180.16,339.04 180.01,338.99 179.87,338.93 179.72,338.87 179.57,338.81 179.43,338.75 179.28,338.70 179.14,338.64 178.99,338.58 178.85,338.52 178.71,338.47 178.57,338.41 178.43,338.35 178.29,338.30 178.15,338.24 178.01,338.18 177.88,338.13 177.74,338.07 177.60,338.02 177.47,337.96 177.34,337.91 177.20,337.85 177.07,337.80 176.94,337.74 176.81,337.69 176.68,337.64 176.55,337.58 176.42,337.53 176.29,337.48 176.17,337.42 176.04,337.37 175.91,337.32 175.79,337.27 175.67,337.22 175.54,337.16 175.42,337.11 175.30,337.06 175.18,337.01 175.06,336.96 174.94,336.91 174.82,336.86 174.71,336.81 174.59,336.76 174.47,336.71 174.36,336.66 174.25,336.61 174.13,336.56 174.02,336.51 173.91,336.47 173.80,336.42 173.69,336.37 173.58,336.32 173.47,336.28 173.36,336.23 173.25,336.18 173.15,336.14 173.04,336.09 172.94,336.05 172.83,336.00 172.73,335.96 172.63,335.91 172.53,335.87 172.43,335.82 172.33,335.78 172.23,335.73 172.13,335.69 172.03,335.65 171.93,335.60 171.84,335.56 171.74,335.52 171.65,335.48 171.55,335.44 171.46,335.39 171.37,335.35 171.28,335.31 171.19,335.27 171.10,335.23 171.01,335.19 170.92,335.15 170.83,335.11 170.75,335.07 170.66,335.03 170.58,335.00 170.49,334.96 170.41,334.92 170.33,334.88 170.25,334.85 170.16,334.81 170.08,334.77 170.01,334.74 169.93,334.70 169.85,334.66 169.77,334.63 169.70,334.59 169.62,334.56 169.55,334.53 169.47,334.49 169.40,334.46 169.33,334.42 169.25,334.39 169.18,334.36 169.11,334.33 169.05,334.30 168.98,334.26 168.91,334.23 168.84,334.20 168.78,334.17 168.71,334.14 168.65,334.11 168.58,334.08 168.52,334.05 168.46,334.02 168.40,333.99 168.34,333.97 168.28,333.94 168.22,333.91 168.16,333.88 168.10,333.86 168.05,333.83 167.99,333.80 167.94,333.78 167.88,333.75 167.83,333.73 167.78,333.70 167.72,333.68 167.67,333.65 167.62,333.63 167.57,333.61 167.53,333.58 167.48,333.56 167.43,333.54 167.38,333.52 167.34,333.50 167.29,333.47 167.25,333.45 167.21,333.43 167.17,333.41 167.12,333.39 167.08,333.37 167.04,333.35 167.00,333.34 166.97,333.32 166.93,333.30 166.89,333.28 166.86,333.27 166.82,333.25 166.79,333.23 166.75,333.22 166.72,333.20 166.69,333.19 166.66,333.17 166.63,333.16 166.60,333.14 166.57,333.13 166.54,333.11 166.51,333.10 166.49,333.09 166.46,333.08 166.44,333.06 166.41,333.05 166.39,333.04 166.37,333.03 166.34,333.02 166.32,333.01 166.30,333.00 166.28,332.99 166.26,332.98 166.25,332.97 166.23,332.97 166.21,332.96 166.20,332.95 166.18,332.94 166.17,332.94 166.16,332.93 166.14,332.92 166.13,332.92 166.12,332.91 166.11,332.91 166.10,332.90 166.10,332.90 166.09,332.90 166.08,332.89 166.08,332.89 166.07,332.89 166.07,332.89 166.06,332.88 166.06,332.88 166.06,332.88 166.06,332.88 166.06,332.88" fill="none" stroke="#e8302a" stroke-width="2.0" stroke-linejoin="round" stroke-linecap="round"/>
<polyline points="201.60,346.30 201.30,346.21 201.00,346.11 200.70,346.02 200.41,345.93 200.11,345.83 199.82,345.74 199.52,345.65 199.23,345.55 198.94,345.46 198.65,345.36 198.36,345.27 198.07,345.18 197.78,345.08 197.49,344.99 197.21,344.89 196.92,344.80 196.64,344.70 196.36,344.61 196.08,344.51 195.80,344.42 195.52,344.32 195.24,344.23 194.96,344.13 194.68,344.04 194.41,343.94 194.13,343.85 193.86,343.75 193.59,343.66 193.31,343.56 193.04,343.46 192.77,343.37 192.50,343.27 192.24,343.18 191.97,343.08 191.70,342.99 191.44,342.89 191.18,342.79 190.91,342.70 190.65,342.60 190.39,342.51 190.13,342.41 189.87,342.31 189.61,342.22 189.36,342.12 189.10,342.03 188.85,341.93 188.59,341.83 188.34,341.74 188.09,341.64 187.84,341.55 187.59,341.45 187.34,341.35 187.09,341.26 186.85,341.16 186.60,341.07 186.36,340.97 186.11,340.88 185.87,340.78 185.63,340.68 185.39,340.59 185.15,340.49 184.91,340.40 184.67,340.30 184.43,340.21 184.20,340.11 183.96,340.02 183.73,339.92 183.50,339.83 183.27,339.73 183.03,339.63 182.81,339.54 182.58,339.45 182.35,339.35 182.12,339.26 181.90,339.16 181.67,339.07 181.45,338.97 181.23,338.88 181.00,338.78 180.78,338.69 180.56,338.60 180.34,338.50 180.13,338.41 179.91,338.31 179.69,338.22 179.48,338.13 179.27,338.03 179.05,337.94 178.84,337.85 178.63,337.76 178.42,337.66 178.21,337.57 178.01,337.48 177.80,337.39 177.59,337.29 177.39,337.20 177.18,337.11 176.98,337.02 176.78,336.93 176.58,336.84 176.38,336.74 176.18,336.65 175.98,336.56 175.79,336.47 175.59,336.38 175.40,336.29 175.20,336.20 175.01,336.11 174.82,336.02 174.63,335.93 174.44,335.84 174.25,335.76 174.06,335.67 173.88,335.58 173.69,335.49 173.51,335.40 173.32,335.32 173.14,335.23 172.96,335.14 172.78,335.05 172.60,334.97 172.42,334.88 172.24,334.79 172.06,334.71 171.89,334.62 171.71,334.54 171.54,334.45 171.37,334.37 171.20,334.28 171.03,334.20 170.86,334.11 170.69,334.03 170.52,333.95 170.35,333.86 170.19,333.78 170.02,333.70 169.86,333.61 169.70,333.53 169.53,333.45 169.37,333.37 169.21,333.29 169.06,333.21 168.90,333.13 168.74,333.05 168.59,332.97 168.43,332.89 168.28,332.81 168.12,332.73 167.97,332.65 167.82,332.57 167.67,332.49 167.52,332.42 167.38,332.34 167.23,332.26 167.08,332.18 166.94,332.11 166.80,332.03 166.65,331.96 166.51,331.88 166.37,331.81 166.23,331.73 166.09,331.66 165.96,331.59 165.82,331.51 165.68,331.44 165.55,331.37 165.42,331.30 165.28,331.22 165.15,331.15 165.02,331.08 164.89,331.01 164.76,330.94 164.63,330.87 164.51,330.80 164.38,330.73 164.26,330.66 164.13,330.60 164.01,330.53 163.89,330.46 163.77,330.40 163.65,330.33 163.53,330.26 163.41,330.20 163.30,330.13 163.18,330.07 163.07,330.00 162.95,329.94 162.84,329.88 162.73,329.81 162.62,329.75 162.51,329.69 162.40,329.63 162.29,329.57 162.19,329.51 162.08,329.45 161.98,329.39 161.87,329.33 161.77,329.27 161.67,329.21 161.57,329.15 161.47,329.10 161.37,329.04 161.27,328.98 161.18,328.93 161.08,328.87 160.99,328.82 160.89,328.77 160.80,328.71 160.71,328.66 160.62,328.61 160.53,328.55 160.44,328.50 160.35,328.45 160.26,328.40 160.18,328.35 160.09,328.30 160.01,328.25 159.93,328.20 159.85,328.16 159.77,328.11 159.69,328.06 159.61,328.01 159.53,327.97 159.45,327.92 159.38,327.88 159.30,327.83 159.23,327.79 159.16,327.75 159.09,327.70 159.02,327.66 158.95,327.62 158.88,327.58 158.81,327.54 158.74,327.50 158.68,327.46 158.61,327.42 158.55,327.38 158.49,327.35 158.43,327.31 158.37,327.27 158.31,327.24 158.25,327.20 158.19,327.17 158.13,327.13 158.08,327.10 158.02,327.07 157.97,327.03 157.92,327.00 157.87,326.97 157.81,326.94 157.77,326.91 157.72,326.88 157.67,326.85 157.62,326.82 157.58,326.79 157.53,326.77 157.49,326.74 157.45,326.71 157.40,326.69 157.36,326.66 157.32,326.64 157.29,326.62 157.25,326.59 157.21,326.57 157.18,326.55 157.14,326.53 157.11,326.51 157.08,326.49 157.04,326.47 157.01,326.45 156.98,326.43 156.96,326.41 156.93,326.40 156.90,326.38 156.88,326.36 156.85,326.35 156.83,326.34 156.81,326.32 156.78,326.31 156.76,326.30 156.74,326.28 156.73,326.27 156.71,326.26 156.69,326.25 156.68,326.24 156.66,326.23 156.65,326.22 156.64,326.22 156.62,326.21 156.61,326.20 156.60,326.20 156.60,326.19 156.59,326.19 156.58,326.18 156.58,326.18 156.57,326.18 156.57,326.17 156.57,326.17 156.56,326.17 156.56,326.17" fill="none" stroke="#e8302a" stroke-width="2.0" stroke-linejoin="round" stroke-linecap="round"/>
<polyline points="201.60,346.30 201.84,346.23 202.07,346.16 202.31,346.10 202.54,346.03 202.77,345.96 203.01,345.89 203.24,345.82 203.47,345.75 203.70,345.69 203.93,345.62 204.16,345.55 204.39,345.48 204.61,345.41 204.84,345.34 205.07,345.28 205.29,345.21 205.51,345.14 205.74,345.07 205.96,345.00 206.18,344.93 206.40,344.87 206.62,344.80 206.84,344.73 207.06,344.66 207.28,344.59 207.49,344.53 207.71,344.46 207.93,344.39 208.14,344.32 208.35,344.25 208.57,344.19 208.78,344.12 208.99,344.05 209.20,343.98 209.41,343.91 209.62,343.85 209.83,343.78 210.03,343.71 210.24,343.64 210.45,343.58 210.65,343.51 210.86,343.44 211.06,343.37 211.26,343.31 211.46,343.24 211.66,343.17 211.86,343.11 212.06,343.04 212.26,342.97 212.46,342.91 212.66,342.84 212.85,342.77 213.05,342.71 213.24,342.64 213.44,342.57 213.63,342.51 213.82,342.44 214.02,342.37 214.21,342.31 214.40,342.24 214.59,342.18 214.77,342.11 214.96,342.05 215.15,341.98 215.33,341.91 215.52,341.85 215.70,341.78 215.89,341.72 216.07,341.65 216.25,341.59 216.43,341.52 216.61,341.46 216.79,341.39 216.97,341.33 217.15,341.27 217.33,341.20 217.50,341.14 217.68,341.07 217.86,341.01 218.03,340.95 218.20,340.88 218.38,340.82 218.55,340.76 218.72,340.69 218.89,340.63 219.06,340.57 219.23,340.50 219.39,340.44 219.56,340.38 219.73,340.32 219.89,340.25 220.06,340.19 220.22,340.13 220.38,340.07 220.55,340.01 220.71,339.95 220.87,339.88 221.03,339.82 221.19,339.76 221.35,339.70 221.50,339.64 221.66,339.58 221.82,339.52 221.97,339.46 222.13,339.40 222.28,339.34 222.43,339.28 222.59,339.22 222.74,339.16 222.89,339.10 223.04,339.04 223.19,338.99 223.33,338.93 223.48,338.87 223.63,338.81 223.77,338.75 223.92,338.70 224.06,338.64 224.21,338.58 224.35,338.52 224.49,338.47 224.63,338.41 224.77,338.35 224.91,338.30 225.05,338.24 225.19,338.18 225.32,338.13 225.46,338.07 225.60,338.02 225.73,337.96 225.86,337.91 226.00,337.85 226.13,337.80 226.26,337.74 226.39,337.69 226.52,337.64 226.65,337.58 226.78,337.53 226.91,337.48 227.03,337.42 227.16,337.37 227.29,337.32 227.41,337.27 227.53,337.22 227.66,337.16 227.78,337.11 227.90,337.06 228.02,337.01 228.14,336.96 228.26,336.91 228.38,336.86 228.49,336.81 228.61,336.76 228.73,336.71 228.84,336.66 228.95,336.61 229.07,336.56 229.18,336.51 229.29,336.47 229.40,336.42 229.51,336.37 229.62,336.32 229.73,336.28 229.84,336.23 229.95,336.18 230.05,336.14 230.16,336.09 230.26,336.05 230.37,336.00 230.47,335.96 230.57,335.91 230.67,335.87 230.77,335.82 230.87,335.78 230.97,335.73 231.07,335.69 231.17,335.65 231.27,335.60 231.36,335.56 231.46,335.52 231.55,335.48 231.65,335.44 231.74,335.39 231.83,335.35 231.92,335.31 232.01,335.27 232.10,335.23 232.19,335.19 232.28,335.15 232.37,335.11 232.45,335.07 232.54,335.03 232.62,335.00 232.71,334.96 232.79,334.92 232.87,334.88 232.95,334.85 233.04,334.81 233.12,334.77 233.19,334.74 233.27,334.70 233.35,334.66 233.43,334.63 233.50,334.59 233.58,334.56 233.65,334.53 233.73,334.49 233.80,334.46 233.87,334.42 233.95,334.39 234.02,334.36 234.09,334.33 234.15,334.30 234.22,334.26 234.29,334.23 234.36,334.20 234.42,334.17 234.49,334.14 234.55,334.11 234.62,334.08 234.68,334.05 234.74,334.02 234.80,333.99 234.86,333.97 234.92,333.94 234.98,333.91 235.04,333.88 235.10,333.86 235.15,333.83 235.21,333.80 235.26,333.78 235.32,333.75 235.37,333.73 235.42,333.70 235.48,333.68 235.53,333.65 235.58,333.63 235.63,333.61 235.67,333.58 235.72,333.56 235.77,333.54 235.82,333.52 235.86,333.50 235.91,333.47 235.95,333.45 235.99,333.43 236.03,333.41 236.08,333.39 236.12,333.37 236.16,333.35 236.20,333.34 236.23,333.32 236.27,333.30 236.31,333.28 236.34,333.27 236.38,333.25 236.41,333.23 236.45,333.22 236.48,333.20 236.51,333.19 236.54,333.17 236.57,333.16 236.60,333.14 236.63,333.13 236.66,333.11 236.69,333.10 236.71,333.09 236.74,333.08 236.76,333.06 236.79,333.05 236.81,333.04 236.83,333.03 236.86,333.02 236.88,333.01 236.90,333.00 236.92,332.99 236.94,332.98 236.95,332.97 236.97,332.97 236.99,332.96 237.00,332.95 237.02,332.94 237.03,332.94 237.04,332.93 237.06,332.92 237.07,332.92 237.08,332.91 237.09,332.91 237.10,332.90 237.10,332.90 237.11,332.90 237.12,332.89 237.12,332.89 237.13,332.89 237.13,332.89 237.14,332.88 237.14,332.88 237.14,332.88 237.14,332.88 237.14,332.88" fill="none" stroke="#e8302a" stroke-width="2.0" stroke-linejoin="round" stroke-linecap="round"/>
<polyline points="201.60,346.30 201.90,346.21 202.20,346.11 202.50,346.02 202.79,345.93 203.09,345.83 203.38,345.74 203.68,345.65 203.97,345.55 204.26,345.46 204.55,345.36 204.84,345.27 205.13,345.18 205.42,345.08 205.71,344.99 205.99,344.89 206.28,344.80 206.56,344.70 206.84,344.61 207.12,344.51 207.40,344.42 207.68,344.32 207.96,344.23 208.24,344.13 208.52,344.04 208.79,343.94 209.07,343.85 209.34,343.75 209.61,343.66 209.89,343.56 210.16,343.46 210.43,343.37 210.70,343.27 210.96,343.18 211.23,343.08 211.50,342.99 211.76,342.89 212.02,342.79 212.29,342.70 212.55,342.60 212.81,342.51 213.07,342.41 213.33,342.31 213.59,342.22 213.84,342.12 214.10,342.03 214.35,341.93 214.61,341.83 214.86,341.74 215.11,341.64 215.36,341.55 215.61,341.45 215.86,341.35 216.11,341.26 216.35,341.16 216.60,341.07 216.84,340.97 217.09,340.88 217.33,340.78 217.57,340.68 217.81,340.59 218.05,340.49 218.29,340.40 218.53,340.30 218.77,340.21 219.00,340.11 219.24,340.02 219.47,339.92 219.70,339.83 219.93,339.73 220.17,339.63 220.39,339.54 220.62,339.45 220.85,339.35 221.08,339.26 221.30,339.16 221.53,339.07 221.75,338.97 221.97,338.88 222.20,338.78 222.42,338.69 222.64,338.60 222.86,338.50 223.07,338.41 223.29,338.31 223.51,338.22 223.72,338.13 223.93,338.03 224.15,337.94 224.36,337.85 224.57,337.76 224.78,337.66 224.99,337.57 225.19,337.48 225.40,337.39 225.61,337.29 225.81,337.20 226.02,337.11 226.22,337.02 226.42,336.93 226.62,336.84 226.82,336.74 227.02,336.65 227.22,336.56 227.41,336.47 227.61,336.38 227.80,336.29 228.00,336.20 228.19,336.11 228.38,336.02 228.57,335.93 228.76,335.84 228.95,335.76 229.14,335.67 229.32,335.58 229.51,335.49 229.69,335.40 229.88,335.32 230.06,335.23 230.24,335.14 230.42,335.05 230.60,334.97 230.78,334.88 230.96,334.79 231.14,334.71 231.31,334.62 231.49,334.54 231.66,334.45 231.83,334.37 232.00,334.28 232.17,334.20 232.34,334.11 232.51,334.03 232.68,333.95 232.85,333.86 233.01,333.78 233.18,333.70 233.34,333.61 233.50,333.53 233.67,333.45 233.83,333.37 233.99,333.29 234.14,333.21 234.30,333.13 234.46,333.05 234.61,332.97 234.77,332.89 234.92,332.81 235.08,332.73 235.23,332.65 235.38,332.57 235.53,332.49 235.68,332.42 235.82,332.34 235.97,332.26 236.12,332.18 236.26,332.11 236.40,332.03 236.55,331.96 236.69,331.88 236.83,331.81 236.97,331.73 237.11,331.66 237.24,331.59 237.38,331.51 237.52,331.44 237.65,331.37 237.78,331.30 237.92,331.22 238.05,331.15 238.18,331.08 238.31,331.01 238.44,330.94 238.57,330.87 238.69,330.80 238.82,330.73 238.94,330.66 239.07,330.60 239.19,330.53 239.31,330.46 239.43,330.40 239.55,330.33 239.67,330.26 239.79,330.20 239.90,330.13 240.02,330.07 240.13,330.00 240.25,329.94 240.36,329.88 240.47,329.81 240.58,329.75 240.69,329.69 240.80,329.63 240.91,329.57 241.01,329.51 241.12,329.45 241.22,329.39 241.33,329.33 241.43,329.27 241.53,329.21 241.63,329.15 241.73,329.10 241.83,329.04 241.93,328.98 242.02,328.93 242.12,328.87 242.21,328.82 242.31,328.77 242.40,328.71 242.49,328.66 242.58,328.61 242.67,328.55 242.76,328.50 242.85,328.45 242.94,328.40 243.02,328.35 243.11,328.30 243.19,328.25 243.27,328.20 243.35,328.16 243.43,328.11 243.51,328.06 243.59,328.01 243.67,327.97 243.75,327.92 243.82,327.88 243.90,327.83 243.97,327.79 244.04,327.75 244.11,327.70 244.18,327.66 244.25,327.62 244.32,327.58 244.39,327.54 244.46,327.50 244.52,327.46 244.59,327.42 244.65,327.38 244.71,327.35 244.77,327.31 244.83,327.27 244.89,327.24 244.95,327.20 245.01,327.17 245.07,327.13 245.12,327.10 245.18,327.07 245.23,327.03 245.28,327.00 245.33,326.97 245.39,326.94 245.43,326.91 245.48,326.88 245.53,326.85 245.58,326.82 245.62,326.79 245.67,326.77 245.71,326.74 245.75,326.71 245.80,326.69 245.84,326.66 245.88,326.64 245.91,326.62 245.95,326.59 245.99,326.57 246.02,326.55 246.06,326.53 246.09,326.51 246.12,326.49 246.16,326.47 246.19,326.45 246.22,326.43 246.24,326.41 246.27,326.40 246.30,326.38 246.32,326.36 246.35,326.35 246.37,326.34 246.39,326.32 246.42,326.31 246.44,326.30 246.46,326.28 246.47,326.27 246.49,326.26 246.51,326.25 246.52,326.24 246.54,326.23 246.55,326.22 246.56,326.22 246.58,326.21 246.59,326.20 246.60,326.20 246.60,326.19 246.61,326.19 246.62,326.18 246.62,326.18 246.63,326.18 246.63,326.17 246.63,326.17 246.64,326.17 246.64,326.17" fill="none" stroke="#e8302a" stroke-width="2.0" stroke-linejoin="round" stroke-linecap="round"/>
<circle cx="65.99" cy="301.57" r="1.1" fill="#e8302a" fill-opacity="0.75"/>
<circle cx="65.60" cy="299.00" r="1.1" fill="#e8302a" fill-opacity="0.75"/>
<circle cx="65.29" cy="296.41" r="1.1" fill="#e8302a" fill-opacity="0.75"/>
<circle cx="64.88" cy="291.23" r="1.1" fill="#e8302a" fill-opacity="0.75"/>
<circle cx="64.75" cy="288.63" r="1.1" fill="#e8302a" fill-opacity="0.75"/>
<circle cx="64.56" cy="283.40" r="1.1" fill="#e8302a" fill-opacity="0.75"/>
<circle cx="64.45" cy="278.16" r="1.1" fill="#e8302a" fill-opacity="0.75"/>
<circle cx="64.37" cy="270.28" r="1.1" fill="#e8302a" fill-opacity="0.75"/>
<circle cx="64.35" cy="267.59" r="1.1" fill="#e8302a" fill-opacity="0.75"/>
<circle cx="64.33" cy="262.15" r="1.1" fill="#e8302a" fill-opacity="0.75"/>
<circle cx="64.32" cy="259.35" r="1.1" fill="#e8302a" fill-opacity="0.75"/>
<circle cx="64.31" cy="253.78" r="1.1" fill="#e8302a" fill-opacity="0.75"/>
<circle cx="64.31" cy="250.68" r="1.1" fill="#e8302a" fill-opacity="0.75"/>
<circle cx="64.30" cy="241.10" r="1.1" fill="#e8302a" fill-opacity="0.75"/>
<circle cx="64.30" cy="237.13" r="1.1" fill="#e8302a" fill-opacity="0.75"/>
<circle cx="64.30" cy="223.29" r="1.1" fill="#e8302a" fill-opacity="0.75"/>
<circle cx="337.21" cy="301.57" r="1.1" fill="#e8302a" fill-opacity="0.75"/>
<circle cx="337.60" cy="299.00" r="1.1" fill="#e8302a" fill-opacity="0.75"/>
<circle cx="337.91" cy="296.41" r="1.1" fill="#e8302a" fill-opacity="0.75"/>
<circle cx="338.14" cy="293.82" r="1.1" fill="#e8302a" fill-opacity="0.75"/>
<circle cx="338.32" cy="291.23" r="1.1" fill="#e8302a" fill-opacity="0.75"/>
<circle cx="338.45" cy="288.62" r="1.1" fill="#e8302a" fill-opacity="0.75"/>
<circle cx="68.62" cy="279.10" r="1.1" fill="#e8302a" fill-opacity="0.75"/>
<circle cx="68.13" cy="276.75" r="1.1" fill="#e8302a" fill-opacity="0.75"/>
<circle cx="67.69" cy="274.39" r="1.1" fill="#e8302a" fill-opacity="0.75"/>
<circle cx="67.30" cy="272.01" r="1.1" fill="#e8302a" fill-opacity="0.75"/>
<circle cx="66.95" cy="269.64" r="1.1" fill="#e8302a" fill-opacity="0.75"/>
<circle cx="66.65" cy="267.25" r="1.1" fill="#e8302a" fill-opacity="0.75"/>
<circle cx="66.37" cy="264.86" r="1.1" fill="#e8302a" fill-opacity="0.75"/>
<circle cx="66.13" cy="262.46" r="1.1" fill="#e8302a" fill-opacity="0.75"/>
<circle cx="65.92" cy="260.06" r="1.1" fill="#e8302a" fill-opacity="0.75"/>
<circle cx="334.56" cy="279.21" r="1.1" fill="#e8302a" fill-opacity="0.75"/>
<circle cx="335.17" cy="276.27" r="1.1" fill="#e8302a" fill-opacity="0.75"/>
<circle cx="335.69" cy="273.31" r="1.1" fill="#e8302a" fill-opacity="0.75"/>
<circle cx="336.54" cy="267.37" r="1.1" fill="#e8302a" fill-opacity="0.75"/>
<circle cx="336.88" cy="264.38" r="1.1" fill="#e8302a" fill-opacity="0.75"/>
<circle cx="113.57" cy="256.84" r="1.1" fill="#e8302a" fill-opacity="0.75"/>
<circle cx="113.11" cy="255.84" r="1.1" fill="#e8302a" fill-opacity="0.75"/>
<circle cx="112.66" cy="254.83" r="1.1" fill="#e8302a" fill-opacity="0.75"/>
<circle cx="112.20" cy="253.82" r="1.1" fill="#e8302a" fill-opacity="0.75"/>
<circle cx="111.76" cy="252.81" r="1.1" fill="#e8302a" fill-opacity="0.75"/>
<circle cx="111.32" cy="251.80" r="1.1" fill="#e8302a" fill-opacity="0.75"/>
<circle cx="110.88" cy="250.79" r="1.1" fill="#e8302a" fill-opacity="0.75"/>
<circle cx="110.44" cy="249.77" r="1.1" fill="#e8302a" fill-opacity="0.75"/>
<circle cx="110.01" cy="248.75" r="1.1" fill="#e8302a" fill-opacity="0.75"/>
<circle cx="109.58" cy="247.73" r="1.1" fill="#e8302a" fill-opacity="0.75"/>
<circle cx="109.16" cy="246.70" r="1.1" fill="#e8302a" fill-opacity="0.75"/>
<circle cx="108.74" cy="245.68" r="1.1" fill="#e8302a" fill-opacity="0.75"/>
<circle cx="108.32" cy="244.66" r="1.1" fill="#e8302a" fill-opacity="0.75"/>
<circle cx="107.91" cy="243.63" r="1.1" fill="#e8302a" fill-opacity="0.75"/>
<circle cx="107.51" cy="242.61" r="1.1" fill="#e8302a" fill-opacity="0.75"/>
<circle cx="107.10" cy="241.58" r="1.1" fill="#e8302a" fill-opacity="0.75"/>
<circle cx="106.70" cy="240.54" r="1.1" fill="#e8302a" fill-opacity="0.75"/>
<circle cx="106.30" cy="239.51" r="1.1" fill="#e8302a" fill-opacity="0.75"/>
<circle cx="105.91" cy="238.47" r="1.1" fill="#e8302a" fill-opacity="0.75"/>
<circle cx="105.52" cy="237.44" r="1.1" fill="#e8302a" fill-opacity="0.75"/>
<circle cx="104.76" cy="235.37" r="1.1" fill="#e8302a" fill-opacity="0.75"/>
<circle cx="104.01" cy="233.28" r="1.1" fill="#e8302a" fill-opacity="0.75"/>
<circle cx="103.64" cy="232.25" r="1.1" fill="#e8302a" fill-opacity="0.75"/>
<circle cx="103.27" cy="231.20" r="1.1" fill="#e8302a" fill-opacity="0.75"/>
<circle cx="102.91" cy="230.15" r="1.1" fill="#e8302a" fill-opacity="0.75"/>
<circle cx="102.55" cy="229.10" r="1.1" fill="#e8302a" fill-opacity="0.75"/>
<circle cx="102.19" cy="228.06" r="1.1" fill="#e8302a" fill-opacity="0.75"/>
<circle cx="101.83" cy="227.00" r="1.1" fill="#e8302a" fill-opacity="0.75"/>
<circle cx="101.48" cy="225.95" r="1.1" fill="#e8302a" fill-opacity="0.75"/>
<circle cx="101.14" cy="224.90" r="1.1" fill="#e8302a" fill-opacity="0.75"/>
<circle cx="100.80" cy="223.85" r="1.1" fill="#e8302a" fill-opacity="0.75"/>
<circle cx="100.45" cy="222.79" r="1.1" fill="#e8302a" fill-opacity="0.75"/>
<circle cx="100.12" cy="221.73" r="1.1" fill="#e8302a" fill-opacity="0.75"/>
<circle cx="276.48" cy="281.44" r="1.1" fill="#e8302a" fill-opacity="0.75"/>
<circle cx="277.64" cy="279.56" r="1.1" fill="#e8302a" fill-opacity="0.75"/>
<circle cx="278.20" cy="278.61" r="1.1" fill="#e8302a" fill-opacity="0.75"/>
<circle cx="278.77" cy="277.66" r="1.1" fill="#e8302a" fill-opacity="0.75"/>
<circle cx="279.33" cy="276.71" r="1.1" fill="#e8302a" fill-opacity="0.75"/>
<circle cx="279.88" cy="275.75" r="1.1" fill="#e8302a" fill-opacity="0.75"/>
<circle cx="280.43" cy="274.80" r="1.1" fill="#e8302a" fill-opacity="0.75"/>
<circle cx="280.98" cy="273.83" r="1.1" fill="#e8302a" fill-opacity="0.75"/>
<circle cx="281.52" cy="272.86" r="1.1" fill="#e8302a" fill-opacity="0.75"/>
<circle cx="282.58" cy="270.92" r="1.1" fill="#e8302a" fill-opacity="0.75"/>
<circle cx="283.11" cy="269.95" r="1.1" fill="#e8302a" fill-opacity="0.75"/>
<circle cx="284.15" cy="268.00" r="1.1" fill="#e8302a" fill-opacity="0.75"/>
<circle cx="284.66" cy="267.01" r="1.1" fill="#e8302a" fill-opacity="0.75"/>
<circle cx="285.17" cy="266.02" r="1.1" fill="#e8302a" fill-opacity="0.75"/>
<circle cx="286.66" cy="263.05" r="1.1" fill="#e8302a" fill-opacity="0.75"/>
<circle cx="287.15" cy="262.06" r="1.1" fill="#e8302a" fill-opacity="0.75"/>
<circle cx="287.63" cy="261.07" r="1.1" fill="#e8302a" fill-opacity="0.75"/>
<circle cx="288.11" cy="260.07" r="1.1" fill="#e8302a" fill-opacity="0.75"/>
<circle cx="289.06" cy="258.08" r="1.1" fill="#e8302a" fill-opacity="0.75"/>
<circle cx="289.52" cy="257.07" r="1.1" fill="#e8302a" fill-opacity="0.75"/>
<circle cx="289.98" cy="256.07" r="1.1" fill="#e8302a" fill-opacity="0.75"/>
<circle cx="290.45" cy="255.05" r="1.1" fill="#e8302a" fill-opacity="0.75"/>
<circle cx="290.90" cy="254.04" r="1.1" fill="#e8302a" fill-opacity="0.75"/>
<circle cx="291.35" cy="253.03" r="1.1" fill="#e8302a" fill-opacity="0.75"/>
<circle cx="291.80" cy="252.01" r="1.1" fill="#e8302a" fill-opacity="0.75"/>
<circle cx="292.24" cy="250.99" r="1.1" fill="#e8302a" fill-opacity="0.75"/>
<circle cx="292.67" cy="249.98" r="1.1" fill="#e8302a" fill-opacity="0.75"/>
<circle cx="293.11" cy="248.95" r="1.1" fill="#e8302a" fill-opacity="0.75"/>
<circle cx="293.54" cy="247.93" r="1.1" fill="#e8302a" fill-opacity="0.75"/>
<circle cx="294.79" cy="244.86" r="1.1" fill="#e8302a" fill-opacity="0.75"/>
<circle cx="295.21" cy="243.83" r="1.1" fill="#e8302a" fill-opacity="0.75"/>
<circle cx="296.03" cy="241.76" r="1.1" fill="#e8302a" fill-opacity="0.75"/>
<circle cx="144.06" cy="314.99" r="1.1" fill="#e8302a" fill-opacity="0.75"/>
<circle cx="142.39" cy="313.56" r="1.1" fill="#e8302a" fill-opacity="0.75"/>
<circle cx="139.08" cy="310.62" r="1.1" fill="#e8302a" fill-opacity="0.75"/>
<circle cx="135.86" cy="307.58" r="1.1" fill="#e8302a" fill-opacity="0.75"/>
<circle cx="134.28" cy="306.02" r="1.1" fill="#e8302a" fill-opacity="0.75"/>
<circle cx="132.74" cy="304.45" r="1.1" fill="#e8302a" fill-opacity="0.75"/>
<circle cx="131.21" cy="302.86" r="1.1" fill="#e8302a" fill-opacity="0.75"/>
<circle cx="128.22" cy="299.59" r="1.1" fill="#e8302a" fill-opacity="0.75"/>
<circle cx="126.76" cy="297.93" r="1.1" fill="#e8302a" fill-opacity="0.75"/>
<circle cx="125.33" cy="296.25" r="1.1" fill="#e8302a" fill-opacity="0.75"/>
<circle cx="123.92" cy="294.55" r="1.1" fill="#e8302a" fill-opacity="0.75"/>
<circle cx="121.16" cy="291.07" r="1.1" fill="#e8302a" fill-opacity="0.75"/>
<circle cx="118.51" cy="287.52" r="1.1" fill="#e8302a" fill-opacity="0.75"/>
<circle cx="117.21" cy="285.71" r="1.1" fill="#e8302a" fill-opacity="0.75"/>
<circle cx="115.95" cy="283.90" r="1.1" fill="#e8302a" fill-opacity="0.75"/>
<circle cx="114.70" cy="282.05" r="1.1" fill="#e8302a" fill-opacity="0.75"/>
<circle cx="113.49" cy="280.21" r="1.1" fill="#e8302a" fill-opacity="0.75"/>
<circle cx="112.30" cy="278.34" r="1.1" fill="#e8302a" fill-opacity="0.75"/>
<circle cx="111.13" cy="276.46" r="1.1" fill="#e8302a" fill-opacity="0.75"/>
<circle cx="109.99" cy="274.56" r="1.1" fill="#e8302a" fill-opacity="0.75"/>
<circle cx="107.78" cy="270.74" r="1.1" fill="#e8302a" fill-opacity="0.75"/>
<circle cx="105.65" cy="266.84" r="1.1" fill="#e8302a" fill-opacity="0.75"/>
<circle cx="104.62" cy="264.87" r="1.1" fill="#e8302a" fill-opacity="0.75"/>
<circle cx="103.61" cy="262.88" r="1.1" fill="#e8302a" fill-opacity="0.75"/>
<circle cx="102.63" cy="260.90" r="1.1" fill="#e8302a" fill-opacity="0.75"/>
<circle cx="99.81" cy="254.84" r="1.1" fill="#e8302a" fill-opacity="0.75"/>
<circle cx="98.91" cy="252.81" r="1.1" fill="#e8302a" fill-opacity="0.75"/>
<circle cx="98.03" cy="250.75" r="1.1" fill="#e8302a" fill-opacity="0.75"/>
<circle cx="97.19" cy="248.72" r="1.1" fill="#e8302a" fill-opacity="0.75"/>
<circle cx="96.36" cy="246.67" r="1.1" fill="#e8302a" fill-opacity="0.75"/>
<circle cx="95.54" cy="244.60" r="1.1" fill="#e8302a" fill-opacity="0.75"/>
<circle cx="94.74" cy="242.52" r="1.1" fill="#e8302a" fill-opacity="0.75"/>
<circle cx="140.40" cy="308.98" r="1.1" fill="#e8302a" fill-opacity="0.75"/>
<circle cx="138.83" cy="307.42" r="1.1" fill="#e8302a" fill-opacity="0.75"/>
<circle cx="137.29" cy="305.84" r="1.1" fill="#e8302a" fill-opacity="0.75"/>
<circle cx="135.77" cy="304.24" r="1.1" fill="#e8302a" fill-opacity="0.75"/>
<circle cx="134.27" cy="302.62" r="1.1" fill="#e8302a" fill-opacity="0.75"/>
<circle cx="132.80" cy="300.98" r="1.1" fill="#e8302a" fill-opacity="0.75"/>
<circle cx="129.91" cy="297.63" r="1.1" fill="#e8302a" fill-opacity="0.75"/>
<circle cx="127.11" cy="294.19" r="1.1" fill="#e8302a" fill-opacity="0.75"/>
<circle cx="125.76" cy="292.45" r="1.1" fill="#e8302a" fill-opacity="0.75"/>
<circle cx="124.41" cy="290.69" r="1.1" fill="#e8302a" fill-opacity="0.75"/>
<circle cx="121.80" cy="287.10" r="1.1" fill="#e8302a" fill-opacity="0.75"/>
<circle cx="120.53" cy="285.29" r="1.1" fill="#e8302a" fill-opacity="0.75"/>
<circle cx="119.29" cy="283.47" r="1.1" fill="#e8302a" fill-opacity="0.75"/>
<circle cx="118.06" cy="281.61" r="1.1" fill="#e8302a" fill-opacity="0.75"/>
<circle cx="116.87" cy="279.75" r="1.1" fill="#e8302a" fill-opacity="0.75"/>
<circle cx="115.68" cy="277.87" r="1.1" fill="#e8302a" fill-opacity="0.75"/>
<circle cx="114.53" cy="275.98" r="1.1" fill="#e8302a" fill-opacity="0.75"/>
<circle cx="113.40" cy="274.08" r="1.1" fill="#e8302a" fill-opacity="0.75"/>
<circle cx="112.29" cy="272.16" r="1.1" fill="#e8302a" fill-opacity="0.75"/>
<circle cx="111.21" cy="270.24" r="1.1" fill="#e8302a" fill-opacity="0.75"/>
<circle cx="108.08" cy="264.37" r="1.1" fill="#e8302a" fill-opacity="0.75"/>
<circle cx="107.08" cy="262.40" r="1.1" fill="#e8302a" fill-opacity="0.75"/>
<circle cx="105.15" cy="258.42" r="1.1" fill="#e8302a" fill-opacity="0.75"/>
<circle cx="104.21" cy="256.41" r="1.1" fill="#e8302a" fill-opacity="0.75"/>
<circle cx="102.39" cy="252.36" r="1.1" fill="#e8302a" fill-opacity="0.75"/>
<circle cx="101.51" cy="250.32" r="1.1" fill="#e8302a" fill-opacity="0.75"/>
<circle cx="100.65" cy="248.26" r="1.1" fill="#e8302a" fill-opacity="0.75"/>
<circle cx="99.81" cy="246.22" r="1.1" fill="#e8302a" fill-opacity="0.75"/>
<circle cx="98.99" cy="244.16" r="1.1" fill="#e8302a" fill-opacity="0.75"/>
<circle cx="138.75" cy="304.41" r="1.1" fill="#e8302a" fill-opacity="0.75"/>
<circle cx="135.82" cy="301.11" r="1.1" fill="#e8302a" fill-opacity="0.75"/>
<circle cx="131.60" cy="296.00" r="1.1" fill="#e8302a" fill-opacity="0.75"/>
<circle cx="130.24" cy="294.27" r="1.1" fill="#e8302a" fill-opacity="0.75"/>
<circle cx="128.89" cy="292.51" r="1.1" fill="#e8302a" fill-opacity="0.75"/>
<circle cx="127.57" cy="290.73" r="1.1" fill="#e8302a" fill-opacity="0.75"/>
<circle cx="126.28" cy="288.95" r="1.1" fill="#e8302a" fill-opacity="0.75"/>
<circle cx="125.00" cy="287.14" r="1.1" fill="#e8302a" fill-opacity="0.75"/>
<circle cx="123.75" cy="285.31" r="1.1" fill="#e8302a" fill-opacity="0.75"/>
<circle cx="122.52" cy="283.48" r="1.1" fill="#e8302a" fill-opacity="0.75"/>
<circle cx="121.31" cy="281.62" r="1.1" fill="#e8302a" fill-opacity="0.75"/>
<circle cx="120.12" cy="279.75" r="1.1" fill="#e8302a" fill-opacity="0.75"/>
<circle cx="117.82" cy="275.97" r="1.1" fill="#e8302a" fill-opacity="0.75"/>
<circle cx="116.70" cy="274.07" r="1.1" fill="#e8302a" fill-opacity="0.75"/>
<circle cx="115.59" cy="272.14" r="1.1" fill="#e8302a" fill-opacity="0.75"/>
<circle cx="113.46" cy="268.27" r="1.1" fill="#e8302a" fill-opacity="0.75"/>
<circle cx="112.42" cy="266.31" r="1.1" fill="#e8302a" fill-opacity="0.75"/>
<circle cx="111.41" cy="264.35" r="1.1" fill="#e8302a" fill-opacity="0.75"/>
<circle cx="110.41" cy="262.37" r="1.1" fill="#e8302a" fill-opacity="0.75"/>
<circle cx="109.44" cy="260.39" r="1.1" fill="#e8302a" fill-opacity="0.75"/>
<circle cx="108.48" cy="258.39" r="1.1" fill="#e8302a" fill-opacity="0.75"/>
<circle cx="107.54" cy="256.39" r="1.1" fill="#e8302a" fill-opacity="0.75"/>
<circle cx="106.63" cy="254.38" r="1.1" fill="#e8302a" fill-opacity="0.75"/>
<circle cx="105.72" cy="252.34" r="1.1" fill="#e8302a" fill-opacity="0.75"/>
<circle cx="104.84" cy="250.32" r="1.1" fill="#e8302a" fill-opacity="0.75"/>
<circle cx="103.97" cy="248.27" r="1.1" fill="#e8302a" fill-opacity="0.75"/>
<circle cx="103.12" cy="246.21" r="1.1" fill="#e8302a" fill-opacity="0.75"/>
<circle cx="102.29" cy="244.16" r="1.1" fill="#e8302a" fill-opacity="0.75"/>
<circle cx="101.48" cy="242.09" r="1.1" fill="#e8302a" fill-opacity="0.75"/>
<circle cx="100.68" cy="240.01" r="1.1" fill="#e8302a" fill-opacity="0.75"/>
<circle cx="138.79" cy="301.57" r="1.1" fill="#e8302a" fill-opacity="0.75"/>
<circle cx="135.98" cy="298.16" r="1.1" fill="#e8302a" fill-opacity="0.75"/>
<circle cx="134.61" cy="296.43" r="1.1" fill="#e8302a" fill-opacity="0.75"/>
<circle cx="131.93" cy="292.91" r="1.1" fill="#e8302a" fill-opacity="0.75"/>
<circle cx="130.63" cy="291.12" r="1.1" fill="#e8302a" fill-opacity="0.75"/>
<circle cx="129.35" cy="289.33" r="1.1" fill="#e8302a" fill-opacity="0.75"/>
<circle cx="128.09" cy="287.51" r="1.1" fill="#e8302a" fill-opacity="0.75"/>
<circle cx="126.85" cy="285.68" r="1.1" fill="#e8302a" fill-opacity="0.75"/>
<circle cx="125.64" cy="283.84" r="1.1" fill="#e8302a" fill-opacity="0.75"/>
<circle cx="123.26" cy="280.10" r="1.1" fill="#e8302a" fill-opacity="0.75"/>
<circle cx="122.11" cy="278.22" r="1.1" fill="#e8302a" fill-opacity="0.75"/>
<circle cx="120.97" cy="276.31" r="1.1" fill="#e8302a" fill-opacity="0.75"/>
<circle cx="119.86" cy="274.40" r="1.1" fill="#e8302a" fill-opacity="0.75"/>
<circle cx="118.77" cy="272.49" r="1.1" fill="#e8302a" fill-opacity="0.75"/>
<circle cx="116.65" cy="268.61" r="1.1" fill="#e8302a" fill-opacity="0.75"/>
<circle cx="115.61" cy="266.65" r="1.1" fill="#e8302a" fill-opacity="0.75"/>
<circle cx="113.60" cy="262.70" r="1.1" fill="#e8302a" fill-opacity="0.75"/>
<circle cx="112.63" cy="260.71" r="1.1" fill="#e8302a" fill-opacity="0.75"/>
<circle cx="111.67" cy="258.71" r="1.1" fill="#e8302a" fill-opacity="0.75"/>
<circle cx="110.73" cy="256.71" r="1.1" fill="#e8302a" fill-opacity="0.75"/>
<circle cx="108.91" cy="252.68" r="1.1" fill="#e8302a" fill-opacity="0.75"/>
<circle cx="108.03" cy="250.65" r="1.1" fill="#e8302a" fill-opacity="0.75"/>
<circle cx="107.16" cy="248.61" r="1.1" fill="#e8302a" fill-opacity="0.75"/>
<circle cx="106.31" cy="246.57" r="1.1" fill="#e8302a" fill-opacity="0.75"/>
<circle cx="105.48" cy="244.52" r="1.1" fill="#e8302a" fill-opacity="0.75"/>
<circle cx="104.65" cy="242.45" r="1.1" fill="#e8302a" fill-opacity="0.75"/>
<circle cx="103.86" cy="240.40" r="1.1" fill="#e8302a" fill-opacity="0.75"/>
<circle cx="102.30" cy="236.26" r="1.1" fill="#e8302a" fill-opacity="0.75"/>
<circle cx="101.54" cy="234.16" r="1.1" fill="#e8302a" fill-opacity="0.75"/>
<circle cx="266.13" cy="308.74" r="1.1" fill="#e8302a" fill-opacity="0.75"/>
<circle cx="268.00" cy="306.93" r="1.1" fill="#e8302a" fill-opacity="0.75"/>
<circle cx="273.45" cy="301.29" r="1.1" fill="#e8302a" fill-opacity="0.75"/>
<circle cx="275.20" cy="299.35" r="1.1" fill="#e8302a" fill-opacity="0.75"/>
<circle cx="276.91" cy="297.39" r="1.1" fill="#e8302a" fill-opacity="0.75"/>
<circle cx="278.59" cy="295.39" r="1.1" fill="#e8302a" fill-opacity="0.75"/>
<circle cx="280.23" cy="293.37" r="1.1" fill="#e8302a" fill-opacity="0.75"/>
<circle cx="281.85" cy="291.31" r="1.1" fill="#e8302a" fill-opacity="0.75"/>
<circle cx="283.43" cy="289.23" r="1.1" fill="#e8302a" fill-opacity="0.75"/>
<circle cx="284.98" cy="287.13" r="1.1" fill="#e8302a" fill-opacity="0.75"/>
<circle cx="289.42" cy="280.66" r="1.1" fill="#e8302a" fill-opacity="0.75"/>
<circle cx="294.86" cy="271.73" r="1.1" fill="#e8302a" fill-opacity="0.75"/>
<circle cx="298.60" cy="264.83" r="1.1" fill="#e8302a" fill-opacity="0.75"/>
<circle cx="299.78" cy="262.49" r="1.1" fill="#e8302a" fill-opacity="0.75"/>
<circle cx="300.93" cy="260.15" r="1.1" fill="#e8302a" fill-opacity="0.75"/>
<circle cx="265.71" cy="306.04" r="1.1" fill="#e8302a" fill-opacity="0.75"/>
<circle cx="267.51" cy="304.15" r="1.1" fill="#e8302a" fill-opacity="0.75"/>
<circle cx="271.02" cy="300.28" r="1.1" fill="#e8302a" fill-opacity="0.75"/>
<circle cx="277.63" cy="292.22" r="1.1" fill="#e8302a" fill-opacity="0.75"/>
<circle cx="282.25" cy="285.89" r="1.1" fill="#e8302a" fill-opacity="0.75"/>
<circle cx="285.17" cy="281.56" r="1.1" fill="#e8302a" fill-opacity="0.75"/>
<circle cx="289.30" cy="274.92" r="1.1" fill="#e8302a" fill-opacity="0.75"/>
<circle cx="290.62" cy="272.66" r="1.1" fill="#e8302a" fill-opacity="0.75"/>
<circle cx="291.91" cy="270.39" r="1.1" fill="#e8302a" fill-opacity="0.75"/>
<circle cx="294.38" cy="265.79" r="1.1" fill="#e8302a" fill-opacity="0.75"/>
<circle cx="295.58" cy="263.47" r="1.1" fill="#e8302a" fill-opacity="0.75"/>
<circle cx="270.34" cy="297.57" r="1.1" fill="#e8302a" fill-opacity="0.75"/>
<circle cx="271.98" cy="295.53" r="1.1" fill="#e8302a" fill-opacity="0.75"/>
<circle cx="273.57" cy="293.48" r="1.1" fill="#e8302a" fill-opacity="0.75"/>
<circle cx="276.67" cy="289.29" r="1.1" fill="#e8302a" fill-opacity="0.75"/>
<circle cx="278.18" cy="287.17" r="1.1" fill="#e8302a" fill-opacity="0.75"/>
<circle cx="279.65" cy="285.02" r="1.1" fill="#e8302a" fill-opacity="0.75"/>
<circle cx="281.09" cy="282.84" r="1.1" fill="#e8302a" fill-opacity="0.75"/>
<circle cx="286.56" cy="273.96" r="1.1" fill="#e8302a" fill-opacity="0.75"/>
<circle cx="289.11" cy="269.42" r="1.1" fill="#e8302a" fill-opacity="0.75"/>
<circle cx="290.35" cy="267.11" r="1.1" fill="#e8302a" fill-opacity="0.75"/>
<circle cx="291.56" cy="264.79" r="1.1" fill="#e8302a" fill-opacity="0.75"/>
<circle cx="292.74" cy="262.46" r="1.1" fill="#e8302a" fill-opacity="0.75"/>
<circle cx="293.89" cy="260.12" r="1.1" fill="#e8302a" fill-opacity="0.75"/>
<circle cx="268.06" cy="297.10" r="1.1" fill="#e8302a" fill-opacity="0.75"/>
<circle cx="272.77" cy="290.85" r="1.1" fill="#e8302a" fill-opacity="0.75"/>
<circle cx="278.61" cy="282.21" r="1.1" fill="#e8302a" fill-opacity="0.75"/>
<circle cx="281.36" cy="277.78" r="1.1" fill="#e8302a" fill-opacity="0.75"/>
<circle cx="282.68" cy="275.53" r="1.1" fill="#e8302a" fill-opacity="0.75"/>
<circle cx="287.72" cy="266.39" r="1.1" fill="#e8302a" fill-opacity="0.75"/>
<circle cx="288.91" cy="264.08" r="1.1" fill="#e8302a" fill-opacity="0.75"/>
<circle cx="290.07" cy="261.73" r="1.1" fill="#e8302a" fill-opacity="0.75"/>
<circle cx="293.41" cy="254.64" r="1.1" fill="#e8302a" fill-opacity="0.75"/>
<circle cx="294.48" cy="252.25" r="1.1" fill="#e8302a" fill-opacity="0.75"/>
<circle cx="295.51" cy="249.86" r="1.1" fill="#e8302a" fill-opacity="0.75"/>
<circle cx="192.79" cy="344.06" r="1.1" fill="#e8302a" fill-opacity="0.75"/>
<circle cx="189.59" cy="343.19" r="1.1" fill="#e8302a" fill-opacity="0.75"/>
<circle cx="186.38" cy="342.28" r="1.1" fill="#e8302a" fill-opacity="0.75"/>
<circle cx="183.22" cy="341.34" r="1.1" fill="#e8302a" fill-opacity="0.75"/>
<circle cx="180.05" cy="340.37" r="1.1" fill="#e8302a" fill-opacity="0.75"/>
<circle cx="173.75" cy="338.31" r="1.1" fill="#e8302a" fill-opacity="0.75"/>
<circle cx="170.62" cy="337.22" r="1.1" fill="#e8302a" fill-opacity="0.75"/>
<circle cx="167.49" cy="336.09" r="1.1" fill="#e8302a" fill-opacity="0.75"/>
<circle cx="164.39" cy="334.92" r="1.1" fill="#e8302a" fill-opacity="0.75"/>
<circle cx="155.17" cy="331.14" r="1.1" fill="#e8302a" fill-opacity="0.75"/>
<circle cx="152.14" cy="329.78" r="1.1" fill="#e8302a" fill-opacity="0.75"/>
<circle cx="149.14" cy="328.39" r="1.1" fill="#e8302a" fill-opacity="0.75"/>
<circle cx="146.15" cy="326.93" r="1.1" fill="#e8302a" fill-opacity="0.75"/>
<circle cx="140.26" cy="323.86" r="1.1" fill="#e8302a" fill-opacity="0.75"/>
<circle cx="134.52" cy="320.57" r="1.1" fill="#e8302a" fill-opacity="0.75"/>
<circle cx="128.91" cy="317.03" r="1.1" fill="#e8302a" fill-opacity="0.75"/>
<circle cx="123.43" cy="313.22" r="1.1" fill="#e8302a" fill-opacity="0.75"/>
<circle cx="120.78" cy="311.23" r="1.1" fill="#e8302a" fill-opacity="0.75"/>
<circle cx="118.17" cy="309.16" r="1.1" fill="#e8302a" fill-opacity="0.75"/>
<circle cx="115.62" cy="307.03" r="1.1" fill="#e8302a" fill-opacity="0.75"/>
<circle cx="113.14" cy="304.84" r="1.1" fill="#e8302a" fill-opacity="0.75"/>
<circle cx="106.02" cy="297.79" r="1.1" fill="#e8302a" fill-opacity="0.75"/>
<circle cx="103.78" cy="295.30" r="1.1" fill="#e8302a" fill-opacity="0.75"/>
<circle cx="101.65" cy="292.78" r="1.1" fill="#e8302a" fill-opacity="0.75"/>
<circle cx="99.58" cy="290.19" r="1.1" fill="#e8302a" fill-opacity="0.75"/>
<circle cx="97.59" cy="287.53" r="1.1" fill="#e8302a" fill-opacity="0.75"/>
<circle cx="95.66" cy="284.79" r="1.1" fill="#e8302a" fill-opacity="0.75"/>
<circle cx="93.83" cy="282.03" r="1.1" fill="#e8302a" fill-opacity="0.75"/>
<circle cx="92.08" cy="279.20" r="1.1" fill="#e8302a" fill-opacity="0.75"/>
<circle cx="90.39" cy="276.29" r="1.1" fill="#e8302a" fill-opacity="0.75"/>
<circle cx="210.05" cy="344.06" r="1.1" fill="#e8302a" fill-opacity="0.75"/>
<circle cx="216.41" cy="342.21" r="1.1" fill="#e8302a" fill-opacity="0.75"/>
<circle cx="219.60" cy="341.23" r="1.1" fill="#e8302a" fill-opacity="0.75"/>
<circle cx="222.75" cy="340.21" r="1.1" fill="#e8302a" fill-opacity="0.75"/>
<circle cx="225.89" cy="339.15" r="1.1" fill="#e8302a" fill-opacity="0.75"/>
<circle cx="229.01" cy="338.06" r="1.1" fill="#e8302a" fill-opacity="0.75"/>
<circle cx="232.13" cy="336.93" r="1.1" fill="#e8302a" fill-opacity="0.75"/>
<circle cx="235.24" cy="335.74" r="1.1" fill="#e8302a" fill-opacity="0.75"/>
<circle cx="244.43" cy="331.94" r="1.1" fill="#e8302a" fill-opacity="0.75"/>
<circle cx="247.45" cy="330.58" r="1.1" fill="#e8302a" fill-opacity="0.75"/>
<circle cx="250.46" cy="329.16" r="1.1" fill="#e8302a" fill-opacity="0.75"/>
<circle cx="256.40" cy="326.18" r="1.1" fill="#e8302a" fill-opacity="0.75"/>
<circle cx="259.32" cy="324.61" r="1.1" fill="#e8302a" fill-opacity="0.75"/>
<circle cx="262.21" cy="322.98" r="1.1" fill="#e8302a" fill-opacity="0.75"/>
<circle cx="265.06" cy="321.30" r="1.1" fill="#e8302a" fill-opacity="0.75"/>
<circle cx="267.88" cy="319.56" r="1.1" fill="#e8302a" fill-opacity="0.75"/>
<circle cx="273.43" cy="315.88" r="1.1" fill="#e8302a" fill-opacity="0.75"/>
<circle cx="276.12" cy="313.96" r="1.1" fill="#e8302a" fill-opacity="0.75"/>
<circle cx="278.77" cy="311.97" r="1.1" fill="#e8302a" fill-opacity="0.75"/>
<circle cx="281.36" cy="309.93" r="1.1" fill="#e8302a" fill-opacity="0.75"/>
<circle cx="283.92" cy="307.80" r="1.1" fill="#e8302a" fill-opacity="0.75"/>
<circle cx="288.84" cy="303.38" r="1.1" fill="#e8302a" fill-opacity="0.75"/>
<circle cx="291.24" cy="301.05" r="1.1" fill="#e8302a" fill-opacity="0.75"/>
<circle cx="293.57" cy="298.65" r="1.1" fill="#e8302a" fill-opacity="0.75"/>
<circle cx="295.83" cy="296.19" r="1.1" fill="#e8302a" fill-opacity="0.75"/>
<circle cx="300.10" cy="291.14" r="1.1" fill="#e8302a" fill-opacity="0.75"/>
<circle cx="302.13" cy="288.51" r="1.1" fill="#e8302a" fill-opacity="0.75"/>
<circle cx="304.10" cy="285.81" r="1.1" fill="#e8302a" fill-opacity="0.75"/>
<circle cx="306.00" cy="283.05" r="1.1" fill="#e8302a" fill-opacity="0.75"/>
<circle cx="307.80" cy="280.26" r="1.1" fill="#e8302a" fill-opacity="0.75"/>
<circle cx="237.14" cy="332.88" r="1.1" fill="#e8302a" fill-opacity="0.75"/>
<circle cx="241.62" cy="330.64" r="1.1" fill="#e8302a" fill-opacity="0.75"/>
<circle cx="250.38" cy="325.80" r="1.1" fill="#e8302a" fill-opacity="0.75"/>
<circle cx="254.65" cy="323.19" r="1.1" fill="#e8302a" fill-opacity="0.75"/>
<circle cx="266.95" cy="314.57" r="1.1" fill="#e8302a" fill-opacity="0.75"/>
<circle cx="270.86" cy="311.43" r="1.1" fill="#e8302a" fill-opacity="0.75"/>
<circle cx="274.66" cy="308.14" r="1.1" fill="#e8302a" fill-opacity="0.75"/>
<circle cx="281.90" cy="301.20" r="1.1" fill="#e8302a" fill-opacity="0.75"/>
<circle cx="285.32" cy="297.53" r="1.1" fill="#e8302a" fill-opacity="0.75"/>
<circle cx="234.78" cy="332.88" r="1.1" fill="#e8302a" fill-opacity="0.75"/>
<circle cx="247.84" cy="325.42" r="1.1" fill="#e8302a" fill-opacity="0.75"/>
<circle cx="264.09" cy="313.65" r="1.1" fill="#e8302a" fill-opacity="0.75"/>
<circle cx="275.18" cy="303.48" r="1.1" fill="#e8302a" fill-opacity="0.75"/>
<circle cx="281.97" cy="296.09" r="1.1" fill="#e8302a" fill-opacity="0.75"/>
<circle cx="288.24" cy="288.26" r="1.1" fill="#e8302a" fill-opacity="0.75"/>
<circle cx="293.98" cy="280.04" r="1.1" fill="#e8302a" fill-opacity="0.75"/>
<circle cx="84.40" cy="179.30" r="1.1" fill="#e8302a" fill-opacity="0.75"/>
<circle cx="88.30" cy="188.80" r="1.1" fill="#e8302a" fill-opacity="0.75"/>
<circle cx="91.90" cy="196.00" r="1.1" fill="#e8302a" fill-opacity="0.75"/>
<circle cx="85.50" cy="199.30" r="1.1" fill="#e8302a" fill-opacity="0.75"/>
<circle cx="93.70" cy="199.70" r="1.1" fill="#e8302a" fill-opacity="0.75"/>
<circle cx="94.70" cy="201.10" r="1.1" fill="#e8302a" fill-opacity="0.75"/>
<circle cx="88.50" cy="204.90" r="1.1" fill="#e8302a" fill-opacity="0.75"/>
<circle cx="94.20" cy="204.10" r="1.1" fill="#e8302a" fill-opacity="0.75"/>
<circle cx="96.70" cy="203.10" r="1.1" fill="#e8302a" fill-opacity="0.75"/>
<circle cx="97.40" cy="205.20" r="1.1" fill="#e8302a" fill-opacity="0.75"/>
<circle cx="89.20" cy="213.80" r="1.1" fill="#e8302a" fill-opacity="0.75"/>
<circle cx="98.10" cy="214.00" r="1.1" fill="#e8302a" fill-opacity="0.75"/>
<circle cx="98.70" cy="216.80" r="1.1" fill="#e8302a" fill-opacity="0.75"/>
<circle cx="73.50" cy="224.70" r="1.1" fill="#e8302a" fill-opacity="0.75"/>
<circle cx="89.50" cy="225.60" r="1.1" fill="#e8302a" fill-opacity="0.75"/>
<circle cx="338.90" cy="184.70" r="1.1" fill="#e8302a" fill-opacity="0.75"/>
<circle cx="320.10" cy="201.40" r="1.1" fill="#e8302a" fill-opacity="0.75"/>
<circle cx="338.90" cy="201.40" r="1.1" fill="#e8302a" fill-opacity="0.75"/>
<circle cx="338.90" cy="203.50" r="1.1" fill="#e8302a" fill-opacity="0.75"/>
<circle cx="302.00" cy="224.20" r="1.1" fill="#e8302a" fill-opacity="0.75"/>
<circle cx="301.10" cy="226.00" r="1.1" fill="#e8302a" fill-opacity="0.75"/>
<circle cx="315.20" cy="221.60" r="1.1" fill="#e8302a" fill-opacity="0.75"/>
<circle cx="306.00" cy="229.90" r="1.1" fill="#e8302a" fill-opacity="0.75"/>
<circle cx="312.90" cy="229.20" r="1.1" fill="#e8302a" fill-opacity="0.75"/>
<circle cx="338.90" cy="219.80" r="1.1" fill="#e8302a" fill-opacity="0.75"/>
<circle cx="338.90" cy="253.40" r="1.1" fill="#e8302a" fill-opacity="0.75"/>
<circle cx="337.20" cy="261.00" r="1.1" fill="#e8302a" fill-opacity="0.75"/>
<circle cx="335.60" cy="275.80" r="1.1" fill="#e8302a" fill-opacity="0.75"/>
<circle cx="64.50" cy="346.30" r="1.1" fill="#e8302a" fill-opacity="0.75"/>
<circle cx="339.00" cy="346.30" r="1.1" fill="#e8302a" fill-opacity="0.75"/>
<circle cx="64.90" cy="232.00" r="1.1" fill="#e8302a" fill-opacity="0.75"/>
<circle cx="64.90" cy="240.00" r="1.1" fill="#e8302a" fill-opacity="0.75"/>
<circle cx="64.80" cy="247.00" r="1.1" fill="#e8302a" fill-opacity="0.75"/>
<circle cx="65.00" cy="253.00" r="1.1" fill="#e8302a" fill-opacity="0.75"/>
<circle cx="65.06" cy="293.82" r="1.1" fill="#5b5ba6" fill-opacity="0.85"/>
<circle cx="64.64" cy="286.01" r="1.1" fill="#5b5ba6" fill-opacity="0.85"/>
<circle cx="64.50" cy="280.79" r="1.1" fill="#5b5ba6" fill-opacity="0.85"/>
<circle cx="64.42" cy="275.53" r="1.1" fill="#5b5ba6" fill-opacity="0.85"/>
<circle cx="64.39" cy="272.89" r="1.1" fill="#5b5ba6" fill-opacity="0.85"/>
<circle cx="64.34" cy="264.90" r="1.1" fill="#5b5ba6" fill-opacity="0.85"/>
<circle cx="64.31" cy="245.07" r="1.1" fill="#5b5ba6" fill-opacity="0.85"/>
<circle cx="64.30" cy="234.29" r="1.1" fill="#5b5ba6" fill-opacity="0.85"/>
<circle cx="64.30" cy="230.27" r="1.1" fill="#5b5ba6" fill-opacity="0.85"/>
<circle cx="338.56" cy="286.02" r="1.1" fill="#5b5ba6" fill-opacity="0.85"/>
<circle cx="69.17" cy="281.44" r="1.1" fill="#5b5ba6" fill-opacity="0.85"/>
<circle cx="337.41" cy="258.39" r="1.1" fill="#5b5ba6" fill-opacity="0.85"/>
<circle cx="186.70" cy="344.91" r="1.1" fill="#5b5ba6" fill-opacity="0.85"/>
<circle cx="181.49" cy="344.39" r="1.1" fill="#5b5ba6" fill-opacity="0.85"/>
<circle cx="145.06" cy="340.18" r="1.1" fill="#5b5ba6" fill-opacity="0.85"/>
<circle cx="124.25" cy="336.98" r="1.1" fill="#5b5ba6" fill-opacity="0.85"/>
<circle cx="119.12" cy="336.04" r="1.1" fill="#5b5ba6" fill-opacity="0.85"/>
<circle cx="116.56" cy="335.54" r="1.1" fill="#5b5ba6" fill-opacity="0.85"/>
<circle cx="114.00" cy="335.02" r="1.1" fill="#5b5ba6" fill-opacity="0.85"/>
<circle cx="108.88" cy="333.90" r="1.1" fill="#5b5ba6" fill-opacity="0.85"/>
<circle cx="98.73" cy="331.25" r="1.1" fill="#5b5ba6" fill-opacity="0.85"/>
<circle cx="73.50" cy="318.12" r="1.1" fill="#5b5ba6" fill-opacity="0.85"/>
<circle cx="71.78" cy="316.09" r="1.1" fill="#5b5ba6" fill-opacity="0.85"/>
<circle cx="211.30" cy="345.41" r="1.1" fill="#5b5ba6" fill-opacity="0.85"/>
<circle cx="234.72" cy="343.03" r="1.1" fill="#5b5ba6" fill-opacity="0.85"/>
<circle cx="252.93" cy="340.87" r="1.1" fill="#5b5ba6" fill-opacity="0.85"/>
<circle cx="258.14" cy="340.18" r="1.1" fill="#5b5ba6" fill-opacity="0.85"/>
<circle cx="260.74" cy="339.82" r="1.1" fill="#5b5ba6" fill-opacity="0.85"/>
<circle cx="263.34" cy="339.46" r="1.1" fill="#5b5ba6" fill-opacity="0.85"/>
<circle cx="265.94" cy="339.08" r="1.1" fill="#5b5ba6" fill-opacity="0.85"/>
<circle cx="271.15" cy="338.28" r="1.1" fill="#5b5ba6" fill-opacity="0.85"/>
<circle cx="273.75" cy="337.86" r="1.1" fill="#5b5ba6" fill-opacity="0.85"/>
<circle cx="276.35" cy="337.43" r="1.1" fill="#5b5ba6" fill-opacity="0.85"/>
<circle cx="278.95" cy="336.98" r="1.1" fill="#5b5ba6" fill-opacity="0.85"/>
<circle cx="284.08" cy="336.04" r="1.1" fill="#5b5ba6" fill-opacity="0.85"/>
<circle cx="291.76" cy="334.47" r="1.1" fill="#5b5ba6" fill-opacity="0.85"/>
<circle cx="301.95" cy="331.97" r="1.1" fill="#5b5ba6" fill-opacity="0.85"/>
<circle cx="314.38" cy="327.83" r="1.1" fill="#5b5ba6" fill-opacity="0.85"/>
<circle cx="316.77" cy="326.80" r="1.1" fill="#5b5ba6" fill-opacity="0.85"/>
<circle cx="325.79" cy="321.60" r="1.1" fill="#5b5ba6" fill-opacity="0.85"/>
<circle cx="327.81" cy="319.96" r="1.1" fill="#5b5ba6" fill-opacity="0.85"/>
<circle cx="332.93" cy="313.88" r="1.1" fill="#5b5ba6" fill-opacity="0.85"/>
<circle cx="335.24" cy="309.10" r="1.1" fill="#5b5ba6" fill-opacity="0.85"/>
<circle cx="185.03" cy="343.80" r="1.1" fill="#5b5ba6" fill-opacity="0.85"/>
<circle cx="146.42" cy="336.31" r="1.1" fill="#5b5ba6" fill-opacity="0.85"/>
<circle cx="143.86" cy="335.70" r="1.1" fill="#5b5ba6" fill-opacity="0.85"/>
<circle cx="113.83" cy="326.49" r="1.1" fill="#5b5ba6" fill-opacity="0.85"/>
<circle cx="111.40" cy="325.52" r="1.1" fill="#5b5ba6" fill-opacity="0.85"/>
<circle cx="95.06" cy="317.24" r="1.1" fill="#5b5ba6" fill-opacity="0.85"/>
<circle cx="82.88" cy="307.44" r="1.1" fill="#5b5ba6" fill-opacity="0.85"/>
<circle cx="70.81" cy="287.08" r="1.1" fill="#5b5ba6" fill-opacity="0.85"/>
<circle cx="70.02" cy="284.55" r="1.1" fill="#5b5ba6" fill-opacity="0.85"/>
<circle cx="207.78" cy="345.41" r="1.1" fill="#5b5ba6" fill-opacity="0.85"/>
<circle cx="215.57" cy="344.22" r="1.1" fill="#5b5ba6" fill-opacity="0.85"/>
<circle cx="231.15" cy="341.59" r="1.1" fill="#5b5ba6" fill-opacity="0.85"/>
<circle cx="233.75" cy="341.12" r="1.1" fill="#5b5ba6" fill-opacity="0.85"/>
<circle cx="254.23" cy="336.91" r="1.1" fill="#5b5ba6" fill-opacity="0.85"/>
<circle cx="271.99" cy="332.34" r="1.1" fill="#5b5ba6" fill-opacity="0.85"/>
<circle cx="299.00" cy="322.29" r="1.1" fill="#5b5ba6" fill-opacity="0.85"/>
<circle cx="303.65" cy="319.88" r="1.1" fill="#5b5ba6" fill-opacity="0.85"/>
<circle cx="305.92" cy="318.60" r="1.1" fill="#5b5ba6" fill-opacity="0.85"/>
<circle cx="310.31" cy="315.82" r="1.1" fill="#5b5ba6" fill-opacity="0.85"/>
<circle cx="325.31" cy="301.37" r="1.1" fill="#5b5ba6" fill-opacity="0.85"/>
<circle cx="105.14" cy="236.41" r="1.1" fill="#5b5ba6" fill-opacity="0.85"/>
<circle cx="104.38" cy="234.32" r="1.1" fill="#5b5ba6" fill-opacity="0.85"/>
<circle cx="282.05" cy="271.90" r="1.1" fill="#5b5ba6" fill-opacity="0.85"/>
<circle cx="283.63" cy="268.97" r="1.1" fill="#5b5ba6" fill-opacity="0.85"/>
<circle cx="285.67" cy="265.04" r="1.1" fill="#5b5ba6" fill-opacity="0.85"/>
<circle cx="288.59" cy="259.07" r="1.1" fill="#5b5ba6" fill-opacity="0.85"/>
<circle cx="293.96" cy="246.91" r="1.1" fill="#5b5ba6" fill-opacity="0.85"/>
<circle cx="294.38" cy="245.89" r="1.1" fill="#5b5ba6" fill-opacity="0.85"/>
<circle cx="295.62" cy="242.80" r="1.1" fill="#5b5ba6" fill-opacity="0.85"/>
<circle cx="140.73" cy="312.10" r="1.1" fill="#5b5ba6" fill-opacity="0.85"/>
<circle cx="137.45" cy="309.10" r="1.1" fill="#5b5ba6" fill-opacity="0.85"/>
<circle cx="122.53" cy="292.81" r="1.1" fill="#5b5ba6" fill-opacity="0.85"/>
<circle cx="119.82" cy="289.30" r="1.1" fill="#5b5ba6" fill-opacity="0.85"/>
<circle cx="108.88" cy="272.66" r="1.1" fill="#5b5ba6" fill-opacity="0.85"/>
<circle cx="106.70" cy="268.79" r="1.1" fill="#5b5ba6" fill-opacity="0.85"/>
<circle cx="100.72" cy="256.86" r="1.1" fill="#5b5ba6" fill-opacity="0.85"/>
<circle cx="131.34" cy="299.31" r="1.1" fill="#5b5ba6" fill-opacity="0.85"/>
<circle cx="128.50" cy="295.91" r="1.1" fill="#5b5ba6" fill-opacity="0.85"/>
<circle cx="123.10" cy="288.91" r="1.1" fill="#5b5ba6" fill-opacity="0.85"/>
<circle cx="103.29" cy="254.38" r="1.1" fill="#5b5ba6" fill-opacity="0.85"/>
<circle cx="140.26" cy="306.04" r="1.1" fill="#5b5ba6" fill-opacity="0.85"/>
<circle cx="137.27" cy="302.77" r="1.1" fill="#5b5ba6" fill-opacity="0.85"/>
<circle cx="134.40" cy="299.43" r="1.1" fill="#5b5ba6" fill-opacity="0.85"/>
<circle cx="132.98" cy="297.72" r="1.1" fill="#5b5ba6" fill-opacity="0.85"/>
<circle cx="114.51" cy="270.20" r="1.1" fill="#5b5ba6" fill-opacity="0.85"/>
<circle cx="137.37" cy="299.87" r="1.1" fill="#5b5ba6" fill-opacity="0.85"/>
<circle cx="133.26" cy="294.67" r="1.1" fill="#5b5ba6" fill-opacity="0.85"/>
<circle cx="124.44" cy="281.97" r="1.1" fill="#5b5ba6" fill-opacity="0.85"/>
<circle cx="117.70" cy="270.55" r="1.1" fill="#5b5ba6" fill-opacity="0.85"/>
<circle cx="114.60" cy="264.68" r="1.1" fill="#5b5ba6" fill-opacity="0.85"/>
<circle cx="103.07" cy="238.34" r="1.1" fill="#5b5ba6" fill-opacity="0.85"/>
<circle cx="269.85" cy="305.08" r="1.1" fill="#5b5ba6" fill-opacity="0.85"/>
<circle cx="271.66" cy="303.20" r="1.1" fill="#5b5ba6" fill-opacity="0.85"/>
<circle cx="286.49" cy="284.99" r="1.1" fill="#5b5ba6" fill-opacity="0.85"/>
<circle cx="293.55" cy="274.00" r="1.1" fill="#5b5ba6" fill-opacity="0.85"/>
<circle cx="269.28" cy="302.23" r="1.1" fill="#5b5ba6" fill-opacity="0.85"/>
<circle cx="274.38" cy="296.30" r="1.1" fill="#5b5ba6" fill-opacity="0.85"/>
<circle cx="286.58" cy="279.37" r="1.1" fill="#5b5ba6" fill-opacity="0.85"/>
<circle cx="287.96" cy="277.15" r="1.1" fill="#5b5ba6" fill-opacity="0.85"/>
<circle cx="293.16" cy="268.09" r="1.1" fill="#5b5ba6" fill-opacity="0.85"/>
<circle cx="297.89" cy="258.77" r="1.1" fill="#5b5ba6" fill-opacity="0.85"/>
<circle cx="301.13" cy="251.63" r="1.1" fill="#5b5ba6" fill-opacity="0.85"/>
<circle cx="282.51" cy="280.65" r="1.1" fill="#5b5ba6" fill-opacity="0.85"/>
<circle cx="283.89" cy="278.44" r="1.1" fill="#5b5ba6" fill-opacity="0.85"/>
<circle cx="275.76" cy="286.56" r="1.1" fill="#5b5ba6" fill-opacity="0.85"/>
<circle cx="283.99" cy="273.27" r="1.1" fill="#5b5ba6" fill-opacity="0.85"/>
<circle cx="286.50" cy="268.70" r="1.1" fill="#5b5ba6" fill-opacity="0.85"/>
<circle cx="195.52" cy="344.06" r="1.1" fill="#5b5ba6" fill-opacity="0.85"/>
<circle cx="160.92" cy="325.89" r="1.1" fill="#5b5ba6" fill-opacity="0.85"/>
<circle cx="158.78" cy="324.39" r="1.1" fill="#5b5ba6" fill-opacity="0.85"/>
<circle cx="148.50" cy="316.38" r="1.1" fill="#5b5ba6" fill-opacity="0.85"/>
<circle cx="165.98" cy="328.11" r="1.1" fill="#5b5ba6" fill-opacity="0.85"/>
<circle cx="182.00" cy="337.21" r="1.1" fill="#5b5ba6" fill-opacity="0.85"/>
<circle cx="156.33" cy="319.34" r="1.1" fill="#5b5ba6" fill-opacity="0.85"/>
<circle cx="189.23" cy="340.70" r="1.1" fill="#5b5ba6" fill-opacity="0.85"/>
<circle cx="227.19" cy="335.82" r="1.1" fill="#5b5ba6" fill-opacity="0.85"/>
<circle cx="229.52" cy="334.64" r="1.1" fill="#5b5ba6" fill-opacity="0.85"/>
<circle cx="253.74" cy="319.32" r="1.1" fill="#5b5ba6" fill-opacity="0.85"/>
<circle cx="207.68" cy="344.06" r="1.1" fill="#5b5ba6" fill-opacity="0.85"/>
<circle cx="233.50" cy="331.53" r="1.1" fill="#5b5ba6" fill-opacity="0.85"/>
<circle cx="248.61" cy="321.29" r="1.1" fill="#5b5ba6" fill-opacity="0.85"/>
<circle cx="256.68" cy="314.67" r="1.1" fill="#5b5ba6" fill-opacity="0.85"/>
<circle cx="258.62" cy="312.93" r="1.1" fill="#5b5ba6" fill-opacity="0.85"/>
<circle cx="260.53" cy="311.16" r="1.1" fill="#5b5ba6" fill-opacity="0.85"/>
<circle cx="235.05" cy="329.56" r="1.1" fill="#5b5ba6" fill-opacity="0.85"/>
<circle cx="245.65" cy="321.93" r="1.1" fill="#5b5ba6" fill-opacity="0.85"/>
<circle cx="244.87" cy="321.04" r="1.1" fill="#5b5ba6" fill-opacity="0.85"/>
<circle cx="246.87" cy="319.34" r="1.1" fill="#5b5ba6" fill-opacity="0.85"/>
<circle cx="158.23" cy="332.45" r="1.1" fill="#5b5ba6" fill-opacity="0.85"/>
<circle cx="143.19" cy="325.42" r="1.1" fill="#5b5ba6" fill-opacity="0.85"/>
<circle cx="137.37" cy="322.24" r="1.1" fill="#5b5ba6" fill-opacity="0.85"/>
<circle cx="108.32" cy="300.21" r="1.1" fill="#5b5ba6" fill-opacity="0.85"/>
<circle cx="213.23" cy="343.16" r="1.1" fill="#5b5ba6" fill-opacity="0.85"/>
<circle cx="238.33" cy="334.52" r="1.1" fill="#5b5ba6" fill-opacity="0.85"/>
<circle cx="241.38" cy="333.26" r="1.1" fill="#5b5ba6" fill-opacity="0.85"/>
<circle cx="253.45" cy="327.69" r="1.1" fill="#5b5ba6" fill-opacity="0.85"/>
<circle cx="298.00" cy="293.69" r="1.1" fill="#5b5ba6" fill-opacity="0.85"/>
<circle cx="246.03" cy="328.28" r="1.1" fill="#5b5ba6" fill-opacity="0.85"/>
<circle cx="262.94" cy="317.58" r="1.1" fill="#5b5ba6" fill-opacity="0.85"/>
<circle cx="278.34" cy="304.74" r="1.1" fill="#5b5ba6" fill-opacity="0.85"/>
<circle cx="291.76" cy="289.86" r="1.1" fill="#5b5ba6" fill-opacity="0.85"/>
<circle cx="252.04" cy="322.67" r="1.1" fill="#5b5ba6" fill-opacity="0.85"/>
<circle cx="267.89" cy="310.39" r="1.1" fill="#5b5ba6" fill-opacity="0.85"/>
<circle cx="70.10" cy="157.50" r="1.1" fill="#5b5ba6" fill-opacity="0.85"/>
<circle cx="87.20" cy="186.50" r="1.1" fill="#5b5ba6" fill-opacity="0.85"/>
<circle cx="83.10" cy="201.10" r="1.1" fill="#5b5ba6" fill-opacity="0.85"/>
<circle cx="89.20" cy="200.80" r="1.1" fill="#5b5ba6" fill-opacity="0.85"/>
<circle cx="92.90" cy="216.50" r="1.1" fill="#5b5ba6" fill-opacity="0.85"/>
<circle cx="94.70" cy="221.10" r="1.1" fill="#5b5ba6" fill-opacity="0.85"/>
<circle cx="315.50" cy="188.20" r="1.1" fill="#5b5ba6" fill-opacity="0.85"/>
<circle cx="308.10" cy="201.90" r="1.1" fill="#5b5ba6" fill-opacity="0.85"/>
<circle cx="305.50" cy="214.60" r="1.1" fill="#5b5ba6" fill-opacity="0.85"/>
<circle cx="304.30" cy="217.60" r="1.1" fill="#5b5ba6" fill-opacity="0.85"/>
<circle cx="302.90" cy="222.10" r="1.1" fill="#5b5ba6" fill-opacity="0.85"/>
<circle cx="300.20" cy="229.50" r="1.1" fill="#5b5ba6" fill-opacity="0.85"/>
<circle cx="338.60" cy="234.80" r="1.1" fill="#5b5ba6" fill-opacity="0.85"/>
<circle cx="309.00" cy="241.30" r="1.1" fill="#5b5ba6" fill-opacity="0.85"/>
<circle cx="301.10" cy="243.60" r="1.1" fill="#5b5ba6" fill-opacity="0.85"/>
<circle cx="338.90" cy="244.50" r="1.1" fill="#5b5ba6" fill-opacity="0.85"/>
<circle cx="338.90" cy="266.20" r="1.1" fill="#5b5ba6" fill-opacity="0.85"/>
<circle cx="336.40" cy="267.60" r="1.1" fill="#5b5ba6" fill-opacity="0.85"/>
<circle cx="90.30" cy="276.40" r="1.1" fill="#5b5ba6" fill-opacity="0.85"/>
<line x1="64.50" y1="146.30" x2="64.50" y2="205.30" stroke="#444" stroke-width="1.0"/>
<line x1="64.50" y1="211.60" x2="64.50" y2="346.30" stroke="#444" stroke-width="1.0"/>
<line x1="61.00" y1="146.29" x2="64.50" y2="146.29" stroke="#444" stroke-width="1.0"/>
<text font-size="6.2" text-anchor="end" fill="#1a1a1a" style="" transform="translate(60.20,149.19) scale(1,1.2)">6</text>
<line x1="61.00" y1="165.96" x2="64.50" y2="165.96" stroke="#444" stroke-width="1.0"/>
<text font-size="6.2" text-anchor="end" fill="#1a1a1a" style="" transform="translate(60.20,168.86) scale(1,1.2)">5</text>
<line x1="61.00" y1="185.63" x2="64.50" y2="185.63" stroke="#444" stroke-width="1.0"/>
<text font-size="6.2" text-anchor="end" fill="#1a1a1a" style="" transform="translate(60.20,188.53) scale(1,1.2)">4</text>
<line x1="61.00" y1="205.30" x2="67.20" y2="205.30" stroke="#444" stroke-width="1.0"/>
<text font-size="6.2" text-anchor="end" fill="#1a1a1a" style="" transform="translate(60.20,208.20) scale(1,1.2)">3</text>
<line x1="61.00" y1="212.11" x2="67.20" y2="212.11" stroke="#444" stroke-width="1.0"/>
<text font-size="6.2" text-anchor="end" fill="#1a1a1a" style="" transform="translate(60.20,214.91) scale(1,1.2)">3</text>
<line x1="61.00" y1="256.84" x2="64.50" y2="256.84" stroke="#444" stroke-width="1.0"/>
<text font-size="6.2" text-anchor="end" fill="#1a1a1a" style="" transform="translate(60.20,259.64) scale(1,1.2)">2</text>
<line x1="61.00" y1="301.57" x2="64.50" y2="301.57" stroke="#444" stroke-width="1.0"/>
<text font-size="6.2" text-anchor="end" fill="#1a1a1a" style="" transform="translate(60.20,304.37) scale(1,1.2)">1</text>
<line x1="61.00" y1="346.30" x2="64.50" y2="346.30" stroke="#444" stroke-width="1.0"/>
<text font-size="6.2" text-anchor="end" fill="#1a1a1a" style="" transform="translate(60.20,349.10) scale(1,1.2)">0</text>
<line x1="64.50" y1="346.30" x2="339.30" y2="346.30" stroke="#444" stroke-width="1.0"/>
<line x1="64.30" y1="346.30" x2="64.30" y2="350.00" stroke="#444" stroke-width="1.0"/>
<text font-size="6.1" text-anchor="middle" fill="#1a1a1a" style="" transform="translate(64.30,357.60) scale(1,1.2)">-1.0</text>
<line x1="132.95" y1="346.30" x2="132.95" y2="350.00" stroke="#444" stroke-width="1.0"/>
<text font-size="6.1" text-anchor="middle" fill="#1a1a1a" style="" transform="translate(132.95,357.60) scale(1,1.2)">-0.5</text>
<line x1="201.60" y1="346.30" x2="201.60" y2="350.00" stroke="#444" stroke-width="1.0"/>
<text font-size="6.1" text-anchor="middle" fill="#1a1a1a" style="" transform="translate(201.60,357.60) scale(1,1.2)">0.0</text>
<line x1="270.25" y1="346.30" x2="270.25" y2="350.00" stroke="#444" stroke-width="1.0"/>
<text font-size="6.1" text-anchor="middle" fill="#1a1a1a" style="" transform="translate(270.25,357.60) scale(1,1.2)">0.5</text>
<line x1="338.90" y1="346.30" x2="338.90" y2="350.00" stroke="#444" stroke-width="1.0"/>
<text font-size="6.1" text-anchor="middle" fill="#1a1a1a" style="" transform="translate(338.90,357.60) scale(1,1.2)">1.0</text>
<text font-size="6.7" text-anchor="middle" fill="#1a1a1a" style="" transform="translate(201.90,366.20) scale(1,1.2)">Pearson</text>
<text font-size="6.7" text-anchor="middle" fill="#1a1a1a" style="" transform="translate(50.30,232.50) rotate(-90) scale(1,1.2)">-Log10 P-value</text>
<circle cx="272.1" cy="146.1" r="1.1" fill="#e8302a"/>
<circle cx="272.1" cy="156.8" r="1.1" fill="#5b5ba6"/>
<path d="M271.4,165.6 L273.9,170.0 L268.9,170.0 Z" fill="#d22a24" stroke="#5a1010" stroke-width="0.6"/>
<text font-size="6.0" text-anchor="start" fill="#1a1a1a" style="" transform="translate(277.30,148.20) scale(1,1.2)">Correlated with upregulated genes</text>
<text font-size="6.0" text-anchor="start" fill="#1a1a1a" style="" transform="translate(277.30,158.90) scale(1,1.2)">Correlated with downregulated genes</text>
<text font-size="6.0" text-anchor="start" fill="#1a1a1a" style="" transform="translate(277.30,170.10) scale(1,1.2)">Selected hit</text>
<line x1="138.20" y1="209.30" x2="100.60" y2="221.36" stroke="#111" stroke-width="0.9"/>
<line x1="138.20" y1="215.10" x2="101.97" y2="225.61" stroke="#111" stroke-width="0.9"/>
<line x1="138.20" y1="221.50" x2="103.34" y2="229.68" stroke="#111" stroke-width="0.9"/>
<line x1="138.20" y1="228.30" x2="104.72" y2="233.59" stroke="#111" stroke-width="0.9"/>
<line x1="138.20" y1="235.30" x2="106.09" y2="237.35" stroke="#111" stroke-width="0.9"/>
<line x1="138.20" y1="241.80" x2="108.84" y2="244.44" stroke="#111" stroke-width="0.9"/>
<line x1="138.20" y1="247.50" x2="112.95" y2="254.16" stroke="#111" stroke-width="0.9"/>
<line x1="138.20" y1="253.10" x2="112.95" y2="254.16" stroke="#111" stroke-width="0.9"/>
<line x1="141.80" y1="259.10" x2="115.70" y2="260.10" stroke="#111" stroke-width="0.9"/>
<line x1="142.40" y1="264.60" x2="117.07" y2="262.93" stroke="#111" stroke-width="0.9"/>
<line x1="145.10" y1="270.20" x2="119.82" y2="268.31" stroke="#111" stroke-width="0.9"/>
<line x1="144.30" y1="275.90" x2="121.19" y2="270.88" stroke="#111" stroke-width="0.9"/>
<line x1="154.00" y1="292.00" x2="130.80" y2="286.87" stroke="#111" stroke-width="0.9"/>
<line x1="149.30" y1="303.00" x2="130.80" y2="286.87" stroke="#111" stroke-width="0.9"/>
<path d="M100.00,219.29 L102.00,222.73 L98.00,222.73 Z" fill="#e8261c" stroke="#3a0808" stroke-width="0.45" stroke-linejoin="round"/>
<path d="M101.37,223.54 L103.37,226.98 L99.37,226.98 Z" fill="#e8261c" stroke="#3a0808" stroke-width="0.45" stroke-linejoin="round"/>
<path d="M102.74,227.62 L104.74,231.06 L100.74,231.06 Z" fill="#e8261c" stroke="#3a0808" stroke-width="0.45" stroke-linejoin="round"/>
<path d="M104.12,231.53 L106.12,234.97 L102.12,234.97 Z" fill="#e8261c" stroke="#3a0808" stroke-width="0.45" stroke-linejoin="round"/>
<path d="M105.49,235.28 L107.49,238.72 L103.49,238.72 Z" fill="#e8261c" stroke="#3a0808" stroke-width="0.45" stroke-linejoin="round"/>
<path d="M108.24,242.38 L110.24,245.82 L106.24,245.82 Z" fill="#e8261c" stroke="#3a0808" stroke-width="0.45" stroke-linejoin="round"/>
<path d="M112.35,252.10 L114.35,255.54 L110.35,255.54 Z" fill="#e8261c" stroke="#3a0808" stroke-width="0.45" stroke-linejoin="round"/>
<path d="M112.35,252.10 L114.35,255.54 L110.35,255.54 Z" fill="#e8261c" stroke="#3a0808" stroke-width="0.45" stroke-linejoin="round"/>
<path d="M115.10,258.04 L117.10,261.48 L113.10,261.48 Z" fill="#e8261c" stroke="#3a0808" stroke-width="0.45" stroke-linejoin="round"/>
<path d="M116.47,260.86 L118.47,264.30 L114.47,264.30 Z" fill="#e8261c" stroke="#3a0808" stroke-width="0.45" stroke-linejoin="round"/>
<path d="M119.22,266.25 L121.22,269.69 L117.22,269.69 Z" fill="#e8261c" stroke="#3a0808" stroke-width="0.45" stroke-linejoin="round"/>
<path d="M120.59,268.82 L122.59,272.26 L118.59,272.26 Z" fill="#e8261c" stroke="#3a0808" stroke-width="0.45" stroke-linejoin="round"/>
<path d="M130.20,284.81 L132.20,288.25 L128.20,288.25 Z" fill="#e8261c" stroke="#3a0808" stroke-width="0.45" stroke-linejoin="round"/>
<path d="M130.20,284.81 L132.20,288.25 L128.20,288.25 Z" fill="#e8261c" stroke="#3a0808" stroke-width="0.45" stroke-linejoin="round"/>
<text font-size="5.2" text-anchor="start" fill="#1a1a1a" style="" transform="translate(140.60,211.50) scale(1,1.2)">sorafenib - <tspan style="font-style:italic">E2F1</tspan></text>
<text font-size="5.2" text-anchor="start" fill="#1a1a1a" style="" transform="translate(140.60,217.30) scale(1,1.2)">sorafenib - <tspan style="font-style:italic">BRCA1</tspan></text>
<text font-size="5.2" text-anchor="start" fill="#1a1a1a" style="" transform="translate(140.60,223.70) scale(1,1.2)">sorafenib - <tspan style="font-style:italic">CHEK1</tspan></text>
<text font-size="5.2" text-anchor="start" fill="#1a1a1a" style="" transform="translate(140.60,230.50) scale(1,1.2)">sorafenib - <tspan style="font-style:italic">PRKDC</tspan></text>
<text font-size="5.2" text-anchor="start" fill="#1a1a1a" style="" transform="translate(140.60,237.50) scale(1,1.2)">sorafenib - <tspan style="font-style:italic">CHEK2</tspan></text>
<text font-size="5.2" text-anchor="start" fill="#1a1a1a" style="" transform="translate(140.60,244.00) scale(1,1.2)">sorafenib - <tspan style="font-style:italic">CDK2</tspan></text>
<text font-size="5.2" text-anchor="start" fill="#1a1a1a" style="" transform="translate(140.60,249.70) scale(1,1.2)">sorafenib - <tspan style="font-style:italic">CCNE2</tspan></text>
<text font-size="5.2" text-anchor="start" fill="#1a1a1a" style="" transform="translate(140.60,255.30) scale(1,1.2)">sorafenib - <tspan style="font-style:italic">CCNB1</tspan></text>
<text font-size="5.2" text-anchor="start" fill="#1a1a1a" style="" transform="translate(144.20,261.30) scale(1,1.2)">sorafenib - <tspan style="font-style:italic">TNFRSF10B</tspan></text>
<text font-size="5.2" text-anchor="start" fill="#1a1a1a" style="" transform="translate(144.80,266.80) scale(1,1.2)">sorafenib - <tspan style="font-style:italic">CDK4</tspan></text>
<text font-size="5.2" text-anchor="start" fill="#1a1a1a" style="" transform="translate(147.50,272.40) scale(1,1.2)">sorafenib - <tspan style="font-style:italic">CCNB2</tspan></text>
<text font-size="5.2" text-anchor="start" fill="#1a1a1a" style="" transform="translate(146.70,278.10) scale(1,1.2)">sorafenib - <tspan style="font-style:italic">BAX</tspan></text>
<text font-size="5.2" text-anchor="start" fill="#1a1a1a" style="" transform="translate(156.40,294.20) scale(1,1.2)">sorafenib - <tspan style="font-style:italic">CDK6</tspan></text>
<text font-size="5.2" text-anchor="start" fill="#1a1a1a" style="" transform="translate(151.70,305.20) scale(1,1.2)">sorafenib - <tspan style="font-style:italic">FANCD2</tspan></text>
<line x1="264.50" y1="233.50" x2="295.20" y2="242.80" stroke="#111" stroke-width="0.9"/>
<line x1="265.50" y1="242.00" x2="293.00" y2="248.90" stroke="#111" stroke-width="0.9"/>
<line x1="259.60" y1="250.30" x2="288.50" y2="260.90" stroke="#111" stroke-width="0.9"/>
<line x1="258.30" y1="259.60" x2="283.50" y2="270.60" stroke="#111" stroke-width="0.9"/>
<line x1="262.30" y1="267.00" x2="278.90" y2="277.50" stroke="#111" stroke-width="0.9"/>
<line x1="259.70" y1="273.40" x2="278.90" y2="279.50" stroke="#111" stroke-width="0.9"/>
<line x1="261.40" y1="278.50" x2="277.50" y2="281.50" stroke="#111" stroke-width="0.9"/>
<line x1="254.60" y1="284.70" x2="274.40" y2="284.90" stroke="#111" stroke-width="0.9"/>
<line x1="251.80" y1="290.90" x2="273.30" y2="286.60" stroke="#111" stroke-width="0.9"/>
<line x1="256.30" y1="294.30" x2="274.40" y2="287.20" stroke="#111" stroke-width="0.9"/>
<line x1="296.50" y1="279.00" x2="278.90" y2="279.00" stroke="#111" stroke-width="0.9"/>
<line x1="290.00" y1="291.50" x2="277.80" y2="287.00" stroke="#111" stroke-width="0.9"/>
<path d="M295.20,240.74 L297.20,244.18 L293.20,244.18 Z" fill="#e8261c" stroke="#3a0808" stroke-width="0.45" stroke-linejoin="round"/>
<path d="M293.00,246.84 L295.00,250.28 L291.00,250.28 Z" fill="#e8261c" stroke="#3a0808" stroke-width="0.45" stroke-linejoin="round"/>
<path d="M288.50,258.84 L290.50,262.28 L286.50,262.28 Z" fill="#e8261c" stroke="#3a0808" stroke-width="0.45" stroke-linejoin="round"/>
<path d="M283.50,268.54 L285.50,271.98 L281.50,271.98 Z" fill="#e8261c" stroke="#3a0808" stroke-width="0.45" stroke-linejoin="round"/>
<path d="M278.90,276.94 L280.90,280.38 L276.90,280.38 Z" fill="#e8261c" stroke="#3a0808" stroke-width="0.45" stroke-linejoin="round"/>
<path d="M277.20,279.84 L279.20,283.28 L275.20,283.28 Z" fill="#e8261c" stroke="#3a0808" stroke-width="0.45" stroke-linejoin="round"/>
<path d="M273.80,284.94 L275.80,288.38 L271.80,288.38 Z" fill="#e8261c" stroke="#3a0808" stroke-width="0.45" stroke-linejoin="round"/>
<path d="M264.20,283.74 L266.20,287.18 L262.20,287.18 Z" fill="#e8261c" stroke="#3a0808" stroke-width="0.45" stroke-linejoin="round"/>
<text font-size="5.2" text-anchor="end" fill="#1a1a1a" style="" transform="translate(258.30,233.70) scale(1,1.2)">tipifarnib-P1 - <tspan style="font-style:italic">CCNB1</tspan></text>
<text font-size="5.2" text-anchor="end" fill="#1a1a1a" style="" transform="translate(256.20,241.60) scale(1,1.2)">tipifarnib-P1 - <tspan style="font-style:italic">CCNB2</tspan></text>
<text font-size="5.2" text-anchor="end" fill="#1a1a1a" style="" transform="translate(256.20,249.50) scale(1,1.2)">tipifarnib-P1 - <tspan style="font-style:italic">CHEK1</tspan></text>
<text font-size="5.2" text-anchor="end" fill="#1a1a1a" style="" transform="translate(254.90,258.70) scale(1,1.2)">tipifarnib-P1 - <tspan style="font-style:italic">PRKDC</tspan></text>
<text font-size="5.2" text-anchor="end" fill="#1a1a1a" style="" transform="translate(257.80,266.70) scale(1,1.2)">tipifarnib-P1 - <tspan style="font-style:italic">CDK1</tspan></text>
<text font-size="5.2" text-anchor="end" fill="#1a1a1a" style="" transform="translate(254.40,272.50) scale(1,1.2)">tipifarnib-P1 - <tspan style="font-style:italic">CDC25A</tspan></text>
<text font-size="5.2" text-anchor="end" fill="#1a1a1a" style="" transform="translate(253.80,278.50) scale(1,1.2)">tipifarnib-P1 - <tspan style="font-style:italic">CDK4</tspan></text>
<text font-size="5.2" text-anchor="end" fill="#1a1a1a" style="" transform="translate(252.00,285.10) scale(1,1.2)">tipifarnib-P1 - <tspan style="font-style:italic">FANCD2</tspan></text>
<text font-size="5.2" text-anchor="end" fill="#1a1a1a" style="" transform="translate(246.30,293.00) scale(1,1.2)">tipifarnib-P1 - <tspan style="font-style:italic">CDK2</tspan></text>
<text font-size="5.2" text-anchor="end" fill="#1a1a1a" style="" transform="translate(250.60,300.00) scale(1,1.2)">tipifarnib-P1 - <tspan style="font-style:italic">E2F1</tspan></text>
<text font-size="5.2" text-anchor="start" fill="#1a1a1a" style="" transform="translate(297.20,281.10) scale(1,1.2)">tipifarnib-P1 - <tspan style="font-style:italic">CDC25C</tspan></text>
<text font-size="5.2" text-anchor="start" fill="#1a1a1a" style="" transform="translate(295.60,297.00) scale(1,1.2)">tipifarnib-P1 - <tspan style="font-style:italic">RAD51</tspan></text>
<circle cx="23.25" cy="411.94" r="1.15" fill="#7ba7d8"/>
<circle cx="27.28" cy="420.29" r="1.15" fill="#7ba7d8"/>
<circle cx="35.11" cy="414.26" r="1.15" fill="#7ba7d8"/>
<circle cx="42.61" cy="421.74" r="1.15" fill="#7ba7d8"/>
<circle cx="43.46" cy="416.70" r="1.15" fill="#7ba7d8"/>
<circle cx="50.08" cy="417.83" r="1.15" fill="#7ba7d8"/>
<circle cx="52.22" cy="431.26" r="1.15" fill="#7ba7d8"/>
<circle cx="60.23" cy="430.64" r="1.15" fill="#7ba7d8"/>
<circle cx="62.79" cy="438.45" r="1.15" fill="#7ba7d8"/>
<circle cx="70.47" cy="427.05" r="1.15" fill="#7ba7d8"/>
<circle cx="76.82" cy="430.28" r="1.15" fill="#7ba7d8"/>
<circle cx="105.74" cy="437.17" r="1.15" fill="#7ba7d8"/>
<circle cx="22.72" cy="432.79" r="1.15" fill="#a98bd0"/>
<circle cx="27.28" cy="436.64" r="1.15" fill="#a98bd0"/>
<circle cx="35.31" cy="428.81" r="1.15" fill="#a98bd0"/>
<circle cx="42.68" cy="443.54" r="1.15" fill="#a98bd0"/>
<circle cx="43.67" cy="434.02" r="1.15" fill="#a98bd0"/>
<circle cx="50.07" cy="443.72" r="1.15" fill="#a98bd0"/>
<circle cx="52.30" cy="459.75" r="1.15" fill="#a98bd0"/>
<circle cx="60.62" cy="448.10" r="1.15" fill="#a98bd0"/>
<circle cx="62.57" cy="447.99" r="1.15" fill="#a98bd0"/>
<circle cx="70.14" cy="455.81" r="1.15" fill="#a98bd0"/>
<circle cx="77.01" cy="456.10" r="1.15" fill="#a98bd0"/>
<circle cx="105.93" cy="464.07" r="1.15" fill="#a98bd0"/>
<circle cx="22.70" cy="416.01" r="1.15" fill="#e3a0c8"/>
<circle cx="27.13" cy="406.53" r="1.15" fill="#e3a0c8"/>
<circle cx="35.59" cy="415.93" r="1.15" fill="#e3a0c8"/>
<circle cx="42.54" cy="411.24" r="1.15" fill="#e3a0c8"/>
<circle cx="43.87" cy="420.20" r="1.15" fill="#e3a0c8"/>
<circle cx="50.06" cy="419.45" r="1.15" fill="#e3a0c8"/>
<circle cx="52.38" cy="420.75" r="1.15" fill="#e3a0c8"/>
<circle cx="60.65" cy="422.20" r="1.15" fill="#e3a0c8"/>
<circle cx="62.46" cy="423.35" r="1.15" fill="#e3a0c8"/>
<circle cx="70.14" cy="425.73" r="1.15" fill="#e3a0c8"/>
<circle cx="76.84" cy="426.39" r="1.15" fill="#e3a0c8"/>
<circle cx="105.97" cy="432.65" r="1.15" fill="#e3a0c8"/>
<circle cx="22.78" cy="423.84" r="1.15" fill="#a8d070"/>
<circle cx="27.39" cy="429.77" r="1.15" fill="#a8d070"/>
<circle cx="35.13" cy="429.57" r="1.15" fill="#a8d070"/>
<circle cx="42.46" cy="432.10" r="1.15" fill="#a8d070"/>
<circle cx="43.58" cy="437.48" r="1.15" fill="#a8d070"/>
<circle cx="50.43" cy="430.39" r="1.15" fill="#a8d070"/>
<circle cx="52.31" cy="433.77" r="1.15" fill="#a8d070"/>
<circle cx="60.59" cy="440.44" r="1.15" fill="#a8d070"/>
<circle cx="62.53" cy="448.04" r="1.15" fill="#a8d070"/>
<circle cx="70.25" cy="448.07" r="1.15" fill="#a8d070"/>
<circle cx="76.68" cy="443.02" r="1.15" fill="#a8d070"/>
<circle cx="105.74" cy="449.93" r="1.15" fill="#a8d070"/>
<circle cx="22.85" cy="463.21" r="1.15" fill="#2e9aaa"/>
<circle cx="27.36" cy="462.40" r="1.15" fill="#2e9aaa"/>
<circle cx="35.58" cy="457.62" r="1.15" fill="#2e9aaa"/>
<circle cx="42.59" cy="466.57" r="1.15" fill="#2e9aaa"/>
<circle cx="43.51" cy="454.96" r="1.15" fill="#2e9aaa"/>
<circle cx="49.99" cy="460.63" r="1.15" fill="#2e9aaa"/>
<circle cx="51.95" cy="472.39" r="1.15" fill="#2e9aaa"/>
<circle cx="60.31" cy="462.73" r="1.15" fill="#2e9aaa"/>
<circle cx="62.52" cy="467.17" r="1.15" fill="#2e9aaa"/>
<circle cx="70.67" cy="458.90" r="1.15" fill="#2e9aaa"/>
<circle cx="76.75" cy="476.00" r="1.15" fill="#2e9aaa"/>
<circle cx="105.76" cy="474.38" r="1.15" fill="#2e9aaa"/>
<circle cx="22.84" cy="451.57" r="1.15" fill="#4a3a98"/>
<circle cx="27.42" cy="444.76" r="1.15" fill="#4a3a98"/>
<circle cx="35.36" cy="444.87" r="1.15" fill="#4a3a98"/>
<circle cx="42.48" cy="456.85" r="1.15" fill="#4a3a98"/>
<circle cx="43.44" cy="452.06" r="1.15" fill="#4a3a98"/>
<circle cx="50.04" cy="458.01" r="1.15" fill="#4a3a98"/>
<circle cx="52.17" cy="443.87" r="1.15" fill="#4a3a98"/>
<circle cx="60.37" cy="452.47" r="1.15" fill="#4a3a98"/>
<circle cx="62.41" cy="459.36" r="1.15" fill="#4a3a98"/>
<circle cx="70.26" cy="458.33" r="1.15" fill="#4a3a98"/>
<circle cx="76.61" cy="461.01" r="1.15" fill="#4a3a98"/>
<circle cx="105.92" cy="475.24" r="1.15" fill="#4a3a98"/>
<circle cx="22.92" cy="415.38" r="1.15" fill="#e07878"/>
<circle cx="27.53" cy="417.66" r="1.15" fill="#e07878"/>
<circle cx="35.41" cy="427.55" r="1.15" fill="#e07878"/>
<circle cx="42.65" cy="422.00" r="1.15" fill="#e07878"/>
<circle cx="43.41" cy="423.90" r="1.15" fill="#e07878"/>
<circle cx="50.45" cy="425.81" r="1.15" fill="#e07878"/>
<circle cx="51.81" cy="421.79" r="1.15" fill="#e07878"/>
<circle cx="60.58" cy="416.37" r="1.15" fill="#e07878"/>
<circle cx="62.59" cy="420.81" r="1.15" fill="#e07878"/>
<circle cx="70.70" cy="431.10" r="1.15" fill="#e07878"/>
<circle cx="76.94" cy="437.13" r="1.15" fill="#e07878"/>
<circle cx="106.24" cy="442.43" r="1.15" fill="#e07878"/>
<circle cx="23.18" cy="424.38" r="1.15" fill="#8cb86c"/>
<circle cx="27.55" cy="418.72" r="1.15" fill="#8cb86c"/>
<circle cx="35.54" cy="423.39" r="1.15" fill="#8cb86c"/>
<circle cx="42.82" cy="434.71" r="1.15" fill="#8cb86c"/>
<circle cx="43.92" cy="422.28" r="1.15" fill="#8cb86c"/>
<circle cx="50.24" cy="434.76" r="1.15" fill="#8cb86c"/>
<circle cx="52.15" cy="427.92" r="1.15" fill="#8cb86c"/>
<circle cx="60.57" cy="429.69" r="1.15" fill="#8cb86c"/>
<circle cx="63.00" cy="439.10" r="1.15" fill="#8cb86c"/>
<circle cx="70.63" cy="438.15" r="1.15" fill="#8cb86c"/>
<circle cx="76.94" cy="435.71" r="1.15" fill="#8cb86c"/>
<circle cx="106.05" cy="437.98" r="1.15" fill="#8cb86c"/>
<circle cx="22.75" cy="432.43" r="1.15" fill="#1f4f98"/>
<circle cx="27.45" cy="445.36" r="1.15" fill="#1f4f98"/>
<circle cx="35.29" cy="451.15" r="1.15" fill="#1f4f98"/>
<circle cx="42.44" cy="448.80" r="1.15" fill="#1f4f98"/>
<circle cx="43.77" cy="446.32" r="1.15" fill="#1f4f98"/>
<circle cx="50.45" cy="445.26" r="1.15" fill="#1f4f98"/>
<circle cx="51.98" cy="451.03" r="1.15" fill="#1f4f98"/>
<circle cx="60.61" cy="454.76" r="1.15" fill="#1f4f98"/>
<circle cx="62.94" cy="455.68" r="1.15" fill="#1f4f98"/>
<circle cx="70.50" cy="460.30" r="1.15" fill="#1f4f98"/>
<circle cx="76.70" cy="450.86" r="1.15" fill="#1f4f98"/>
<circle cx="106.10" cy="473.86" r="1.15" fill="#1f4f98"/>
<circle cx="23.18" cy="438.93" r="1.15" fill="#3a1f8a"/>
<circle cx="27.55" cy="443.18" r="1.15" fill="#3a1f8a"/>
<circle cx="35.35" cy="444.04" r="1.15" fill="#3a1f8a"/>
<circle cx="42.49" cy="439.63" r="1.15" fill="#3a1f8a"/>
<circle cx="43.90" cy="446.56" r="1.15" fill="#3a1f8a"/>
<circle cx="50.41" cy="448.86" r="1.15" fill="#3a1f8a"/>
<circle cx="51.97" cy="442.60" r="1.15" fill="#3a1f8a"/>
<circle cx="60.30" cy="436.67" r="1.15" fill="#3a1f8a"/>
<circle cx="62.53" cy="444.69" r="1.15" fill="#3a1f8a"/>
<circle cx="70.35" cy="451.42" r="1.15" fill="#3a1f8a"/>
<circle cx="76.69" cy="448.26" r="1.15" fill="#3a1f8a"/>
<circle cx="106.20" cy="456.19" r="1.15" fill="#3a1f8a"/>
<circle cx="22.74" cy="436.09" r="1.15" fill="#8040a8"/>
<circle cx="27.02" cy="431.52" r="1.15" fill="#8040a8"/>
<circle cx="35.43" cy="434.91" r="1.15" fill="#8040a8"/>
<circle cx="42.64" cy="434.75" r="1.15" fill="#8040a8"/>
<circle cx="43.41" cy="433.01" r="1.15" fill="#8040a8"/>
<circle cx="49.98" cy="445.10" r="1.15" fill="#8040a8"/>
<circle cx="52.30" cy="436.96" r="1.15" fill="#8040a8"/>
<circle cx="60.34" cy="440.23" r="1.15" fill="#8040a8"/>
<circle cx="62.78" cy="441.36" r="1.15" fill="#8040a8"/>
<circle cx="70.37" cy="443.38" r="1.15" fill="#8040a8"/>
<circle cx="76.98" cy="439.20" r="1.15" fill="#8040a8"/>
<circle cx="106.28" cy="445.81" r="1.15" fill="#8040a8"/>
<circle cx="22.99" cy="436.17" r="1.15" fill="#a02050"/>
<circle cx="27.11" cy="435.92" r="1.15" fill="#a02050"/>
<circle cx="35.43" cy="446.42" r="1.15" fill="#a02050"/>
<circle cx="42.41" cy="443.86" r="1.15" fill="#a02050"/>
<circle cx="43.82" cy="443.26" r="1.15" fill="#a02050"/>
<circle cx="50.21" cy="450.08" r="1.15" fill="#a02050"/>
<circle cx="52.04" cy="440.66" r="1.15" fill="#a02050"/>
<circle cx="60.68" cy="444.01" r="1.15" fill="#a02050"/>
<circle cx="62.96" cy="451.42" r="1.15" fill="#a02050"/>
<circle cx="70.53" cy="451.10" r="1.15" fill="#a02050"/>
<circle cx="76.88" cy="457.65" r="1.15" fill="#a02050"/>
<circle cx="106.25" cy="466.98" r="1.15" fill="#a02050"/>
<circle cx="23.23" cy="413.32" r="1.15" fill="#1a6a3a"/>
<circle cx="27.48" cy="422.99" r="1.15" fill="#1a6a3a"/>
<circle cx="35.39" cy="425.94" r="1.15" fill="#1a6a3a"/>
<circle cx="42.42" cy="421.45" r="1.15" fill="#1a6a3a"/>
<circle cx="43.78" cy="422.03" r="1.15" fill="#1a6a3a"/>
<circle cx="50.33" cy="417.03" r="1.15" fill="#1a6a3a"/>
<circle cx="52.39" cy="428.19" r="1.15" fill="#1a6a3a"/>
<circle cx="60.79" cy="437.96" r="1.15" fill="#1a6a3a"/>
<circle cx="62.59" cy="421.06" r="1.15" fill="#1a6a3a"/>
<circle cx="70.65" cy="429.31" r="1.15" fill="#1a6a3a"/>
<circle cx="76.55" cy="435.65" r="1.15" fill="#1a6a3a"/>
<circle cx="105.96" cy="438.05" r="1.15" fill="#1a6a3a"/>
<circle cx="22.99" cy="423.09" r="1.15" fill="#90b8e0"/>
<circle cx="27.02" cy="429.02" r="1.15" fill="#90b8e0"/>
<circle cx="35.48" cy="433.75" r="1.15" fill="#90b8e0"/>
<circle cx="42.40" cy="433.12" r="1.15" fill="#90b8e0"/>
<circle cx="43.48" cy="430.79" r="1.15" fill="#90b8e0"/>
<circle cx="49.99" cy="443.25" r="1.15" fill="#90b8e0"/>
<circle cx="52.30" cy="429.34" r="1.15" fill="#90b8e0"/>
<circle cx="60.61" cy="437.68" r="1.15" fill="#90b8e0"/>
<circle cx="62.97" cy="443.95" r="1.15" fill="#90b8e0"/>
<circle cx="70.15" cy="438.73" r="1.15" fill="#90b8e0"/>
<circle cx="76.67" cy="442.87" r="1.15" fill="#90b8e0"/>
<circle cx="106.14" cy="453.54" r="1.15" fill="#90b8e0"/>
<line x1="22.70" y1="417.50" x2="106.00" y2="436.50" stroke="#7ba7d8" stroke-width="0.75"/>
<line x1="22.70" y1="431.40" x2="106.00" y2="468.70" stroke="#a98bd0" stroke-width="0.75"/>
<line x1="22.70" y1="407.30" x2="106.00" y2="435.40" stroke="#e3a0c8" stroke-width="0.75"/>
<line x1="22.70" y1="421.00" x2="106.00" y2="454.00" stroke="#a8d070" stroke-width="0.75"/>
<line x1="22.70" y1="458.00" x2="106.00" y2="478.60" stroke="#2e9aaa" stroke-width="0.75"/>
<line x1="22.70" y1="440.00" x2="106.00" y2="474.70" stroke="#4a3a98" stroke-width="0.75"/>
<line x1="22.70" y1="417.50" x2="106.00" y2="439.80" stroke="#e07878" stroke-width="0.75"/>
<line x1="22.70" y1="424.90" x2="106.00" y2="442.50" stroke="#8cb86c" stroke-width="0.75"/>
<line x1="22.70" y1="440.50" x2="106.00" y2="470.40" stroke="#1f4f98" stroke-width="0.75"/>
<line x1="22.70" y1="437.30" x2="106.00" y2="460.00" stroke="#3a1f8a" stroke-width="0.75"/>
<line x1="22.70" y1="431.00" x2="106.00" y2="450.70" stroke="#8040a8" stroke-width="0.75"/>
<line x1="22.70" y1="437.30" x2="106.00" y2="463.30" stroke="#a02050" stroke-width="0.75"/>
<line x1="22.70" y1="417.50" x2="106.00" y2="441.40" stroke="#1a6a3a" stroke-width="0.75"/>
<line x1="22.70" y1="430.50" x2="106.00" y2="448.00" stroke="#90b8e0" stroke-width="0.75"/>
<circle cx="223.61" cy="428.85" r="1.15" fill="#3aa0bc"/>
<circle cx="235.44" cy="424.36" r="1.15" fill="#3aa0bc"/>
<circle cx="249.01" cy="422.70" r="1.15" fill="#3aa0bc"/>
<circle cx="258.74" cy="425.51" r="1.15" fill="#3aa0bc"/>
<circle cx="268.98" cy="420.43" r="1.15" fill="#3aa0bc"/>
<circle cx="278.81" cy="423.57" r="1.15" fill="#3aa0bc"/>
<circle cx="288.42" cy="409.10" r="1.15" fill="#3aa0bc"/>
<circle cx="293.70" cy="408.83" r="1.15" fill="#3aa0bc"/>
<circle cx="297.18" cy="408.32" r="1.15" fill="#3aa0bc"/>
<circle cx="300.81" cy="407.27" r="1.15" fill="#3aa0bc"/>
<circle cx="223.44" cy="429.23" r="1.15" fill="#5a3aa0"/>
<circle cx="235.39" cy="438.35" r="1.15" fill="#5a3aa0"/>
<circle cx="248.82" cy="430.19" r="1.15" fill="#5a3aa0"/>
<circle cx="258.45" cy="427.26" r="1.15" fill="#5a3aa0"/>
<circle cx="268.56" cy="436.83" r="1.15" fill="#5a3aa0"/>
<circle cx="278.78" cy="421.95" r="1.15" fill="#5a3aa0"/>
<circle cx="288.59" cy="426.23" r="1.15" fill="#5a3aa0"/>
<circle cx="293.94" cy="425.24" r="1.15" fill="#5a3aa0"/>
<circle cx="296.71" cy="417.11" r="1.15" fill="#5a3aa0"/>
<circle cx="300.87" cy="420.89" r="1.15" fill="#5a3aa0"/>
<circle cx="223.57" cy="473.31" r="1.15" fill="#1a6a3a"/>
<circle cx="235.11" cy="467.88" r="1.15" fill="#1a6a3a"/>
<circle cx="248.91" cy="467.68" r="1.15" fill="#1a6a3a"/>
<circle cx="258.39" cy="467.89" r="1.15" fill="#1a6a3a"/>
<circle cx="268.46" cy="459.00" r="1.15" fill="#1a6a3a"/>
<circle cx="278.94" cy="466.15" r="1.15" fill="#1a6a3a"/>
<circle cx="288.25" cy="463.30" r="1.15" fill="#1a6a3a"/>
<circle cx="293.52" cy="462.23" r="1.15" fill="#1a6a3a"/>
<circle cx="296.83" cy="452.98" r="1.15" fill="#1a6a3a"/>
<circle cx="300.75" cy="456.17" r="1.15" fill="#1a6a3a"/>
<circle cx="223.22" cy="446.68" r="1.15" fill="#8cb0e0"/>
<circle cx="235.48" cy="446.63" r="1.15" fill="#8cb0e0"/>
<circle cx="249.01" cy="441.00" r="1.15" fill="#8cb0e0"/>
<circle cx="258.57" cy="438.53" r="1.15" fill="#8cb0e0"/>
<circle cx="268.84" cy="443.04" r="1.15" fill="#8cb0e0"/>
<circle cx="278.99" cy="436.46" r="1.15" fill="#8cb0e0"/>
<circle cx="288.29" cy="440.59" r="1.15" fill="#8cb0e0"/>
<circle cx="293.95" cy="434.02" r="1.15" fill="#8cb0e0"/>
<circle cx="297.13" cy="439.00" r="1.15" fill="#8cb0e0"/>
<circle cx="300.58" cy="451.15" r="1.15" fill="#8cb0e0"/>
<circle cx="223.26" cy="460.79" r="1.15" fill="#e07878"/>
<circle cx="235.16" cy="466.18" r="1.15" fill="#e07878"/>
<circle cx="248.97" cy="459.47" r="1.15" fill="#e07878"/>
<circle cx="258.28" cy="451.69" r="1.15" fill="#e07878"/>
<circle cx="268.41" cy="448.86" r="1.15" fill="#e07878"/>
<circle cx="278.62" cy="457.32" r="1.15" fill="#e07878"/>
<circle cx="288.68" cy="447.93" r="1.15" fill="#e07878"/>
<circle cx="293.47" cy="442.21" r="1.15" fill="#e07878"/>
<circle cx="296.90" cy="443.28" r="1.15" fill="#e07878"/>
<circle cx="300.91" cy="450.26" r="1.15" fill="#e07878"/>
<circle cx="223.16" cy="444.11" r="1.15" fill="#a890d0"/>
<circle cx="235.12" cy="442.89" r="1.15" fill="#a890d0"/>
<circle cx="248.84" cy="433.57" r="1.15" fill="#a890d0"/>
<circle cx="258.29" cy="435.27" r="1.15" fill="#a890d0"/>
<circle cx="268.90" cy="436.42" r="1.15" fill="#a890d0"/>
<circle cx="279.09" cy="436.18" r="1.15" fill="#a890d0"/>
<circle cx="288.14" cy="433.42" r="1.15" fill="#a890d0"/>
<circle cx="293.97" cy="429.69" r="1.15" fill="#a890d0"/>
<circle cx="296.80" cy="422.42" r="1.15" fill="#a890d0"/>
<circle cx="300.78" cy="431.16" r="1.15" fill="#a890d0"/>
<circle cx="223.46" cy="440.94" r="1.15" fill="#e0a0c8"/>
<circle cx="235.11" cy="442.24" r="1.15" fill="#e0a0c8"/>
<circle cx="248.61" cy="436.57" r="1.15" fill="#e0a0c8"/>
<circle cx="258.47" cy="428.30" r="1.15" fill="#e0a0c8"/>
<circle cx="268.52" cy="433.82" r="1.15" fill="#e0a0c8"/>
<circle cx="278.60" cy="426.85" r="1.15" fill="#e0a0c8"/>
<circle cx="288.64" cy="428.25" r="1.15" fill="#e0a0c8"/>
<circle cx="293.88" cy="427.63" r="1.15" fill="#e0a0c8"/>
<circle cx="296.98" cy="424.31" r="1.15" fill="#e0a0c8"/>
<circle cx="300.74" cy="417.11" r="1.15" fill="#e0a0c8"/>
<circle cx="223.69" cy="457.90" r="1.15" fill="#b0d880"/>
<circle cx="235.58" cy="456.41" r="1.15" fill="#b0d880"/>
<circle cx="248.95" cy="456.04" r="1.15" fill="#b0d880"/>
<circle cx="258.67" cy="464.48" r="1.15" fill="#b0d880"/>
<circle cx="268.94" cy="453.91" r="1.15" fill="#b0d880"/>
<circle cx="279.03" cy="445.46" r="1.15" fill="#b0d880"/>
<circle cx="288.56" cy="444.93" r="1.15" fill="#b0d880"/>
<circle cx="293.64" cy="439.01" r="1.15" fill="#b0d880"/>
<circle cx="296.81" cy="445.37" r="1.15" fill="#b0d880"/>
<circle cx="300.78" cy="443.05" r="1.15" fill="#b0d880"/>
<circle cx="223.48" cy="467.44" r="1.15" fill="#90b870"/>
<circle cx="235.47" cy="460.97" r="1.15" fill="#90b870"/>
<circle cx="248.90" cy="459.18" r="1.15" fill="#90b870"/>
<circle cx="258.40" cy="466.95" r="1.15" fill="#90b870"/>
<circle cx="268.72" cy="450.66" r="1.15" fill="#90b870"/>
<circle cx="278.73" cy="446.76" r="1.15" fill="#90b870"/>
<circle cx="288.52" cy="456.43" r="1.15" fill="#90b870"/>
<circle cx="293.86" cy="448.75" r="1.15" fill="#90b870"/>
<circle cx="296.97" cy="449.08" r="1.15" fill="#90b870"/>
<circle cx="300.94" cy="447.17" r="1.15" fill="#90b870"/>
<circle cx="223.13" cy="457.83" r="1.15" fill="#1f4f98"/>
<circle cx="235.22" cy="460.12" r="1.15" fill="#1f4f98"/>
<circle cx="248.65" cy="451.12" r="1.15" fill="#1f4f98"/>
<circle cx="258.74" cy="452.00" r="1.15" fill="#1f4f98"/>
<circle cx="268.98" cy="443.14" r="1.15" fill="#1f4f98"/>
<circle cx="278.84" cy="444.50" r="1.15" fill="#1f4f98"/>
<circle cx="288.59" cy="450.70" r="1.15" fill="#1f4f98"/>
<circle cx="293.45" cy="442.81" r="1.15" fill="#1f4f98"/>
<circle cx="296.63" cy="435.98" r="1.15" fill="#1f4f98"/>
<circle cx="301.06" cy="437.03" r="1.15" fill="#1f4f98"/>
<circle cx="223.20" cy="443.30" r="1.15" fill="#4a2a98"/>
<circle cx="235.40" cy="442.14" r="1.15" fill="#4a2a98"/>
<circle cx="249.07" cy="433.44" r="1.15" fill="#4a2a98"/>
<circle cx="258.45" cy="431.40" r="1.15" fill="#4a2a98"/>
<circle cx="268.62" cy="423.96" r="1.15" fill="#4a2a98"/>
<circle cx="278.67" cy="426.71" r="1.15" fill="#4a2a98"/>
<circle cx="288.27" cy="422.23" r="1.15" fill="#4a2a98"/>
<circle cx="293.83" cy="419.44" r="1.15" fill="#4a2a98"/>
<circle cx="296.75" cy="423.36" r="1.15" fill="#4a2a98"/>
<circle cx="300.53" cy="423.43" r="1.15" fill="#4a2a98"/>
<circle cx="223.33" cy="463.02" r="1.15" fill="#a02050"/>
<circle cx="235.64" cy="462.88" r="1.15" fill="#a02050"/>
<circle cx="249.09" cy="453.89" r="1.15" fill="#a02050"/>
<circle cx="258.77" cy="450.59" r="1.15" fill="#a02050"/>
<circle cx="268.66" cy="459.07" r="1.15" fill="#a02050"/>
<circle cx="278.79" cy="452.65" r="1.15" fill="#a02050"/>
<circle cx="288.41" cy="449.76" r="1.15" fill="#a02050"/>
<circle cx="293.96" cy="444.78" r="1.15" fill="#a02050"/>
<circle cx="297.19" cy="443.87" r="1.15" fill="#a02050"/>
<circle cx="300.99" cy="438.91" r="1.15" fill="#a02050"/>
<line x1="222.60" y1="432.70" x2="300.30" y2="408.10" stroke="#3aa0bc" stroke-width="0.75"/>
<line x1="222.60" y1="436.10" x2="300.30" y2="420.40" stroke="#5a3aa0" stroke-width="0.75"/>
<line x1="222.60" y1="471.30" x2="300.30" y2="457.20" stroke="#1a6a3a" stroke-width="0.75"/>
<line x1="222.60" y1="449.50" x2="300.30" y2="435.10" stroke="#8cb0e0" stroke-width="0.75"/>
<line x1="222.60" y1="460.40" x2="300.30" y2="450.60" stroke="#e07878" stroke-width="0.75"/>
<line x1="222.60" y1="443.60" x2="300.30" y2="429.40" stroke="#a890d0" stroke-width="0.75"/>
<line x1="222.60" y1="446.00" x2="300.30" y2="426.00" stroke="#e0a0c8" stroke-width="0.75"/>
<line x1="222.60" y1="462.50" x2="300.30" y2="444.90" stroke="#b0d880" stroke-width="0.75"/>
<line x1="222.60" y1="463.30" x2="300.30" y2="447.40" stroke="#90b870" stroke-width="0.75"/>
<line x1="222.60" y1="458.20" x2="300.30" y2="441.60" stroke="#1f4f98" stroke-width="0.75"/>
<line x1="222.60" y1="440.70" x2="300.30" y2="422.80" stroke="#4a2a98" stroke-width="0.75"/>
<line x1="222.60" y1="458.90" x2="300.30" y2="444.10" stroke="#a02050" stroke-width="0.75"/>
<line x1="20.20" y1="402.80" x2="20.20" y2="483.40" stroke="#444" stroke-width="1.0"/>
<line x1="20.20" y1="483.40" x2="108.60" y2="483.40" stroke="#444" stroke-width="1.0"/>
<line x1="17.30" y1="483.40" x2="20.20" y2="483.40" stroke="#444" stroke-width="1.0"/>
<text font-size="6.2" text-anchor="end" fill="#1a1a1a" style="" transform="translate(15.90,486.30) scale(1,1.2)">0</text>
<line x1="17.30" y1="465.30" x2="20.20" y2="465.30" stroke="#444" stroke-width="1.0"/>
<text font-size="6.2" text-anchor="end" fill="#1a1a1a" style="" transform="translate(15.90,468.20) scale(1,1.2)">2</text>
<line x1="17.30" y1="447.20" x2="20.20" y2="447.20" stroke="#444" stroke-width="1.0"/>
<text font-size="6.2" text-anchor="end" fill="#1a1a1a" style="" transform="translate(15.90,450.10) scale(1,1.2)">4</text>
<line x1="17.30" y1="429.10" x2="20.20" y2="429.10" stroke="#444" stroke-width="1.0"/>
<text font-size="6.2" text-anchor="end" fill="#1a1a1a" style="" transform="translate(15.90,432.00) scale(1,1.2)">6</text>
<line x1="17.30" y1="411.00" x2="20.20" y2="411.00" stroke="#444" stroke-width="1.0"/>
<text font-size="6.2" text-anchor="end" fill="#1a1a1a" style="" transform="translate(15.90,413.90) scale(1,1.2)">8</text>
<line x1="20.20" y1="483.40" x2="20.20" y2="486.80" stroke="#444" stroke-width="1.0"/>
<text font-size="6.1" text-anchor="middle" fill="#1a1a1a" style="" transform="translate(21.20,493.30) scale(1,1.2)">12</text>
<line x1="42.30" y1="483.40" x2="42.30" y2="486.80" stroke="#444" stroke-width="1.0"/>
<text font-size="6.1" text-anchor="middle" fill="#1a1a1a" style="" transform="translate(43.30,493.30) scale(1,1.2)">13</text>
<line x1="64.40" y1="483.40" x2="64.40" y2="486.80" stroke="#444" stroke-width="1.0"/>
<text font-size="6.1" text-anchor="middle" fill="#1a1a1a" style="" transform="translate(65.40,493.30) scale(1,1.2)">14</text>
<line x1="86.50" y1="483.40" x2="86.50" y2="486.80" stroke="#444" stroke-width="1.0"/>
<text font-size="6.1" text-anchor="middle" fill="#1a1a1a" style="" transform="translate(87.50,493.30) scale(1,1.2)">15</text>
<line x1="108.60" y1="483.40" x2="108.60" y2="486.80" stroke="#444" stroke-width="1.0"/>
<text font-size="6.1" text-anchor="middle" fill="#1a1a1a" style="" transform="translate(109.60,493.30) scale(1,1.2)">16</text>
<text font-size="6.8" text-anchor="middle" fill="#1a1a1a" style="" transform="translate(61.80,503.50) scale(1,1.2)">sorafenib AUC (CTD^2)</text>
<text font-size="6.65" text-anchor="middle" fill="#1a1a1a" style="" transform="translate(10.50,446.50) rotate(-90) scale(1,1.2)">Log2(TPM+1)</text>
<line x1="222.40" y1="402.80" x2="222.40" y2="483.40" stroke="#444" stroke-width="1.0"/>
<line x1="222.40" y1="483.40" x2="312.10" y2="483.40" stroke="#444" stroke-width="1.0"/>
<line x1="219.50" y1="483.40" x2="222.40" y2="483.40" stroke="#444" stroke-width="1.0"/>
<text font-size="6.2" text-anchor="end" fill="#1a1a1a" style="" transform="translate(218.10,486.30) scale(1,1.2)">0</text>
<line x1="219.50" y1="465.30" x2="222.40" y2="465.30" stroke="#444" stroke-width="1.0"/>
<text font-size="6.2" text-anchor="end" fill="#1a1a1a" style="" transform="translate(218.10,468.20) scale(1,1.2)">2</text>
<line x1="219.50" y1="447.20" x2="222.40" y2="447.20" stroke="#444" stroke-width="1.0"/>
<text font-size="6.2" text-anchor="end" fill="#1a1a1a" style="" transform="translate(218.10,450.10) scale(1,1.2)">4</text>
<line x1="219.50" y1="429.10" x2="222.40" y2="429.10" stroke="#444" stroke-width="1.0"/>
<text font-size="6.2" text-anchor="end" fill="#1a1a1a" style="" transform="translate(218.10,432.00) scale(1,1.2)">6</text>
<line x1="219.50" y1="411.00" x2="222.40" y2="411.00" stroke="#444" stroke-width="1.0"/>
<text font-size="6.2" text-anchor="end" fill="#1a1a1a" style="" transform="translate(218.10,413.90) scale(1,1.2)">8</text>
<line x1="222.10" y1="483.40" x2="222.10" y2="486.80" stroke="#444" stroke-width="1.0"/>
<text font-size="6.1" text-anchor="middle" fill="#1a1a1a" style="" transform="translate(223.10,493.30) scale(1,1.2)">11</text>
<line x1="244.60" y1="483.40" x2="244.60" y2="486.80" stroke="#444" stroke-width="1.0"/>
<text font-size="6.1" text-anchor="middle" fill="#1a1a1a" style="" transform="translate(245.60,493.30) scale(1,1.2)">12</text>
<line x1="267.10" y1="483.40" x2="267.10" y2="486.80" stroke="#444" stroke-width="1.0"/>
<text font-size="6.1" text-anchor="middle" fill="#1a1a1a" style="" transform="translate(268.10,493.30) scale(1,1.2)">13</text>
<line x1="289.60" y1="483.40" x2="289.60" y2="486.80" stroke="#444" stroke-width="1.0"/>
<text font-size="6.1" text-anchor="middle" fill="#1a1a1a" style="" transform="translate(290.60,493.30) scale(1,1.2)">14</text>
<line x1="312.10" y1="483.40" x2="312.10" y2="486.80" stroke="#444" stroke-width="1.0"/>
<text font-size="6.1" text-anchor="middle" fill="#1a1a1a" style="" transform="translate(313.10,493.30) scale(1,1.2)">15</text>
<text font-size="6.8" text-anchor="middle" fill="#1a1a1a" style="" transform="translate(268.90,503.50) scale(1,1.2)">tipifarnib-P1 AUC (CTD^2)</text>
<text font-size="6.65" text-anchor="middle" fill="#1a1a1a" style="" transform="translate(211.20,446.50) rotate(-90) scale(1,1.2)">Log2 (TPM+1)</text>
<rect x="113.30" y="379.80" width="83.80" height="11.9" fill="#dcdcdc"/>
<rect x="113.30" y="404.16" width="83.80" height="11.9" fill="#dcdcdc"/>
<rect x="113.30" y="428.52" width="83.80" height="11.9" fill="#dcdcdc"/>
<rect x="113.30" y="452.88" width="83.80" height="11.9" fill="#dcdcdc"/>
<rect x="113.30" y="477.24" width="83.80" height="11.9" fill="#dcdcdc"/>
<rect x="113.30" y="501.60" width="83.80" height="11.9" fill="#dcdcdc"/>
<rect x="113.30" y="525.96" width="83.80" height="11.9" fill="#dcdcdc"/>
<line x1="159.40" y1="379.80" x2="159.40" y2="551.00" stroke="#555" stroke-width="0.9"/>
<line x1="176.80" y1="379.80" x2="176.80" y2="551.00" stroke="#555" stroke-width="0.9"/>
<text font-size="5.4" text-anchor="middle" fill="#1a1a1a" style="" transform="translate(166.00,378.30) scale(1,1.2)">Pearson</text>
<text font-size="5.4" text-anchor="middle" fill="#1a1a1a" style="" transform="translate(187.50,378.30) scale(1,1.2)">P-value</text>
<line x1="114.10" y1="385.75" x2="123.90" y2="385.75" stroke="#7ba7d8" stroke-width="1.6"/>
<ellipse cx="119.00" cy="385.75" rx="2.4" ry="2.0" fill="#7ba7d8"/>
<text font-size="5.25" text-anchor="start" fill="#1a1a1a" style="font-style:italic;" transform="translate(126.40,387.65) scale(1,1.2)">BAX</text>
<text font-size="5.3" text-anchor="start" fill="#1a1a1a" style="" transform="translate(161.00,387.65) scale(1,1.2)">−0.59</text>
<text font-size="5.3" text-anchor="start" fill="#1a1a1a" style="" transform="translate(178.90,387.65) scale(1,1.2)">0.02</text>
<line x1="114.10" y1="397.93" x2="123.90" y2="397.93" stroke="#a98bd0" stroke-width="1.6"/>
<ellipse cx="119.00" cy="397.93" rx="2.4" ry="2.0" fill="#a98bd0"/>
<text font-size="5.25" text-anchor="start" fill="#1a1a1a" style="font-style:italic;" transform="translate(126.40,399.83) scale(1,1.2)">BRCA1</text>
<text font-size="5.3" text-anchor="start" fill="#1a1a1a" style="" transform="translate(161.00,399.83) scale(1,1.2)">−0.73</text>
<text font-size="5.3" text-anchor="start" fill="#1a1a1a" style="" transform="translate(178.90,399.83) scale(1,1.2)">0.002</text>
<line x1="114.10" y1="410.11" x2="123.90" y2="410.11" stroke="#e3a0c8" stroke-width="1.6"/>
<ellipse cx="119.00" cy="410.11" rx="2.4" ry="2.0" fill="#e3a0c8"/>
<text font-size="5.25" text-anchor="start" fill="#1a1a1a" style="font-style:italic;" transform="translate(126.40,412.01) scale(1,1.2)">CCNB1</text>
<text font-size="5.3" text-anchor="start" fill="#1a1a1a" style="" transform="translate(161.00,412.01) scale(1,1.2)">−0.65</text>
<text font-size="5.3" text-anchor="start" fill="#1a1a1a" style="" transform="translate(178.90,412.01) scale(1,1.2)">0.009</text>
<line x1="114.10" y1="422.29" x2="123.90" y2="422.29" stroke="#a8d070" stroke-width="1.6"/>
<ellipse cx="119.00" cy="422.29" rx="2.4" ry="2.0" fill="#a8d070"/>
<text font-size="5.25" text-anchor="start" fill="#1a1a1a" style="font-style:italic;" transform="translate(126.40,424.19) scale(1,1.2)">CCNB2</text>
<text font-size="5.3" text-anchor="start" fill="#1a1a1a" style="" transform="translate(161.00,424.19) scale(1,1.2)">−0.60</text>
<text font-size="5.3" text-anchor="start" fill="#1a1a1a" style="" transform="translate(178.90,424.19) scale(1,1.2)">0.019</text>
<line x1="114.10" y1="434.47" x2="123.90" y2="434.47" stroke="#2e9aaa" stroke-width="1.6"/>
<ellipse cx="119.00" cy="434.47" rx="2.4" ry="2.0" fill="#2e9aaa"/>
<text font-size="5.25" text-anchor="start" fill="#1a1a1a" style="font-style:italic;" transform="translate(126.40,436.37) scale(1,1.2)">CCNE2</text>
<text font-size="5.3" text-anchor="start" fill="#1a1a1a" style="" transform="translate(161.00,436.37) scale(1,1.2)">−0.65</text>
<text font-size="5.3" text-anchor="start" fill="#1a1a1a" style="" transform="translate(178.90,436.37) scale(1,1.2)">0.008</text>
<line x1="114.10" y1="446.65" x2="123.90" y2="446.65" stroke="#4a3a98" stroke-width="1.6"/>
<ellipse cx="119.00" cy="446.65" rx="2.4" ry="2.0" fill="#4a3a98"/>
<text font-size="5.25" text-anchor="start" fill="#1a1a1a" style="font-style:italic;" transform="translate(126.40,448.55) scale(1,1.2)">CDK2</text>
<text font-size="5.3" text-anchor="start" fill="#1a1a1a" style="" transform="translate(161.00,448.55) scale(1,1.2)">−0.68</text>
<text font-size="5.3" text-anchor="start" fill="#1a1a1a" style="" transform="translate(178.90,448.55) scale(1,1.2)">0.005</text>
<line x1="114.10" y1="458.83" x2="123.90" y2="458.83" stroke="#e07878" stroke-width="1.6"/>
<ellipse cx="119.00" cy="458.83" rx="2.4" ry="2.0" fill="#e07878"/>
<text font-size="5.25" text-anchor="start" fill="#1a1a1a" style="font-style:italic;" transform="translate(126.40,460.73) scale(1,1.2)">CDK4</text>
<text font-size="5.3" text-anchor="start" fill="#1a1a1a" style="" transform="translate(161.00,460.73) scale(1,1.2)">−0.62</text>
<text font-size="5.3" text-anchor="start" fill="#1a1a1a" style="" transform="translate(178.90,460.73) scale(1,1.2)">0.015</text>
<line x1="114.10" y1="471.01" x2="123.90" y2="471.01" stroke="#8cb86c" stroke-width="1.6"/>
<ellipse cx="119.00" cy="471.01" rx="2.4" ry="2.0" fill="#8cb86c"/>
<text font-size="5.25" text-anchor="start" fill="#1a1a1a" style="font-style:italic;" transform="translate(126.40,472.91) scale(1,1.2)">CDK6</text>
<text font-size="5.3" text-anchor="start" fill="#1a1a1a" style="" transform="translate(161.00,472.91) scale(1,1.2)">−0.52</text>
<text font-size="5.3" text-anchor="start" fill="#1a1a1a" style="" transform="translate(178.90,472.91) scale(1,1.2)">0.047</text>
<line x1="114.10" y1="483.19" x2="123.90" y2="483.19" stroke="#1f4f98" stroke-width="1.6"/>
<ellipse cx="119.00" cy="483.19" rx="2.4" ry="2.0" fill="#1f4f98"/>
<text font-size="5.25" text-anchor="start" fill="#1a1a1a" style="font-style:italic;" transform="translate(126.40,485.09) scale(1,1.2)">CHEK1</text>
<text font-size="5.3" text-anchor="start" fill="#1a1a1a" style="" transform="translate(161.00,485.09) scale(1,1.2)">−0.72</text>
<text font-size="5.3" text-anchor="start" fill="#1a1a1a" style="" transform="translate(178.90,485.09) scale(1,1.2)">0.002</text>
<line x1="114.10" y1="495.37" x2="123.90" y2="495.37" stroke="#3a1f8a" stroke-width="1.6"/>
<ellipse cx="119.00" cy="495.37" rx="2.4" ry="2.0" fill="#3a1f8a"/>
<text font-size="5.25" text-anchor="start" fill="#1a1a1a" style="font-style:italic;" transform="translate(126.40,497.27) scale(1,1.2)">CHEK2</text>
<text font-size="5.3" text-anchor="start" fill="#1a1a1a" style="" transform="translate(161.00,497.27) scale(1,1.2)">−0.70</text>
<text font-size="5.3" text-anchor="start" fill="#1a1a1a" style="" transform="translate(178.90,497.27) scale(1,1.2)">0.004</text>
<line x1="114.10" y1="507.55" x2="123.90" y2="507.55" stroke="#8040a8" stroke-width="1.6"/>
<ellipse cx="119.00" cy="507.55" rx="2.4" ry="2.0" fill="#8040a8"/>
<text font-size="5.25" text-anchor="start" fill="#1a1a1a" style="font-style:italic;" transform="translate(126.40,509.45) scale(1,1.2)">E2F1</text>
<text font-size="5.3" text-anchor="start" fill="#1a1a1a" style="" transform="translate(161.00,509.45) scale(1,1.2)">−0.74</text>
<text font-size="5.3" text-anchor="start" fill="#1a1a1a" style="" transform="translate(178.90,509.45) scale(1,1.2)">0.002</text>
<line x1="114.10" y1="519.73" x2="123.90" y2="519.73" stroke="#a02050" stroke-width="1.6"/>
<ellipse cx="119.00" cy="519.73" rx="2.4" ry="2.0" fill="#a02050"/>
<text font-size="5.25" text-anchor="start" fill="#1a1a1a" style="font-style:italic;" transform="translate(126.40,521.63) scale(1,1.2)">FANCD2</text>
<text font-size="5.3" text-anchor="start" fill="#1a1a1a" style="" transform="translate(161.00,521.63) scale(1,1.2)">−0.52</text>
<text font-size="5.3" text-anchor="start" fill="#1a1a1a" style="" transform="translate(178.90,521.63) scale(1,1.2)">0.047</text>
<line x1="114.10" y1="531.91" x2="123.90" y2="531.91" stroke="#1a6a3a" stroke-width="1.6"/>
<ellipse cx="119.00" cy="531.91" rx="2.4" ry="2.0" fill="#1a6a3a"/>
<text font-size="5.25" text-anchor="start" fill="#1a1a1a" style="font-style:italic;" transform="translate(126.40,533.81) scale(1,1.2)">PRKDC</text>
<text font-size="5.3" text-anchor="start" fill="#1a1a1a" style="" transform="translate(161.00,533.81) scale(1,1.2)">−0.71</text>
<text font-size="5.3" text-anchor="start" fill="#1a1a1a" style="" transform="translate(178.90,533.81) scale(1,1.2)">0.003</text>
<line x1="114.10" y1="544.09" x2="123.90" y2="544.09" stroke="#90b8e0" stroke-width="1.6"/>
<ellipse cx="119.00" cy="544.09" rx="2.4" ry="2.0" fill="#90b8e0"/>
<text font-size="5.25" text-anchor="start" fill="#1a1a1a" style="font-style:italic;" transform="translate(126.40,545.99) scale(1,1.2)">TNFRSF10B</text>
<text font-size="5.3" text-anchor="start" fill="#1a1a1a" style="" transform="translate(161.00,545.99) scale(1,1.2)">−0.63</text>
<text font-size="5.3" text-anchor="start" fill="#1a1a1a" style="" transform="translate(178.90,545.99) scale(1,1.2)">0.011</text>
<rect x="317.60" y="379.80" width="76.70" height="11.9" fill="#dcdcdc"/>
<rect x="317.60" y="404.16" width="76.70" height="11.9" fill="#dcdcdc"/>
<rect x="317.60" y="428.52" width="76.70" height="11.9" fill="#dcdcdc"/>
<rect x="317.60" y="452.88" width="76.70" height="11.9" fill="#dcdcdc"/>
<rect x="317.60" y="477.24" width="76.70" height="11.9" fill="#dcdcdc"/>
<rect x="317.60" y="501.60" width="76.70" height="11.9" fill="#dcdcdc"/>
<line x1="353.00" y1="379.80" x2="353.00" y2="524.50" stroke="#555" stroke-width="0.9"/>
<line x1="374.40" y1="379.80" x2="374.40" y2="524.50" stroke="#555" stroke-width="0.9"/>
<text font-size="5.4" text-anchor="middle" fill="#1a1a1a" style="" transform="translate(363.60,378.30) scale(1,1.2)">Pearson</text>
<text font-size="5.4" text-anchor="middle" fill="#1a1a1a" style="" transform="translate(385.10,378.30) scale(1,1.2)">P-value</text>
<line x1="318.60" y1="385.75" x2="327.60" y2="385.75" stroke="#3aa0bc" stroke-width="1.6"/>
<ellipse cx="323.10" cy="385.75" rx="2.4" ry="2.0" fill="#3aa0bc"/>
<text font-size="5.25" text-anchor="start" fill="#1a1a1a" style="font-style:italic;" transform="translate(329.50,387.65) scale(1,1.2)">CCNB1</text>
<text font-size="5.3" text-anchor="middle" fill="#1a1a1a" style="" transform="translate(364.00,387.65) scale(1,1.2)">0.69</text>
<text font-size="5.3" text-anchor="middle" fill="#1a1a1a" style="" transform="translate(385.50,387.65) scale(1,1.2)">0.005</text>
<line x1="318.60" y1="397.93" x2="327.60" y2="397.93" stroke="#5a3aa0" stroke-width="1.6"/>
<ellipse cx="323.10" cy="397.93" rx="2.4" ry="2.0" fill="#5a3aa0"/>
<text font-size="5.25" text-anchor="start" fill="#1a1a1a" style="font-style:italic;" transform="translate(329.50,399.83) scale(1,1.2)">CCNB2</text>
<text font-size="5.3" text-anchor="middle" fill="#1a1a1a" style="" transform="translate(364.00,399.83) scale(1,1.2)">0.67</text>
<text font-size="5.3" text-anchor="middle" fill="#1a1a1a" style="" transform="translate(385.50,399.83) scale(1,1.2)">0.007</text>
<line x1="318.60" y1="410.11" x2="327.60" y2="410.11" stroke="#1a6a3a" stroke-width="1.6"/>
<ellipse cx="323.10" cy="410.11" rx="2.4" ry="2.0" fill="#1a6a3a"/>
<text font-size="5.25" text-anchor="start" fill="#1a1a1a" style="font-style:italic;" transform="translate(329.50,412.01) scale(1,1.2)">CDC25A</text>
<text font-size="5.3" text-anchor="middle" fill="#1a1a1a" style="" transform="translate(364.00,412.01) scale(1,1.2)">0.53</text>
<text font-size="5.3" text-anchor="middle" fill="#1a1a1a" style="" transform="translate(385.50,412.01) scale(1,1.2)">0.041</text>
<line x1="318.60" y1="422.29" x2="327.60" y2="422.29" stroke="#8cb0e0" stroke-width="1.6"/>
<ellipse cx="323.10" cy="422.29" rx="2.4" ry="2.0" fill="#8cb0e0"/>
<text font-size="5.25" text-anchor="start" fill="#1a1a1a" style="font-style:italic;" transform="translate(329.50,424.19) scale(1,1.2)">CDC25C</text>
<text font-size="5.3" text-anchor="middle" fill="#1a1a1a" style="" transform="translate(364.00,424.19) scale(1,1.2)">0.56</text>
<text font-size="5.3" text-anchor="middle" fill="#1a1a1a" style="" transform="translate(385.50,424.19) scale(1,1.2)">0.031</text>
<line x1="318.60" y1="434.47" x2="327.60" y2="434.47" stroke="#e07878" stroke-width="1.6"/>
<ellipse cx="323.10" cy="434.47" rx="2.4" ry="2.0" fill="#e07878"/>
<text font-size="5.25" text-anchor="start" fill="#1a1a1a" style="font-style:italic;" transform="translate(329.50,436.37) scale(1,1.2)">CDK1</text>
<text font-size="5.3" text-anchor="middle" fill="#1a1a1a" style="" transform="translate(364.00,436.37) scale(1,1.2)">0.56</text>
<text font-size="5.3" text-anchor="middle" fill="#1a1a1a" style="" transform="translate(385.50,436.37) scale(1,1.2)">0.028</text>
<line x1="318.60" y1="446.65" x2="327.60" y2="446.65" stroke="#a890d0" stroke-width="1.6"/>
<ellipse cx="323.10" cy="446.65" rx="2.4" ry="2.0" fill="#a890d0"/>
<text font-size="5.25" text-anchor="start" fill="#1a1a1a" style="font-style:italic;" transform="translate(329.50,448.55) scale(1,1.2)">CDK2</text>
<text font-size="5.3" text-anchor="middle" fill="#1a1a1a" style="" transform="translate(364.00,448.55) scale(1,1.2)">0.46</text>
<text font-size="5.3" text-anchor="middle" fill="#1a1a1a" style="" transform="translate(385.50,448.55) scale(1,1.2)">0.044</text>
<line x1="318.60" y1="458.83" x2="327.60" y2="458.83" stroke="#e0a0c8" stroke-width="1.6"/>
<ellipse cx="323.10" cy="458.83" rx="2.4" ry="2.0" fill="#e0a0c8"/>
<text font-size="5.25" text-anchor="start" fill="#1a1a1a" style="font-style:italic;" transform="translate(329.50,460.73) scale(1,1.2)">CDK4</text>
<text font-size="5.3" text-anchor="middle" fill="#1a1a1a" style="" transform="translate(364.00,460.73) scale(1,1.2)">0.55</text>
<text font-size="5.3" text-anchor="middle" fill="#1a1a1a" style="" transform="translate(385.50,460.73) scale(1,1.2)">0.035</text>
<line x1="318.60" y1="471.01" x2="327.60" y2="471.01" stroke="#b0d880" stroke-width="1.6"/>
<ellipse cx="323.10" cy="471.01" rx="2.4" ry="2.0" fill="#b0d880"/>
<text font-size="5.25" text-anchor="start" fill="#1a1a1a" style="font-style:italic;" transform="translate(329.50,472.91) scale(1,1.2)">CHEK1</text>
<text font-size="5.3" text-anchor="middle" fill="#1a1a1a" style="" transform="translate(364.00,472.91) scale(1,1.2)">0.69</text>
<text font-size="5.3" text-anchor="middle" fill="#1a1a1a" style="" transform="translate(385.50,472.91) scale(1,1.2)">0.019</text>
<line x1="318.60" y1="483.19" x2="327.60" y2="483.19" stroke="#90b870" stroke-width="1.6"/>
<ellipse cx="323.10" cy="483.19" rx="2.4" ry="2.0" fill="#90b870"/>
<text font-size="5.25" text-anchor="start" fill="#1a1a1a" style="font-style:italic;" transform="translate(329.50,485.09) scale(1,1.2)">E2F1</text>
<text font-size="5.3" text-anchor="middle" fill="#1a1a1a" style="" transform="translate(364.00,485.09) scale(1,1.2)">0.52</text>
<text font-size="5.3" text-anchor="middle" fill="#1a1a1a" style="" transform="translate(385.50,485.09) scale(1,1.2)">0.047</text>
<line x1="318.60" y1="495.37" x2="327.60" y2="495.37" stroke="#1f4f98" stroke-width="1.6"/>
<ellipse cx="323.10" cy="495.37" rx="2.4" ry="2.0" fill="#1f4f98"/>
<text font-size="5.25" text-anchor="start" fill="#1a1a1a" style="font-style:italic;" transform="translate(329.50,497.27) scale(1,1.2)">FANCD2</text>
<text font-size="5.3" text-anchor="middle" fill="#1a1a1a" style="" transform="translate(364.00,497.27) scale(1,1.2)">0.53</text>
<text font-size="5.3" text-anchor="middle" fill="#1a1a1a" style="" transform="translate(385.50,497.27) scale(1,1.2)">0.044</text>
<line x1="318.60" y1="507.55" x2="327.60" y2="507.55" stroke="#4a2a98" stroke-width="1.6"/>
<ellipse cx="323.10" cy="507.55" rx="2.4" ry="2.0" fill="#4a2a98"/>
<text font-size="5.25" text-anchor="start" fill="#1a1a1a" style="font-style:italic;" transform="translate(329.50,509.45) scale(1,1.2)">PRKDC</text>
<text font-size="5.3" text-anchor="middle" fill="#1a1a1a" style="" transform="translate(364.00,509.45) scale(1,1.2)">0.59</text>
<text font-size="5.3" text-anchor="middle" fill="#1a1a1a" style="" transform="translate(385.50,509.45) scale(1,1.2)">0.02</text>
<line x1="318.60" y1="519.73" x2="327.60" y2="519.73" stroke="#a02050" stroke-width="1.6"/>
<ellipse cx="323.10" cy="519.73" rx="2.4" ry="2.0" fill="#a02050"/>
<text font-size="5.25" text-anchor="start" fill="#1a1a1a" style="font-style:italic;" transform="translate(329.50,521.63) scale(1,1.2)">RAD51</text>
<text font-size="5.3" text-anchor="middle" fill="#1a1a1a" style="" transform="translate(364.00,521.63) scale(1,1.2)">0.53</text>
<text font-size="5.3" text-anchor="middle" fill="#1a1a1a" style="" transform="translate(385.50,521.63) scale(1,1.2)">0.044</text>
</svg>
</body></html>
